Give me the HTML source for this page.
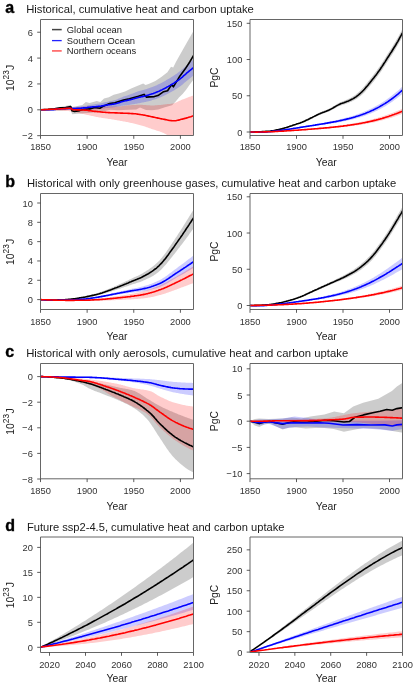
<!DOCTYPE html>
<html><head><meta charset="utf-8"><style>
html,body{margin:0;padding:0;background:#fff;}
body{width:413px;height:685px;overflow:hidden;font-family:"Liberation Sans",sans-serif;}
svg{display:block;will-change:transform;}
</style></head><body>
<svg width="413" height="685" viewBox="0 0 413 685">
<rect width="413" height="685" fill="#fff"/>
<text x="5.3" y="13.0" font-family="'Liberation Sans', sans-serif" font-weight="bold" font-size="16" fill="#000" stroke="#000" stroke-width="0.35">a</text>
<text x="26.2" y="12.9" font-family="'Liberation Sans', sans-serif" font-size="10.8" fill="#1a1a1a" textLength="227.6" lengthAdjust="spacingAndGlyphs">Historical, cumulative heat and carbon uptake</text>
<clipPath id="cpaL"><rect x="40.5" y="19.5" width="153.0" height="116.0"/></clipPath>
<g clip-path="url(#cpaL)">
<path d="M40.5,109.5 L49.8,108.8 L60.1,107.0 L70.3,104.9 L72.2,107.0 L82.3,105.1 L85.9,102.0 L89.5,102.9 L93.2,102.0 L96.8,100.9 L100.4,102.0 L104.0,98.6 L108.9,97.3 L113.7,94.8 L118.6,93.6 L125.0,91.4 L131.1,88.6 L137.1,86.1 L143.2,83.6 L145.6,85.0 L149.2,83.7 L155.3,81.1 L161.3,77.1 L167.4,72.2 L171.0,66.7 L173.2,67.5 L175.9,62.0 L183.2,49.0 L192.6,32.6 L194.0,30.3 L194.0,78.8 L192.1,81.4 L189.6,84.8 L186.1,89.8 L182.6,94.0 L179.0,97.5 L175.5,101.7 L172.0,105.3 L165.0,107.3 L158.2,109.4 L152.1,110.3 L146.0,110.1 L140.0,107.6 L136.2,109.5 L129.1,109.8 L117.9,110.2 L110.5,109.8 L100.2,112.1 L84.3,113.2 L72.2,114.3 L70.3,109.8 L60.1,110.7 L49.8,110.4 L40.5,110.1 Z" fill="#000000" fill-opacity="0.2"/>
<path d="M40.5,109.5 L41.4,109.5 L42.4,109.5 L43.3,109.5 L44.2,109.5 L45.2,109.4 L46.1,109.4 L47.0,109.3 L48.0,109.3 L48.9,109.2 L49.8,109.2 L50.8,109.1 L51.7,109.0 L52.6,108.9 L53.6,108.8 L54.5,108.7 L55.4,108.5 L56.4,108.4 L57.3,108.3 L58.2,108.1 L59.2,108.0 L60.1,107.9 L61.0,107.8 L62.0,107.7 L62.9,107.6 L63.8,107.6 L64.8,107.5 L65.7,107.4 L66.6,107.3 L67.5,107.3 L68.5,107.2 L69.4,107.2 L70.3,107.1 L71.3,107.1 L72.2,107.1 L73.1,107.0 L74.1,107.0 L75.0,106.9 L75.9,106.9 L76.9,106.8 L77.8,106.7 L78.7,106.6 L79.7,106.5 L80.6,106.4 L81.5,106.3 L82.5,106.2 L83.4,106.1 L84.3,105.9 L85.3,105.8 L86.2,105.7 L87.1,105.5 L88.1,105.3 L89.0,105.1 L89.9,105.0 L90.9,104.8 L91.8,104.7 L92.7,104.5 L93.7,104.4 L94.6,104.3 L95.5,104.1 L96.5,104.0 L97.4,103.8 L98.3,103.7 L99.3,103.5 L100.2,103.4 L101.1,103.2 L102.1,103.0 L103.0,102.8 L103.9,102.6 L104.9,102.3 L105.8,102.1 L106.7,101.9 L107.7,101.7 L108.6,101.5 L109.5,101.3 L110.5,101.1 L111.4,100.9 L112.3,100.7 L113.3,100.5 L114.2,100.3 L115.1,100.1 L116.0,99.8 L117.0,99.4 L117.9,99.0 L118.8,98.6 L119.8,98.2 L120.7,97.8 L121.6,97.4 L122.6,97.0 L123.5,96.6 L124.4,96.3 L125.4,96.0 L126.3,95.7 L127.2,95.4 L128.2,95.1 L129.1,94.8 L130.0,94.5 L131.0,94.1 L131.9,93.8 L132.8,93.4 L133.8,93.0 L134.7,92.7 L135.6,92.3 L136.6,92.0 L137.5,91.6 L138.4,91.3 L139.4,91.0 L140.3,90.7 L141.2,90.5 L142.2,90.2 L143.1,90.0 L144.0,89.7 L145.0,89.5 L145.9,89.2 L146.8,88.9 L147.8,88.6 L148.7,88.3 L149.6,87.9 L150.6,87.6 L151.5,87.3 L152.4,86.9 L153.4,86.5 L154.3,86.2 L155.2,85.8 L156.2,85.4 L157.1,85.0 L158.0,84.6 L159.0,84.1 L159.9,83.7 L160.8,83.2 L161.8,82.7 L162.7,82.2 L163.6,81.7 L164.5,81.2 L165.5,80.7 L166.4,80.1 L167.3,79.6 L168.3,79.0 L169.2,78.5 L170.1,77.9 L171.1,77.3 L172.0,76.7 L172.9,76.2 L173.9,75.6 L174.8,74.9 L175.7,74.3 L176.7,73.7 L177.6,73.0 L178.5,72.3 L179.5,71.6 L180.4,70.9 L181.3,70.1 L182.3,69.3 L183.2,68.5 L184.1,67.6 L185.1,66.8 L186.0,65.9 L186.9,65.1 L187.9,64.3 L188.8,63.5 L189.7,62.7 L190.7,61.9 L191.6,61.1 L192.5,60.3 L193.5,59.5 L193.9,59.1 L193.9,75.1 L193.5,75.5 L192.5,76.2 L191.6,77.0 L190.7,77.7 L189.7,78.5 L188.8,79.2 L187.9,80.0 L186.9,80.7 L186.0,81.5 L185.1,82.3 L184.1,83.1 L183.2,83.9 L182.3,84.7 L181.3,85.4 L180.4,86.2 L179.5,86.8 L178.5,87.5 L177.6,88.1 L176.7,88.7 L175.7,89.3 L174.8,89.9 L173.9,90.4 L172.9,91.0 L172.0,91.5 L171.1,92.1 L170.1,92.6 L169.2,93.1 L168.3,93.6 L167.3,94.0 L166.4,94.5 L165.5,95.0 L164.5,95.4 L163.6,95.9 L162.7,96.3 L161.8,96.8 L160.8,97.2 L159.9,97.5 L159.0,97.9 L158.0,98.3 L157.1,98.6 L156.2,98.9 L155.2,99.2 L154.3,99.5 L153.4,99.8 L152.4,100.1 L151.5,100.4 L150.6,100.7 L149.6,100.9 L148.7,101.2 L147.8,101.4 L146.8,101.6 L145.9,101.9 L145.0,102.1 L144.0,102.3 L143.1,102.5 L142.2,102.6 L141.2,102.8 L140.3,103.0 L139.4,103.2 L138.4,103.3 L137.5,103.5 L136.6,103.7 L135.6,103.8 L134.7,104.0 L133.8,104.2 L132.8,104.3 L131.9,104.5 L131.0,104.6 L130.0,104.7 L129.1,104.9 L128.2,105.0 L127.2,105.1 L126.3,105.2 L125.4,105.3 L124.4,105.4 L123.5,105.5 L122.6,105.7 L121.6,105.8 L120.7,106.0 L119.8,106.2 L118.8,106.4 L117.9,106.6 L117.0,106.8 L116.0,107.0 L115.1,107.1 L114.2,107.3 L113.3,107.3 L112.3,107.4 L111.4,107.5 L110.5,107.6 L109.5,107.7 L108.6,107.8 L107.7,107.9 L106.7,108.0 L105.8,108.1 L104.9,108.3 L103.9,108.4 L103.0,108.5 L102.1,108.6 L101.1,108.7 L100.2,108.8 L99.3,108.9 L98.3,108.9 L97.4,109.0 L96.5,109.0 L95.5,109.1 L94.6,109.1 L93.7,109.2 L92.7,109.2 L91.8,109.3 L90.9,109.3 L89.9,109.4 L89.0,109.4 L88.1,109.5 L87.1,109.6 L86.2,109.7 L85.3,109.7 L84.3,109.8 L83.4,109.8 L82.5,109.8 L81.5,109.9 L80.6,109.9 L79.7,109.9 L78.7,110.0 L77.8,110.0 L76.9,110.0 L75.9,110.0 L75.0,110.0 L74.1,110.0 L73.1,110.0 L72.2,110.0 L71.3,109.9 L70.3,109.9 L69.4,109.8 L68.5,109.8 L67.5,109.8 L66.6,109.8 L65.7,109.8 L64.8,109.8 L63.8,109.8 L62.9,109.8 L62.0,109.9 L61.0,109.9 L60.1,109.9 L59.2,109.9 L58.2,109.9 L57.3,110.0 L56.4,110.1 L55.4,110.1 L54.5,110.2 L53.6,110.3 L52.6,110.3 L51.7,110.4 L50.8,110.4 L49.8,110.4 L48.9,110.4 L48.0,110.4 L47.0,110.4 L46.1,110.4 L45.2,110.3 L44.2,110.3 L43.3,110.2 L42.4,110.2 L41.4,110.1 L40.5,110.1 Z" fill="#0000ff" fill-opacity="0.2"/>
<path d="M40.5,109.5 L41.4,109.5 L42.4,109.4 L43.3,109.4 L44.2,109.3 L45.2,109.3 L46.1,109.2 L47.0,109.2 L48.0,109.1 L48.9,109.1 L49.8,109.0 L50.8,109.0 L51.7,108.9 L52.6,108.9 L53.6,108.8 L54.5,108.8 L55.4,108.7 L56.4,108.6 L57.3,108.6 L58.2,108.5 L59.2,108.5 L60.1,108.4 L61.0,108.3 L62.0,108.3 L62.9,108.2 L63.8,108.2 L64.8,108.1 L65.7,108.0 L66.6,108.0 L67.5,107.9 L68.5,107.9 L69.4,107.8 L70.3,107.7 L71.3,107.6 L72.2,107.6 L73.1,107.5 L74.1,107.4 L75.0,107.3 L75.9,107.2 L76.9,107.2 L77.8,107.1 L78.7,107.0 L79.7,106.9 L80.6,106.9 L81.5,106.8 L82.5,106.8 L83.4,106.7 L84.3,106.7 L85.3,106.7 L86.2,106.6 L87.1,106.6 L88.1,106.6 L89.0,106.6 L89.9,106.6 L90.9,106.5 L91.8,106.5 L92.7,106.5 L93.7,106.5 L94.6,106.5 L95.5,106.5 L96.5,106.5 L97.4,106.4 L98.3,106.4 L99.3,106.4 L100.2,106.4 L101.1,106.4 L102.1,106.4 L103.0,106.4 L103.9,106.4 L104.9,106.4 L105.8,106.4 L106.7,106.4 L107.7,106.4 L108.6,106.4 L109.5,106.4 L110.5,106.4 L111.4,106.4 L112.3,106.4 L113.3,106.4 L114.2,106.4 L115.1,106.4 L116.0,106.4 L117.0,106.4 L117.9,106.4 L118.8,106.4 L119.8,106.4 L120.7,106.3 L121.6,106.2 L122.6,106.1 L123.5,105.9 L124.4,105.8 L125.4,105.7 L126.3,105.6 L127.2,105.4 L128.2,105.3 L129.1,105.3 L130.0,105.2 L131.0,105.2 L131.9,105.1 L132.8,105.0 L133.8,105.0 L134.7,104.9 L135.6,104.9 L136.6,104.8 L137.5,104.8 L138.4,104.8 L139.4,104.8 L140.3,104.8 L141.2,104.8 L142.2,104.8 L143.1,104.9 L144.0,105.0 L145.0,105.1 L145.9,105.1 L146.8,105.2 L147.8,105.2 L148.7,105.3 L149.6,105.3 L150.6,105.4 L151.5,105.4 L152.4,105.4 L153.4,105.4 L154.3,105.4 L155.2,105.3 L156.2,105.3 L157.1,105.2 L158.0,105.1 L159.0,105.1 L159.9,105.0 L160.8,104.9 L161.8,104.8 L162.7,104.7 L163.6,104.5 L164.5,104.4 L165.5,104.3 L166.4,104.2 L167.3,104.1 L168.3,104.0 L169.2,104.0 L170.1,103.9 L171.1,103.7 L172.0,103.6 L172.9,103.4 L173.9,103.2 L174.8,102.9 L175.7,102.6 L176.7,102.2 L177.6,101.7 L178.5,101.2 L179.5,100.8 L180.4,100.4 L181.3,100.0 L182.3,99.6 L183.2,99.3 L184.1,98.9 L185.1,98.5 L186.0,98.2 L186.9,97.8 L187.9,97.5 L188.8,97.1 L189.7,96.8 L190.7,96.5 L191.6,96.1 L192.5,95.8 L193.5,95.5 L194.0,95.3 L193.9,148.6 L193.5,148.4 L192.5,148.0 L191.6,147.6 L190.7,147.1 L189.7,146.7 L188.8,146.3 L187.9,145.9 L186.9,145.4 L186.0,145.0 L185.1,144.5 L184.1,144.1 L183.2,143.6 L182.3,143.1 L181.3,142.7 L180.4,142.2 L179.5,141.7 L178.5,141.3 L177.6,140.8 L176.7,140.3 L175.7,139.8 L174.8,139.3 L173.9,138.8 L172.9,138.3 L172.0,137.8 L171.1,137.3 L170.1,136.8 L169.2,136.3 L168.3,135.8 L167.3,135.2 L166.4,134.6 L165.5,134.1 L164.5,133.5 L163.6,133.1 L162.7,132.7 L161.8,132.3 L160.8,131.9 L159.9,131.6 L159.0,131.3 L158.0,131.0 L157.1,130.7 L156.2,130.4 L155.2,130.1 L154.3,129.8 L153.4,129.5 L152.4,129.2 L151.5,128.9 L150.6,128.6 L149.6,128.2 L148.7,127.9 L147.8,127.6 L146.8,127.3 L145.9,127.0 L145.0,126.6 L144.0,126.3 L143.1,126.0 L142.2,125.7 L141.2,125.4 L140.3,125.2 L139.4,124.9 L138.4,124.7 L137.5,124.4 L136.6,124.2 L135.6,124.0 L134.7,123.8 L133.8,123.5 L132.8,123.3 L131.9,123.1 L131.0,122.9 L130.0,122.7 L129.1,122.5 L128.2,122.3 L127.2,122.1 L126.3,122.0 L125.4,121.8 L124.4,121.6 L123.5,121.4 L122.6,121.2 L121.6,121.1 L120.7,120.9 L119.8,120.7 L118.8,120.5 L117.9,120.4 L117.0,120.2 L116.0,120.0 L115.1,119.9 L114.2,119.7 L113.3,119.6 L112.3,119.4 L111.4,119.3 L110.5,119.1 L109.5,119.0 L108.6,118.9 L107.7,118.7 L106.7,118.6 L105.8,118.5 L104.9,118.3 L103.9,118.2 L103.0,118.0 L102.1,117.9 L101.1,117.7 L100.2,117.6 L99.3,117.4 L98.3,117.2 L97.4,117.0 L96.5,116.9 L95.5,116.7 L94.6,116.5 L93.7,116.3 L92.7,116.1 L91.8,115.9 L90.9,115.7 L89.9,115.5 L89.0,115.3 L88.1,115.1 L87.1,114.9 L86.2,114.7 L85.3,114.5 L84.3,114.3 L83.4,114.1 L82.5,113.9 L81.5,113.7 L80.6,113.5 L79.7,113.2 L78.7,113.0 L77.8,112.8 L76.9,112.5 L75.9,112.3 L75.0,112.1 L74.1,111.9 L73.1,111.7 L72.2,111.6 L71.3,111.4 L70.3,111.3 L69.4,111.2 L68.5,111.1 L67.5,111.0 L66.6,111.0 L65.7,110.9 L64.8,110.9 L63.8,110.8 L62.9,110.7 L62.0,110.7 L61.0,110.6 L60.1,110.6 L59.2,110.5 L58.2,110.5 L57.3,110.5 L56.4,110.4 L55.4,110.4 L54.5,110.3 L53.6,110.3 L52.6,110.3 L51.7,110.2 L50.8,110.2 L49.8,110.2 L48.9,110.2 L48.0,110.1 L47.0,110.1 L46.1,110.1 L45.2,110.1 L44.2,110.1 L43.3,110.1 L42.4,110.1 L41.4,110.1 L40.5,110.1 Z" fill="#ff0000" fill-opacity="0.2"/>
<path d="M40.5,109.8 L48.0,109.4 L54.5,108.8 L60.1,107.9 L65.7,107.5 L70.8,106.6 L72.0,110.7 L74.5,111.4 L79.7,110.6 L84.3,109.2 L89.9,108.9 L94.6,107.5 L99.9,108.2 L103.9,105.9 L109.5,103.6 L114.8,102.7 L123.5,100.1 L129.4,98.8 L138.4,96.2 L144.0,94.4 L146.5,97.1 L149.6,96.9 L154.3,96.6 L158.0,95.6 L163.6,91.7 L167.6,90.7 L171.5,84.8 L173.4,86.8 L179.8,76.2 L185.1,69.1 L189.7,62.0 L193.9,54.8" fill="none" stroke="#000000" stroke-width="1.6" stroke-linejoin="round"/>
<path d="M40.5,109.8 L41.4,109.8 L42.4,109.8 L43.3,109.8 L44.2,109.8 L45.2,109.8 L46.1,109.8 L47.0,109.8 L48.0,109.8 L48.9,109.8 L49.8,109.8 L50.8,109.8 L51.7,109.7 L52.6,109.7 L53.6,109.6 L54.5,109.5 L55.4,109.4 L56.4,109.3 L57.3,109.1 L58.2,109.0 L59.2,109.0 L60.1,108.9 L61.0,108.8 L62.0,108.8 L62.9,108.7 L63.8,108.7 L64.8,108.6 L65.7,108.6 L66.6,108.5 L67.5,108.5 L68.5,108.5 L69.4,108.5 L70.3,108.5 L71.3,108.5 L72.2,108.5 L73.1,108.5 L74.1,108.5 L75.0,108.5 L75.9,108.5 L76.9,108.4 L77.8,108.4 L78.7,108.3 L79.7,108.3 L80.6,108.2 L81.5,108.1 L82.5,108.0 L83.4,107.9 L84.3,107.9 L85.3,107.8 L86.2,107.7 L87.1,107.6 L88.1,107.4 L89.0,107.3 L89.9,107.2 L90.9,107.1 L91.8,107.0 L92.7,106.9 L93.7,106.8 L94.6,106.8 L95.5,106.7 L96.5,106.6 L97.4,106.5 L98.3,106.4 L99.3,106.3 L100.2,106.2 L101.1,106.1 L102.1,105.9 L103.0,105.8 L103.9,105.6 L104.9,105.4 L105.8,105.3 L106.7,105.1 L107.7,104.9 L108.6,104.8 L109.5,104.6 L110.5,104.5 L111.4,104.4 L112.3,104.2 L113.3,104.1 L114.2,104.0 L115.1,103.8 L116.0,103.6 L117.0,103.3 L117.9,103.0 L118.8,102.7 L119.8,102.4 L120.7,102.1 L121.6,101.8 L122.6,101.5 L123.5,101.3 L124.4,101.0 L125.4,100.8 L126.3,100.6 L127.2,100.4 L128.2,100.3 L129.1,100.0 L130.0,99.8 L131.0,99.6 L131.9,99.3 L132.8,99.1 L133.8,98.8 L134.7,98.5 L135.6,98.3 L136.6,98.0 L137.5,97.8 L138.4,97.5 L139.4,97.3 L140.3,97.1 L141.2,96.8 L142.2,96.6 L143.1,96.4 L144.0,96.2 L145.0,96.0 L145.9,95.7 L146.8,95.4 L147.8,95.2 L148.7,94.9 L149.6,94.6 L150.6,94.3 L151.5,94.0 L152.4,93.7 L153.4,93.4 L154.3,93.0 L155.2,92.7 L156.2,92.3 L157.1,91.9 L158.0,91.6 L159.0,91.2 L159.9,90.8 L160.8,90.3 L161.8,89.9 L162.7,89.4 L163.6,88.9 L164.5,88.5 L165.5,88.0 L166.4,87.5 L167.3,86.9 L168.3,86.4 L169.2,85.9 L170.1,85.4 L171.1,84.8 L172.0,84.2 L172.9,83.7 L173.9,83.1 L174.8,82.5 L175.7,81.9 L176.7,81.3 L177.6,80.6 L178.5,80.0 L179.5,79.3 L180.4,78.6 L181.3,77.9 L182.3,77.1 L183.2,76.2 L184.1,75.4 L185.1,74.6 L186.0,73.8 L186.9,72.9 L187.9,72.2 L188.8,71.4 L189.7,70.6 L190.7,69.8 L191.6,69.1 L192.5,68.3 L193.5,67.5 L193.9,67.1" fill="none" stroke="#0000ff" stroke-width="1.6" stroke-linejoin="round"/>
<path d="M40.5,109.8 L41.4,109.8 L42.4,109.7 L43.3,109.7 L44.2,109.6 L45.2,109.6 L46.1,109.5 L47.0,109.5 L48.0,109.5 L48.9,109.4 L49.8,109.4 L50.8,109.3 L51.7,109.3 L52.6,109.2 L53.6,109.2 L54.5,109.2 L55.4,109.1 L56.4,109.1 L57.3,109.0 L58.2,109.0 L59.2,108.9 L60.1,108.9 L61.0,108.8 L62.0,108.8 L62.9,108.7 L63.8,108.6 L64.8,108.6 L65.7,108.5 L66.6,108.4 L67.5,108.4 L68.5,108.3 L69.4,108.3 L70.3,108.3 L71.3,108.5 L72.2,109.4 L73.1,109.6 L74.1,109.7 L75.0,109.8 L75.9,109.8 L76.9,109.9 L77.8,109.9 L78.7,109.9 L79.7,109.9 L80.6,110.0 L81.5,110.0 L82.5,110.0 L83.4,110.0 L84.3,110.1 L85.3,110.1 L86.2,110.2 L87.1,110.3 L88.1,110.4 L89.0,110.6 L89.9,110.7 L90.9,110.8 L91.8,111.0 L92.7,111.1 L93.7,111.2 L94.6,111.4 L95.5,111.4 L96.5,111.5 L97.4,111.6 L98.3,111.7 L99.3,111.8 L100.2,111.9 L101.1,112.0 L102.1,112.1 L103.0,112.2 L103.9,112.3 L104.9,112.3 L105.8,112.4 L106.7,112.5 L107.7,112.5 L108.6,112.6 L109.5,112.6 L110.5,112.7 L111.4,112.7 L112.3,112.8 L113.3,112.8 L114.2,112.8 L115.1,112.9 L116.0,112.9 L117.0,112.9 L117.9,113.0 L118.8,113.0 L119.8,113.0 L120.7,113.1 L121.6,113.1 L122.6,113.1 L123.5,113.2 L124.4,113.2 L125.4,113.2 L126.3,113.3 L127.2,113.3 L128.2,113.4 L129.1,113.4 L130.0,113.5 L131.0,113.5 L131.9,113.6 L132.8,113.6 L133.8,113.7 L134.7,113.8 L135.6,113.8 L136.6,114.0 L137.5,114.1 L138.4,114.2 L139.4,114.4 L140.3,114.5 L141.2,114.7 L142.2,114.8 L143.1,115.0 L144.0,115.1 L145.0,115.3 L145.9,115.5 L146.8,115.7 L147.8,115.9 L148.7,116.1 L149.6,116.3 L150.6,116.5 L151.5,116.7 L152.4,116.9 L153.4,117.1 L154.3,117.3 L155.2,117.5 L156.2,117.7 L157.1,117.9 L158.0,118.1 L159.0,118.3 L159.9,118.5 L160.8,118.7 L161.8,118.9 L162.7,119.0 L163.6,119.2 L164.5,119.4 L165.5,119.6 L166.4,119.8 L167.3,120.0 L168.3,120.2 L169.2,120.4 L170.1,120.5 L171.1,120.6 L172.0,120.7 L172.9,120.8 L173.9,120.8 L174.8,120.8 L175.7,120.7 L176.7,120.5 L177.6,120.3 L178.5,120.1 L179.5,119.9 L180.4,119.6 L181.3,119.3 L182.3,119.1 L183.2,118.9 L184.1,118.6 L185.1,118.4 L186.0,118.1 L186.9,117.9 L187.9,117.6 L188.8,117.3 L189.7,117.0 L190.7,116.7 L191.6,116.4 L192.5,116.1 L193.5,115.8 L193.9,115.6" fill="none" stroke="#ff0000" stroke-width="1.6" stroke-linejoin="round"/>
</g>
<path d="M40.5,19.5 H193.5 V135.5 H40.5 Z" fill="none" stroke="#666" stroke-width="1"/>
<line x1="37.2" y1="135.66" x2="40.5" y2="135.66" stroke="#333" stroke-width="0.8"/>
<text x="32.9" y="139.16" font-family="'Liberation Sans', sans-serif" font-size="9.9" fill="#333" text-anchor="end" textLength="10.61" lengthAdjust="spacingAndGlyphs">−2</text>
<line x1="37.2" y1="109.80" x2="40.5" y2="109.80" stroke="#333" stroke-width="0.8"/>
<text x="32.9" y="113.30" font-family="'Liberation Sans', sans-serif" font-size="9.9" fill="#333" text-anchor="end" textLength="5.18" lengthAdjust="spacingAndGlyphs">0</text>
<line x1="37.2" y1="83.94" x2="40.5" y2="83.94" stroke="#333" stroke-width="0.8"/>
<text x="32.9" y="87.44" font-family="'Liberation Sans', sans-serif" font-size="9.9" fill="#333" text-anchor="end" textLength="5.18" lengthAdjust="spacingAndGlyphs">2</text>
<line x1="37.2" y1="58.08" x2="40.5" y2="58.08" stroke="#333" stroke-width="0.8"/>
<text x="32.9" y="61.58" font-family="'Liberation Sans', sans-serif" font-size="9.9" fill="#333" text-anchor="end" textLength="5.18" lengthAdjust="spacingAndGlyphs">4</text>
<line x1="37.2" y1="32.22" x2="40.5" y2="32.22" stroke="#333" stroke-width="0.8"/>
<text x="32.9" y="35.72" font-family="'Liberation Sans', sans-serif" font-size="9.9" fill="#333" text-anchor="end" textLength="5.18" lengthAdjust="spacingAndGlyphs">6</text>
<line x1="40.50" y1="135.5" x2="40.50" y2="138.8" stroke="#333" stroke-width="0.8"/>
<text x="40.50" y="150.3" font-family="'Liberation Sans', sans-serif" font-size="9.9" fill="#333" text-anchor="middle" textLength="20.70" lengthAdjust="spacingAndGlyphs">1850</text>
<line x1="87.13" y1="135.5" x2="87.13" y2="138.8" stroke="#333" stroke-width="0.8"/>
<text x="87.13" y="150.3" font-family="'Liberation Sans', sans-serif" font-size="9.9" fill="#333" text-anchor="middle" textLength="20.70" lengthAdjust="spacingAndGlyphs">1900</text>
<line x1="133.77" y1="135.5" x2="133.77" y2="138.8" stroke="#333" stroke-width="0.8"/>
<text x="133.77" y="150.3" font-family="'Liberation Sans', sans-serif" font-size="9.9" fill="#333" text-anchor="middle" textLength="20.70" lengthAdjust="spacingAndGlyphs">1950</text>
<line x1="180.41" y1="135.5" x2="180.41" y2="138.8" stroke="#333" stroke-width="0.8"/>
<text x="180.41" y="150.3" font-family="'Liberation Sans', sans-serif" font-size="9.9" fill="#333" text-anchor="middle" textLength="20.70" lengthAdjust="spacingAndGlyphs">2000</text>
<text x="117.0" y="165.9" font-family="'Liberation Sans', sans-serif" font-size="10.4" fill="#222" text-anchor="middle">Year</text>
<text transform="translate(13.8,77.9) rotate(-90)" font-family="'Liberation Sans', sans-serif" font-size="10.4" fill="#222" text-anchor="middle">10<tspan font-size="8.3" dy="-4.9">23</tspan><tspan dy="4.9" dx="0.3">J</tspan></text>
<clipPath id="cpaR"><rect x="250.0" y="19.5" width="152.5" height="116.0"/></clipPath>
<g clip-path="url(#cpaR)">
<path d="M250.0,131.9 L250.9,131.9 L251.9,131.8 L252.8,131.8 L253.7,131.8 L254.7,131.8 L255.6,131.7 L256.5,131.7 L257.4,131.7 L258.4,131.6 L259.3,131.6 L260.2,131.5 L261.2,131.4 L262.1,131.4 L263.0,131.3 L263.9,131.2 L264.9,131.2 L265.8,131.1 L266.7,131.0 L267.7,130.9 L268.6,130.8 L269.5,130.8 L270.5,130.7 L271.4,130.5 L272.3,130.4 L273.2,130.2 L274.2,130.0 L275.1,129.9 L276.0,129.7 L277.0,129.4 L277.9,129.2 L278.8,129.0 L279.8,128.8 L280.7,128.6 L281.6,128.3 L282.6,128.1 L283.5,127.8 L284.4,127.5 L285.3,127.3 L286.3,127.0 L287.2,126.6 L288.1,126.3 L289.1,126.0 L290.0,125.7 L290.9,125.3 L291.9,125.0 L292.8,124.7 L293.7,124.3 L294.6,124.0 L295.6,123.7 L296.5,123.4 L297.4,123.1 L298.4,122.7 L299.3,122.4 L300.2,122.1 L301.1,121.7 L302.1,121.3 L303.0,121.0 L303.9,120.5 L304.9,120.1 L305.8,119.6 L306.7,119.2 L307.7,118.7 L308.6,118.2 L309.5,117.8 L310.4,117.3 L311.4,116.8 L312.3,116.3 L313.2,115.9 L314.2,115.4 L315.1,114.9 L316.0,114.4 L317.0,113.9 L317.9,113.4 L318.8,113.0 L319.8,112.5 L320.7,112.1 L321.6,111.7 L322.5,111.4 L323.5,111.0 L324.4,110.6 L325.3,110.3 L326.3,109.9 L327.2,109.5 L328.1,109.1 L329.1,108.7 L330.0,108.2 L330.9,107.7 L331.8,107.2 L332.8,106.6 L333.7,106.0 L334.6,105.5 L335.6,104.9 L336.5,104.3 L337.4,103.8 L338.4,103.3 L339.3,102.8 L340.2,102.3 L341.1,101.9 L342.1,101.5 L343.0,101.2 L343.9,100.8 L344.9,100.5 L345.8,100.1 L346.7,99.7 L347.6,99.3 L348.6,98.8 L349.5,98.4 L350.4,97.9 L351.4,97.4 L352.3,96.8 L353.2,96.3 L354.2,95.7 L355.1,95.1 L356.0,94.4 L356.9,93.6 L357.9,92.8 L358.8,92.0 L359.7,91.1 L360.7,90.2 L361.6,89.3 L362.5,88.3 L363.5,87.3 L364.4,86.2 L365.3,85.1 L366.2,83.9 L367.2,82.8 L368.1,81.6 L369.0,80.4 L370.0,79.2 L370.9,78.1 L371.8,76.9 L372.8,75.7 L373.7,74.5 L374.6,73.3 L375.6,72.1 L376.5,70.9 L377.4,69.6 L378.3,68.3 L379.3,67.0 L380.2,65.7 L381.1,64.3 L382.1,62.8 L383.0,61.4 L383.9,59.9 L384.9,58.5 L385.8,57.0 L386.7,55.5 L387.6,54.0 L388.6,52.6 L389.5,51.1 L390.4,49.7 L391.4,48.2 L392.3,46.7 L393.2,45.2 L394.1,43.7 L395.1,42.2 L396.0,40.6 L396.9,39.0 L397.9,37.4 L398.8,35.7 L399.7,34.0 L400.7,32.3 L401.6,30.6 L402.5,28.9 L403.5,27.3 L403.5,35.3 L402.5,36.9 L401.6,38.5 L400.7,40.1 L399.7,41.8 L398.8,43.5 L397.9,45.1 L396.9,46.8 L396.0,48.3 L395.1,49.9 L394.1,51.4 L393.2,52.8 L392.3,54.3 L391.4,55.7 L390.4,57.1 L389.5,58.6 L388.6,60.0 L387.6,61.4 L386.7,62.8 L385.8,64.3 L384.9,65.7 L383.9,67.1 L383.0,68.6 L382.1,70.0 L381.1,71.4 L380.2,72.7 L379.3,74.1 L378.3,75.3 L377.4,76.6 L376.5,77.8 L375.6,79.0 L374.6,80.2 L373.7,81.4 L372.8,82.6 L371.8,83.7 L370.9,84.8 L370.0,85.9 L369.0,87.0 L368.1,88.1 L367.2,89.2 L366.2,90.3 L365.3,91.4 L364.4,92.4 L363.5,93.3 L362.5,94.2 L361.6,95.1 L360.7,95.9 L359.7,96.6 L358.8,97.3 L357.9,98.0 L356.9,98.7 L356.0,99.3 L355.1,99.8 L354.2,100.3 L353.2,100.8 L352.3,101.3 L351.4,101.7 L350.4,102.1 L349.5,102.5 L348.6,102.9 L347.6,103.3 L346.7,103.6 L345.8,103.9 L344.9,104.2 L343.9,104.5 L343.0,104.8 L342.1,105.1 L341.1,105.4 L340.2,105.7 L339.3,106.1 L338.4,106.5 L337.4,107.0 L336.5,107.5 L335.6,108.0 L334.6,108.5 L333.7,109.0 L332.8,109.5 L331.8,110.0 L330.9,110.5 L330.0,110.9 L329.1,111.4 L328.1,111.8 L327.2,112.1 L326.3,112.5 L325.3,112.8 L324.4,113.2 L323.5,113.5 L322.5,113.8 L321.6,114.2 L320.7,114.5 L319.8,114.9 L318.8,115.3 L317.9,115.7 L317.0,116.1 L316.0,116.6 L315.1,117.0 L314.2,117.5 L313.2,118.0 L312.3,118.4 L311.4,118.9 L310.4,119.3 L309.5,119.7 L308.6,120.2 L307.7,120.6 L306.7,121.0 L305.8,121.5 L304.9,121.9 L303.9,122.3 L303.0,122.7 L302.1,123.0 L301.1,123.4 L300.2,123.7 L299.3,124.0 L298.4,124.3 L297.4,124.6 L296.5,124.8 L295.6,125.1 L294.6,125.4 L293.7,125.7 L292.8,126.0 L291.9,126.3 L290.9,126.6 L290.0,126.9 L289.1,127.2 L288.1,127.5 L287.2,127.9 L286.3,128.1 L285.3,128.4 L284.4,128.7 L283.5,128.9 L282.6,129.2 L281.6,129.4 L280.7,129.6 L279.8,129.8 L278.8,130.0 L277.9,130.2 L277.0,130.4 L276.0,130.6 L275.1,130.8 L274.2,131.0 L273.2,131.1 L272.3,131.2 L271.4,131.4 L270.5,131.5 L269.5,131.5 L268.6,131.6 L267.7,131.6 L266.7,131.7 L265.8,131.7 L264.9,131.8 L263.9,131.8 L263.0,131.9 L262.1,131.9 L261.2,131.9 L260.2,132.0 L259.3,132.0 L258.4,132.0 L257.4,132.0 L256.5,132.1 L255.6,132.1 L254.7,132.1 L253.7,132.1 L252.8,132.1 L251.9,132.1 L250.9,132.1 L250.0,132.1 Z" fill="#000000" fill-opacity="0.2"/>
<path d="M250.0,131.7 L250.9,131.8 L251.9,131.9 L252.8,131.9 L253.7,132.0 L254.7,132.0 L255.6,132.1 L256.5,132.1 L257.4,132.1 L258.4,132.1 L259.3,132.1 L260.2,132.1 L261.2,132.0 L262.1,132.0 L263.0,132.0 L263.9,131.9 L264.9,131.8 L265.8,131.8 L266.7,131.7 L267.7,131.6 L268.6,131.5 L269.5,131.4 L270.5,131.4 L271.4,131.3 L272.3,131.1 L273.2,131.0 L274.2,130.9 L275.1,130.8 L276.0,130.7 L277.0,130.6 L277.9,130.4 L278.8,130.3 L279.8,130.2 L280.7,130.0 L281.6,129.9 L282.6,129.8 L283.5,129.6 L284.4,129.5 L285.3,129.3 L286.3,129.2 L287.2,129.0 L288.1,128.9 L289.1,128.7 L290.0,128.6 L290.9,128.4 L291.9,128.3 L292.8,128.1 L293.7,127.9 L294.6,127.8 L295.6,127.6 L296.5,127.5 L297.4,127.3 L298.4,127.2 L299.3,127.0 L300.2,126.8 L301.1,126.7 L302.1,126.5 L303.0,126.4 L303.9,126.2 L304.9,126.0 L305.8,125.9 L306.7,125.7 L307.7,125.6 L308.6,125.4 L309.5,125.2 L310.4,125.1 L311.4,124.9 L312.3,124.7 L313.2,124.6 L314.2,124.4 L315.1,124.2 L316.0,124.1 L317.0,123.9 L317.9,123.7 L318.8,123.6 L319.8,123.4 L320.7,123.2 L321.6,123.1 L322.5,122.9 L323.5,122.7 L324.4,122.5 L325.3,122.4 L326.3,122.2 L327.2,122.0 L328.1,121.8 L329.1,121.6 L330.0,121.5 L330.9,121.3 L331.8,121.1 L332.8,120.9 L333.7,120.7 L334.6,120.5 L335.6,120.3 L336.5,120.1 L337.4,119.9 L338.4,119.7 L339.3,119.4 L340.2,119.2 L341.1,119.0 L342.1,118.8 L343.0,118.5 L343.9,118.3 L344.9,118.1 L345.8,117.8 L346.7,117.6 L347.6,117.3 L348.6,117.0 L349.5,116.8 L350.4,116.5 L351.4,116.2 L352.3,115.9 L353.2,115.7 L354.2,115.4 L355.1,115.1 L356.0,114.7 L356.9,114.4 L357.9,114.1 L358.8,113.8 L359.7,113.4 L360.7,113.1 L361.6,112.7 L362.5,112.4 L363.5,112.0 L364.4,111.6 L365.3,111.2 L366.2,110.8 L367.2,110.4 L368.1,110.0 L369.0,109.6 L370.0,109.1 L370.9,108.7 L371.8,108.2 L372.8,107.8 L373.7,107.3 L374.6,106.8 L375.6,106.3 L376.5,105.8 L377.4,105.3 L378.3,104.8 L379.3,104.2 L380.2,103.7 L381.1,103.1 L382.1,102.5 L383.0,101.9 L383.9,101.3 L384.9,100.7 L385.8,100.1 L386.7,99.4 L387.6,98.8 L388.6,98.1 L389.5,97.4 L390.4,96.7 L391.4,96.0 L392.3,95.3 L393.2,94.6 L394.1,93.8 L395.1,93.1 L396.0,92.3 L396.9,91.5 L397.9,90.7 L398.8,89.9 L399.7,89.1 L400.7,88.2 L401.6,87.3 L402.5,86.5 L403.5,85.6 L403.5,92.9 L402.5,93.7 L401.6,94.5 L400.7,95.2 L399.7,96.0 L398.8,96.8 L397.9,97.5 L396.9,98.2 L396.0,98.9 L395.1,99.6 L394.1,100.3 L393.2,101.0 L392.3,101.7 L391.4,102.3 L390.4,102.9 L389.5,103.5 L388.6,104.1 L387.6,104.7 L386.7,105.3 L385.8,105.9 L384.9,106.4 L383.9,107.0 L383.0,107.5 L382.1,108.0 L381.1,108.5 L380.2,109.0 L379.3,109.5 L378.3,110.0 L377.4,110.4 L376.5,110.9 L375.6,111.3 L374.6,111.8 L373.7,112.2 L372.8,112.6 L371.8,113.0 L370.9,113.4 L370.0,113.8 L369.0,114.1 L368.1,114.5 L367.2,114.8 L366.2,115.2 L365.3,115.5 L364.4,115.9 L363.5,116.2 L362.5,116.5 L361.6,116.8 L360.7,117.1 L359.7,117.4 L358.8,117.6 L357.9,117.9 L356.9,118.2 L356.0,118.4 L355.1,118.7 L354.2,118.9 L353.2,119.2 L352.3,119.4 L351.4,119.7 L350.4,119.9 L349.5,120.1 L348.6,120.3 L347.6,120.5 L346.7,120.7 L345.8,120.9 L344.9,121.1 L343.9,121.3 L343.0,121.5 L342.1,121.7 L341.1,121.9 L340.2,122.0 L339.3,122.2 L338.4,122.4 L337.4,122.5 L336.5,122.7 L335.6,122.9 L334.6,123.0 L333.7,123.2 L332.8,123.3 L331.8,123.5 L330.9,123.6 L330.0,123.8 L329.1,123.9 L328.1,124.0 L327.2,124.2 L326.3,124.3 L325.3,124.5 L324.4,124.6 L323.5,124.7 L322.5,124.9 L321.6,125.0 L320.7,125.1 L319.8,125.3 L318.8,125.4 L317.9,125.5 L317.0,125.7 L316.0,125.8 L315.1,125.9 L314.2,126.0 L313.2,126.2 L312.3,126.3 L311.4,126.4 L310.4,126.6 L309.5,126.7 L308.6,126.8 L307.7,127.0 L306.7,127.1 L305.8,127.2 L304.9,127.3 L303.9,127.5 L303.0,127.6 L302.1,127.7 L301.1,127.9 L300.2,128.0 L299.3,128.1 L298.4,128.3 L297.4,128.4 L296.5,128.5 L295.6,128.7 L294.6,128.8 L293.7,128.9 L292.8,129.1 L291.9,129.2 L290.9,129.3 L290.0,129.5 L289.1,129.6 L288.1,129.7 L287.2,129.9 L286.3,130.0 L285.3,130.1 L284.4,130.2 L283.5,130.4 L282.6,130.5 L281.6,130.6 L280.7,130.7 L279.8,130.9 L278.8,131.0 L277.9,131.1 L277.0,131.2 L276.0,131.3 L275.1,131.4 L274.2,131.5 L273.2,131.6 L272.3,131.7 L271.4,131.8 L270.5,131.9 L269.5,132.0 L268.6,132.1 L267.7,132.1 L266.7,132.2 L265.8,132.3 L264.9,132.3 L263.9,132.4 L263.0,132.4 L262.1,132.5 L261.2,132.5 L260.2,132.5 L259.3,132.5 L258.4,132.5 L257.4,132.5 L256.5,132.5 L255.6,132.5 L254.7,132.5 L253.7,132.4 L252.8,132.4 L251.9,132.3 L250.9,132.2 L250.0,132.1 Z" fill="#0000ff" fill-opacity="0.2"/>
<path d="M250.0,131.8 L250.9,131.8 L251.9,131.8 L252.8,131.8 L253.7,131.8 L254.7,131.8 L255.6,131.8 L256.5,131.8 L257.4,131.8 L258.4,131.8 L259.3,131.8 L260.2,131.8 L261.2,131.8 L262.1,131.8 L263.0,131.7 L263.9,131.7 L264.9,131.7 L265.8,131.7 L266.7,131.6 L267.7,131.6 L268.6,131.6 L269.5,131.5 L270.5,131.5 L271.4,131.4 L272.3,131.4 L273.2,131.3 L274.2,131.3 L275.1,131.2 L276.0,131.2 L277.0,131.1 L277.9,131.1 L278.8,131.0 L279.8,131.0 L280.7,130.9 L281.6,130.9 L282.6,130.8 L283.5,130.7 L284.4,130.7 L285.3,130.6 L286.3,130.5 L287.2,130.5 L288.1,130.4 L289.1,130.4 L290.0,130.3 L290.9,130.2 L291.9,130.1 L292.8,130.1 L293.7,130.0 L294.6,129.9 L295.6,129.9 L296.5,129.8 L297.4,129.7 L298.4,129.6 L299.3,129.6 L300.2,129.5 L301.1,129.4 L302.1,129.3 L303.0,129.3 L303.9,129.2 L304.9,129.1 L305.8,129.0 L306.7,128.9 L307.7,128.9 L308.6,128.8 L309.5,128.7 L310.4,128.6 L311.4,128.5 L312.3,128.4 L313.2,128.4 L314.2,128.3 L315.1,128.2 L316.0,128.1 L317.0,128.0 L317.9,127.9 L318.8,127.8 L319.8,127.7 L320.7,127.6 L321.6,127.6 L322.5,127.5 L323.5,127.4 L324.4,127.3 L325.3,127.2 L326.3,127.1 L327.2,127.0 L328.1,126.9 L329.1,126.8 L330.0,126.6 L330.9,126.5 L331.8,126.4 L332.8,126.3 L333.7,126.2 L334.6,126.1 L335.6,126.0 L336.5,125.9 L337.4,125.7 L338.4,125.6 L339.3,125.5 L340.2,125.4 L341.1,125.2 L342.1,125.1 L343.0,125.0 L343.9,124.8 L344.9,124.7 L345.8,124.6 L346.7,124.4 L347.6,124.3 L348.6,124.1 L349.5,124.0 L350.4,123.8 L351.4,123.7 L352.3,123.5 L353.2,123.4 L354.2,123.2 L355.1,123.0 L356.0,122.8 L356.9,122.7 L357.9,122.5 L358.8,122.3 L359.7,122.1 L360.7,121.9 L361.6,121.8 L362.5,121.6 L363.5,121.4 L364.4,121.2 L365.3,120.9 L366.2,120.7 L367.2,120.5 L368.1,120.3 L369.0,120.1 L370.0,119.9 L370.9,119.6 L371.8,119.4 L372.8,119.1 L373.7,118.9 L374.6,118.6 L375.6,118.4 L376.5,118.1 L377.4,117.9 L378.3,117.6 L379.3,117.3 L380.2,117.0 L381.1,116.8 L382.1,116.5 L383.0,116.2 L383.9,115.9 L384.9,115.6 L385.8,115.3 L386.7,114.9 L387.6,114.6 L388.6,114.3 L389.5,114.0 L390.4,113.6 L391.4,113.3 L392.3,112.9 L393.2,112.6 L394.1,112.2 L395.1,111.8 L396.0,111.5 L396.9,111.1 L397.9,110.7 L398.8,110.3 L399.7,109.9 L400.7,109.5 L401.6,109.1 L402.5,108.6 L403.5,108.2 L403.5,113.3 L402.5,113.7 L401.6,114.1 L400.7,114.4 L399.7,114.8 L398.8,115.1 L397.9,115.5 L396.9,115.8 L396.0,116.1 L395.1,116.4 L394.1,116.8 L393.2,117.1 L392.3,117.4 L391.4,117.7 L390.4,118.0 L389.5,118.2 L388.6,118.5 L387.6,118.8 L386.7,119.1 L385.8,119.3 L384.9,119.6 L383.9,119.9 L383.0,120.1 L382.1,120.4 L381.1,120.6 L380.2,120.8 L379.3,121.1 L378.3,121.3 L377.4,121.5 L376.5,121.7 L375.6,121.9 L374.6,122.2 L373.7,122.4 L372.8,122.6 L371.8,122.8 L370.9,122.9 L370.0,123.1 L369.0,123.3 L368.1,123.5 L367.2,123.7 L366.2,123.8 L365.3,124.0 L364.4,124.2 L363.5,124.3 L362.5,124.5 L361.6,124.7 L360.7,124.8 L359.7,125.0 L358.8,125.1 L357.9,125.2 L356.9,125.4 L356.0,125.5 L355.1,125.6 L354.2,125.8 L353.2,125.9 L352.3,126.0 L351.4,126.1 L350.4,126.3 L349.5,126.4 L348.6,126.5 L347.6,126.6 L346.7,126.7 L345.8,126.8 L344.9,126.9 L343.9,127.0 L343.0,127.1 L342.1,127.2 L341.1,127.3 L340.2,127.4 L339.3,127.5 L338.4,127.6 L337.4,127.7 L336.5,127.8 L335.6,127.9 L334.6,127.9 L333.7,128.0 L332.8,128.1 L331.8,128.2 L330.9,128.3 L330.0,128.4 L329.1,128.4 L328.1,128.5 L327.2,128.6 L326.3,128.6 L325.3,128.7 L324.4,128.8 L323.5,128.9 L322.5,128.9 L321.6,129.0 L320.7,129.1 L319.8,129.1 L318.8,129.2 L317.9,129.3 L317.0,129.3 L316.0,129.4 L315.1,129.5 L314.2,129.5 L313.2,129.6 L312.3,129.7 L311.4,129.7 L310.4,129.8 L309.5,129.8 L308.6,129.9 L307.7,130.0 L306.7,130.0 L305.8,130.1 L304.9,130.1 L303.9,130.2 L303.0,130.3 L302.1,130.3 L301.1,130.4 L300.2,130.4 L299.3,130.5 L298.4,130.5 L297.4,130.6 L296.5,130.7 L295.6,130.7 L294.6,130.8 L293.7,130.8 L292.8,130.9 L291.9,130.9 L290.9,131.0 L290.0,131.0 L289.1,131.1 L288.1,131.1 L287.2,131.2 L286.3,131.2 L285.3,131.3 L284.4,131.3 L283.5,131.4 L282.6,131.4 L281.6,131.5 L280.7,131.5 L279.8,131.6 L278.8,131.6 L277.9,131.7 L277.0,131.7 L276.0,131.8 L275.1,131.8 L274.2,131.8 L273.2,131.9 L272.3,131.9 L271.4,132.0 L270.5,132.0 L269.5,132.0 L268.6,132.1 L267.7,132.1 L266.7,132.1 L265.8,132.1 L264.9,132.2 L263.9,132.2 L263.0,132.2 L262.1,132.2 L261.2,132.2 L260.2,132.3 L259.3,132.3 L258.4,132.3 L257.4,132.3 L256.5,132.3 L255.6,132.3 L254.7,132.3 L253.7,132.3 L252.8,132.2 L251.9,132.2 L250.9,132.2 L250.0,132.2 Z" fill="#ff0000" fill-opacity="0.2"/>
<path d="M250.0,132.0 L250.9,132.0 L251.9,132.0 L252.8,132.0 L253.7,132.0 L254.7,131.9 L255.6,131.9 L256.5,131.9 L257.4,131.9 L258.4,131.8 L259.3,131.8 L260.2,131.7 L261.2,131.7 L262.1,131.6 L263.0,131.6 L263.9,131.5 L264.9,131.5 L265.8,131.4 L266.7,131.4 L267.7,131.3 L268.6,131.2 L269.5,131.2 L270.5,131.1 L271.4,130.9 L272.3,130.8 L273.2,130.7 L274.2,130.5 L275.1,130.3 L276.0,130.1 L277.0,129.9 L277.9,129.7 L278.8,129.5 L279.8,129.3 L280.7,129.1 L281.6,128.9 L282.6,128.6 L283.5,128.4 L284.4,128.1 L285.3,127.8 L286.3,127.5 L287.2,127.2 L288.1,126.9 L289.1,126.6 L290.0,126.3 L290.9,126.0 L291.9,125.7 L292.8,125.3 L293.7,125.0 L294.6,124.7 L295.6,124.4 L296.5,124.1 L297.4,123.8 L298.4,123.5 L299.3,123.2 L300.2,122.9 L301.1,122.5 L302.1,122.2 L303.0,121.8 L303.9,121.4 L304.9,121.0 L305.8,120.5 L306.7,120.1 L307.7,119.7 L308.6,119.2 L309.5,118.8 L310.4,118.3 L311.4,117.8 L312.3,117.4 L313.2,116.9 L314.2,116.4 L315.1,115.9 L316.0,115.5 L317.0,115.0 L317.9,114.6 L318.8,114.1 L319.8,113.7 L320.7,113.3 L321.6,113.0 L322.5,112.6 L323.5,112.2 L324.4,111.9 L325.3,111.5 L326.3,111.2 L327.2,110.8 L328.1,110.4 L329.1,110.0 L330.0,109.6 L330.9,109.1 L331.8,108.6 L332.8,108.1 L333.7,107.5 L334.6,107.0 L335.6,106.4 L336.5,105.9 L337.4,105.4 L338.4,104.9 L339.3,104.4 L340.2,104.0 L341.1,103.6 L342.1,103.3 L343.0,103.0 L343.9,102.7 L344.9,102.3 L345.8,102.0 L346.7,101.6 L347.6,101.3 L348.6,100.9 L349.5,100.4 L350.4,100.0 L351.4,99.5 L352.3,99.1 L353.2,98.6 L354.2,98.0 L355.1,97.4 L356.0,96.8 L356.9,96.1 L357.9,95.4 L358.8,94.7 L359.7,93.9 L360.7,93.0 L361.6,92.2 L362.5,91.3 L363.5,90.3 L364.4,89.3 L365.3,88.2 L366.2,87.1 L367.2,86.0 L368.1,84.9 L369.0,83.7 L370.0,82.6 L370.9,81.4 L371.8,80.3 L372.8,79.1 L373.7,78.0 L374.6,76.8 L375.6,75.6 L376.5,74.4 L377.4,73.1 L378.3,71.8 L379.3,70.5 L380.2,69.2 L381.1,67.8 L382.1,66.4 L383.0,65.0 L383.9,63.5 L384.9,62.1 L385.8,60.6 L386.7,59.2 L387.6,57.7 L388.6,56.3 L389.5,54.8 L390.4,53.4 L391.4,52.0 L392.3,50.5 L393.2,49.0 L394.1,47.5 L395.1,46.0 L396.0,44.5 L396.9,42.9 L397.9,41.3 L398.8,39.6 L399.7,37.9 L400.7,36.2 L401.6,34.5 L402.5,32.9 L403.5,31.3" fill="none" stroke="#000000" stroke-width="1.6" stroke-linejoin="round"/>
<path d="M250.0,131.9 L250.9,132.0 L251.9,132.1 L252.8,132.2 L253.7,132.2 L254.7,132.3 L255.6,132.3 L256.5,132.3 L257.4,132.3 L258.4,132.3 L259.3,132.3 L260.2,132.3 L261.2,132.3 L262.1,132.2 L263.0,132.2 L263.9,132.1 L264.9,132.1 L265.8,132.0 L266.7,132.0 L267.7,131.9 L268.6,131.8 L269.5,131.7 L270.5,131.6 L271.4,131.5 L272.3,131.4 L273.2,131.3 L274.2,131.2 L275.1,131.1 L276.0,131.0 L277.0,130.9 L277.9,130.8 L278.8,130.6 L279.8,130.5 L280.7,130.4 L281.6,130.3 L282.6,130.1 L283.5,130.0 L284.4,129.9 L285.3,129.7 L286.3,129.6 L287.2,129.4 L288.1,129.3 L289.1,129.2 L290.0,129.0 L290.9,128.9 L291.9,128.7 L292.8,128.6 L293.7,128.4 L294.6,128.3 L295.6,128.2 L296.5,128.0 L297.4,127.9 L298.4,127.7 L299.3,127.6 L300.2,127.4 L301.1,127.3 L302.1,127.1 L303.0,127.0 L303.9,126.8 L304.9,126.7 L305.8,126.5 L306.7,126.4 L307.7,126.3 L308.6,126.1 L309.5,126.0 L310.4,125.8 L311.4,125.7 L312.3,125.5 L313.2,125.4 L314.2,125.2 L315.1,125.1 L316.0,124.9 L317.0,124.8 L317.9,124.6 L318.8,124.5 L319.8,124.3 L320.7,124.2 L321.6,124.0 L322.5,123.9 L323.5,123.7 L324.4,123.6 L325.3,123.4 L326.3,123.3 L327.2,123.1 L328.1,122.9 L329.1,122.8 L330.0,122.6 L330.9,122.4 L331.8,122.3 L332.8,122.1 L333.7,121.9 L334.6,121.7 L335.6,121.6 L336.5,121.4 L337.4,121.2 L338.4,121.0 L339.3,120.8 L340.2,120.6 L341.1,120.4 L342.1,120.2 L343.0,120.0 L343.9,119.8 L344.9,119.6 L345.8,119.4 L346.7,119.1 L347.6,118.9 L348.6,118.7 L349.5,118.4 L350.4,118.2 L351.4,117.9 L352.3,117.7 L353.2,117.4 L354.2,117.2 L355.1,116.9 L356.0,116.6 L356.9,116.3 L357.9,116.0 L358.8,115.7 L359.7,115.4 L360.7,115.1 L361.6,114.8 L362.5,114.4 L363.5,114.1 L364.4,113.7 L365.3,113.4 L366.2,113.0 L367.2,112.6 L368.1,112.2 L369.0,111.9 L370.0,111.4 L370.9,111.0 L371.8,110.6 L372.8,110.2 L373.7,109.7 L374.6,109.3 L375.6,108.8 L376.5,108.3 L377.4,107.9 L378.3,107.4 L379.3,106.9 L380.2,106.3 L381.1,105.8 L382.1,105.3 L383.0,104.7 L383.9,104.1 L384.9,103.6 L385.8,103.0 L386.7,102.4 L387.6,101.8 L388.6,101.1 L389.5,100.5 L390.4,99.8 L391.4,99.2 L392.3,98.5 L393.2,97.8 L394.1,97.1 L395.1,96.4 L396.0,95.6 L396.9,94.9 L397.9,94.1 L398.8,93.3 L399.7,92.5 L400.7,91.7 L401.6,90.9 L402.5,90.1 L403.5,89.2" fill="none" stroke="#0000ff" stroke-width="1.6" stroke-linejoin="round"/>
<path d="M250.0,132.0 L250.9,132.0 L251.9,132.0 L252.8,132.0 L253.7,132.0 L254.7,132.0 L255.6,132.1 L256.5,132.1 L257.4,132.1 L258.4,132.0 L259.3,132.0 L260.2,132.0 L261.2,132.0 L262.1,132.0 L263.0,132.0 L263.9,131.9 L264.9,131.9 L265.8,131.9 L266.7,131.9 L267.7,131.8 L268.6,131.8 L269.5,131.8 L270.5,131.7 L271.4,131.7 L272.3,131.7 L273.2,131.6 L274.2,131.6 L275.1,131.5 L276.0,131.5 L277.0,131.4 L277.9,131.4 L278.8,131.3 L279.8,131.3 L280.7,131.2 L281.6,131.2 L282.6,131.1 L283.5,131.1 L284.4,131.0 L285.3,131.0 L286.3,130.9 L287.2,130.8 L288.1,130.8 L289.1,130.7 L290.0,130.7 L290.9,130.6 L291.9,130.5 L292.8,130.5 L293.7,130.4 L294.6,130.3 L295.6,130.3 L296.5,130.2 L297.4,130.2 L298.4,130.1 L299.3,130.0 L300.2,130.0 L301.1,129.9 L302.1,129.8 L303.0,129.8 L303.9,129.7 L304.9,129.6 L305.8,129.6 L306.7,129.5 L307.7,129.4 L308.6,129.3 L309.5,129.3 L310.4,129.2 L311.4,129.1 L312.3,129.0 L313.2,129.0 L314.2,128.9 L315.1,128.8 L316.0,128.7 L317.0,128.7 L317.9,128.6 L318.8,128.5 L319.8,128.4 L320.7,128.4 L321.6,128.3 L322.5,128.2 L323.5,128.1 L324.4,128.0 L325.3,127.9 L326.3,127.9 L327.2,127.8 L328.1,127.7 L329.1,127.6 L330.0,127.5 L330.9,127.4 L331.8,127.3 L332.8,127.2 L333.7,127.1 L334.6,127.0 L335.6,126.9 L336.5,126.8 L337.4,126.7 L338.4,126.6 L339.3,126.5 L340.2,126.4 L341.1,126.3 L342.1,126.2 L343.0,126.1 L343.9,125.9 L344.9,125.8 L345.8,125.7 L346.7,125.6 L347.6,125.4 L348.6,125.3 L349.5,125.2 L350.4,125.0 L351.4,124.9 L352.3,124.8 L353.2,124.6 L354.2,124.5 L355.1,124.3 L356.0,124.2 L356.9,124.0 L357.9,123.9 L358.8,123.7 L359.7,123.5 L360.7,123.4 L361.6,123.2 L362.5,123.0 L363.5,122.8 L364.4,122.7 L365.3,122.5 L366.2,122.3 L367.2,122.1 L368.1,121.9 L369.0,121.7 L370.0,121.5 L370.9,121.3 L371.8,121.1 L372.8,120.9 L373.7,120.6 L374.6,120.4 L375.6,120.2 L376.5,119.9 L377.4,119.7 L378.3,119.4 L379.3,119.2 L380.2,118.9 L381.1,118.7 L382.1,118.4 L383.0,118.1 L383.9,117.9 L384.9,117.6 L385.8,117.3 L386.7,117.0 L387.6,116.7 L388.6,116.4 L389.5,116.1 L390.4,115.8 L391.4,115.5 L392.3,115.1 L393.2,114.8 L394.1,114.5 L395.1,114.1 L396.0,113.8 L396.9,113.4 L397.9,113.1 L398.8,112.7 L399.7,112.3 L400.7,111.9 L401.6,111.6 L402.5,111.2 L403.5,110.8" fill="none" stroke="#ff0000" stroke-width="1.6" stroke-linejoin="round"/>
</g>
<path d="M250.0,19.5 H402.5 V135.5 H250.0 Z" fill="none" stroke="#666" stroke-width="1"/>
<line x1="246.7" y1="132.00" x2="250.0" y2="132.00" stroke="#333" stroke-width="0.8"/>
<text x="242.4" y="135.50" font-family="'Liberation Sans', sans-serif" font-size="9.9" fill="#333" text-anchor="end" textLength="5.18" lengthAdjust="spacingAndGlyphs">0</text>
<line x1="246.7" y1="95.77" x2="250.0" y2="95.77" stroke="#333" stroke-width="0.8"/>
<text x="242.4" y="99.27" font-family="'Liberation Sans', sans-serif" font-size="9.9" fill="#333" text-anchor="end" textLength="10.35" lengthAdjust="spacingAndGlyphs">50</text>
<line x1="246.7" y1="59.53" x2="250.0" y2="59.53" stroke="#333" stroke-width="0.8"/>
<text x="242.4" y="63.03" font-family="'Liberation Sans', sans-serif" font-size="9.9" fill="#333" text-anchor="end" textLength="15.53" lengthAdjust="spacingAndGlyphs">100</text>
<line x1="246.7" y1="23.30" x2="250.0" y2="23.30" stroke="#333" stroke-width="0.8"/>
<text x="242.4" y="26.80" font-family="'Liberation Sans', sans-serif" font-size="9.9" fill="#333" text-anchor="end" textLength="15.53" lengthAdjust="spacingAndGlyphs">150</text>
<line x1="250.00" y1="135.5" x2="250.00" y2="138.8" stroke="#333" stroke-width="0.8"/>
<text x="250.00" y="150.3" font-family="'Liberation Sans', sans-serif" font-size="9.9" fill="#333" text-anchor="middle" textLength="20.70" lengthAdjust="spacingAndGlyphs">1850</text>
<line x1="296.50" y1="135.5" x2="296.50" y2="138.8" stroke="#333" stroke-width="0.8"/>
<text x="296.50" y="150.3" font-family="'Liberation Sans', sans-serif" font-size="9.9" fill="#333" text-anchor="middle" textLength="20.70" lengthAdjust="spacingAndGlyphs">1900</text>
<line x1="343.00" y1="135.5" x2="343.00" y2="138.8" stroke="#333" stroke-width="0.8"/>
<text x="343.00" y="150.3" font-family="'Liberation Sans', sans-serif" font-size="9.9" fill="#333" text-anchor="middle" textLength="20.70" lengthAdjust="spacingAndGlyphs">1950</text>
<line x1="389.50" y1="135.5" x2="389.50" y2="138.8" stroke="#333" stroke-width="0.8"/>
<text x="389.50" y="150.3" font-family="'Liberation Sans', sans-serif" font-size="9.9" fill="#333" text-anchor="middle" textLength="20.70" lengthAdjust="spacingAndGlyphs">2000</text>
<text x="326.25" y="165.9" font-family="'Liberation Sans', sans-serif" font-size="10.4" fill="#222" text-anchor="middle">Year</text>
<text transform="translate(217.8,77.5) rotate(-90)" font-family="'Liberation Sans', sans-serif" font-size="10.4" fill="#222" text-anchor="middle">PgC</text>
<text x="5.3" y="186.7" font-family="'Liberation Sans', sans-serif" font-weight="bold" font-size="16" fill="#000" stroke="#000" stroke-width="0.35">b</text>
<text x="26.9" y="186.6" font-family="'Liberation Sans', sans-serif" font-size="10.8" fill="#1a1a1a" textLength="369.3" lengthAdjust="spacingAndGlyphs">Historical with only greenhouse gases, cumulative heat and carbon uptake</text>
<clipPath id="cpbL"><rect x="40.5" y="193.5" width="153.0" height="116.0"/></clipPath>
<g clip-path="url(#cpbL)">
<path d="M40.5,299.3 L41.4,299.4 L42.4,299.4 L43.3,299.5 L44.2,299.5 L45.2,299.5 L46.1,299.6 L47.0,299.6 L48.0,299.6 L48.9,299.6 L49.8,299.6 L50.8,299.6 L51.7,299.6 L52.6,299.7 L53.6,299.7 L54.5,299.7 L55.4,299.6 L56.4,299.6 L57.3,299.6 L58.2,299.6 L59.2,299.5 L60.1,299.5 L61.0,299.5 L62.0,299.4 L62.9,299.4 L63.8,299.3 L64.8,299.2 L65.7,299.2 L66.6,299.1 L67.5,299.0 L68.5,298.9 L69.4,298.8 L70.3,298.7 L71.3,298.6 L72.2,298.5 L73.1,298.4 L74.1,298.2 L75.0,298.1 L75.9,297.9 L76.9,297.7 L77.8,297.6 L78.7,297.4 L79.7,297.2 L80.6,297.1 L81.5,296.9 L82.5,296.7 L83.4,296.5 L84.3,296.4 L85.3,296.2 L86.2,296.0 L87.1,295.7 L88.1,295.5 L89.0,295.3 L89.9,295.1 L90.9,294.8 L91.8,294.6 L92.7,294.3 L93.7,294.1 L94.6,293.8 L95.5,293.6 L96.5,293.3 L97.4,293.0 L98.3,292.7 L99.3,292.4 L100.2,292.1 L101.1,291.8 L102.1,291.5 L103.0,291.1 L103.9,290.8 L104.9,290.4 L105.8,290.1 L106.7,289.7 L107.7,289.3 L108.6,288.9 L109.5,288.5 L110.5,288.2 L111.4,287.8 L112.3,287.4 L113.3,287.0 L114.2,286.6 L115.1,286.2 L116.0,285.8 L117.0,285.4 L117.9,285.0 L118.8,284.5 L119.8,284.1 L120.7,283.7 L121.6,283.3 L122.6,282.8 L123.5,282.4 L124.4,282.0 L125.4,281.5 L126.3,281.1 L127.2,280.7 L128.2,280.2 L129.1,279.8 L130.0,279.3 L131.0,278.9 L131.9,278.4 L132.8,278.0 L133.8,277.5 L134.7,277.1 L135.6,276.7 L136.6,276.3 L137.5,275.9 L138.4,275.4 L139.4,275.0 L140.3,274.5 L141.2,274.0 L142.2,273.4 L143.1,272.9 L144.0,272.3 L145.0,271.8 L145.9,271.2 L146.8,270.6 L147.8,270.0 L148.7,269.4 L149.6,268.8 L150.6,268.1 L151.5,267.5 L152.4,266.8 L153.4,266.0 L154.3,265.3 L155.2,264.4 L156.2,263.6 L157.1,262.7 L158.0,261.8 L159.0,260.9 L159.9,259.9 L160.8,258.8 L161.8,257.7 L162.7,256.6 L163.6,255.5 L164.5,254.3 L165.5,253.0 L166.4,251.7 L167.3,250.3 L168.3,249.0 L169.2,247.6 L170.1,246.2 L171.1,244.8 L172.0,243.5 L172.9,242.1 L173.9,240.7 L174.8,239.2 L175.7,237.8 L176.7,236.4 L177.6,235.0 L178.5,233.5 L179.5,232.1 L180.4,230.7 L181.3,229.2 L182.3,227.7 L183.2,226.3 L184.1,224.8 L185.1,223.3 L186.0,221.8 L186.9,220.3 L187.9,218.8 L188.8,217.3 L189.7,215.7 L190.7,214.2 L191.6,212.7 L192.5,211.2 L193.5,209.7 L194.4,208.3 L194.4,227.4 L193.5,228.6 L192.5,229.8 L191.6,231.1 L190.7,232.3 L189.7,233.6 L188.8,234.9 L187.9,236.2 L186.9,237.4 L186.0,238.7 L185.1,240.0 L184.1,241.2 L183.2,242.5 L182.3,243.7 L181.3,244.9 L180.4,246.1 L179.5,247.4 L178.5,248.6 L177.6,249.8 L176.7,251.0 L175.7,252.2 L174.8,253.4 L173.9,254.6 L172.9,255.8 L172.0,257.0 L171.1,258.1 L170.1,259.3 L169.2,260.5 L168.3,261.6 L167.3,262.8 L166.4,264.0 L165.5,265.1 L164.5,266.1 L163.6,267.1 L162.7,268.1 L161.8,269.0 L160.8,269.9 L159.9,270.8 L159.0,271.6 L158.0,272.4 L157.1,273.1 L156.2,273.8 L155.2,274.5 L154.3,275.1 L153.4,275.7 L152.4,276.2 L151.5,276.8 L150.6,277.3 L149.6,277.8 L148.7,278.2 L147.8,278.6 L146.8,279.1 L145.9,279.5 L145.0,279.9 L144.0,280.3 L143.1,280.8 L142.2,281.2 L141.2,281.5 L140.3,281.9 L139.4,282.2 L138.4,282.6 L137.5,282.8 L136.6,283.1 L135.6,283.4 L134.7,283.7 L133.8,284.0 L132.8,284.3 L131.9,284.6 L131.0,284.9 L130.0,285.2 L129.1,285.6 L128.2,285.9 L127.2,286.2 L126.3,286.5 L125.4,286.8 L124.4,287.1 L123.5,287.5 L122.6,287.8 L121.6,288.1 L120.7,288.4 L119.8,288.7 L118.8,289.0 L117.9,289.3 L117.0,289.6 L116.0,289.9 L115.1,290.2 L114.2,290.5 L113.3,290.8 L112.3,291.1 L111.4,291.4 L110.5,291.7 L109.5,292.0 L108.6,292.3 L107.7,292.6 L106.7,292.9 L105.8,293.2 L104.9,293.5 L103.9,293.8 L103.0,294.0 L102.1,294.3 L101.1,294.6 L100.2,294.8 L99.3,295.0 L98.3,295.2 L97.4,295.5 L96.5,295.7 L95.5,295.9 L94.6,296.1 L93.7,296.3 L92.7,296.5 L91.8,296.6 L90.9,296.8 L89.9,297.0 L89.0,297.2 L88.1,297.3 L87.1,297.5 L86.2,297.7 L85.3,297.8 L84.3,298.0 L83.4,298.1 L82.5,298.2 L81.5,298.4 L80.6,298.5 L79.7,298.6 L78.7,298.7 L77.8,298.9 L76.9,299.0 L75.9,299.1 L75.0,299.2 L74.1,299.4 L73.1,299.5 L72.2,299.6 L71.3,299.7 L70.3,299.7 L69.4,299.8 L68.5,299.9 L67.5,300.0 L66.6,300.0 L65.7,300.0 L64.8,300.1 L63.8,300.1 L62.9,300.1 L62.0,300.2 L61.0,300.2 L60.1,300.2 L59.2,300.3 L58.2,300.3 L57.3,300.3 L56.4,300.3 L55.4,300.3 L54.5,300.3 L53.6,300.3 L52.6,300.3 L51.7,300.3 L50.8,300.3 L49.8,300.3 L48.9,300.2 L48.0,300.2 L47.0,300.2 L46.1,300.2 L45.2,300.1 L44.2,300.1 L43.3,300.0 L42.4,300.0 L41.4,299.9 L40.5,299.9 Z" fill="#000000" fill-opacity="0.2"/>
<path d="M40.5,299.3 L41.4,299.4 L42.4,299.4 L43.3,299.5 L44.2,299.6 L45.2,299.6 L46.1,299.7 L47.0,299.7 L48.0,299.8 L48.9,299.8 L49.8,299.8 L50.8,299.8 L51.7,299.9 L52.6,299.9 L53.6,299.9 L54.5,299.9 L55.4,299.9 L56.4,299.9 L57.3,299.9 L58.2,299.8 L59.2,299.8 L60.1,299.8 L61.0,299.8 L62.0,299.8 L62.9,299.8 L63.8,299.7 L64.8,299.7 L65.7,299.7 L66.6,299.7 L67.5,299.6 L68.5,299.6 L69.4,299.6 L70.3,299.5 L71.3,299.5 L72.2,299.5 L73.1,299.4 L74.1,299.4 L75.0,299.3 L75.9,299.2 L76.9,299.2 L77.8,299.1 L78.7,299.0 L79.7,298.9 L80.6,298.9 L81.5,298.8 L82.5,298.7 L83.4,298.6 L84.3,298.5 L85.3,298.4 L86.2,298.3 L87.1,298.1 L88.1,298.0 L89.0,297.9 L89.9,297.7 L90.9,297.6 L91.8,297.4 L92.7,297.3 L93.7,297.1 L94.6,296.9 L95.5,296.8 L96.5,296.6 L97.4,296.4 L98.3,296.3 L99.3,296.1 L100.2,295.9 L101.1,295.7 L102.1,295.5 L103.0,295.4 L103.9,295.2 L104.9,294.9 L105.8,294.7 L106.7,294.5 L107.7,294.3 L108.6,294.1 L109.5,293.9 L110.5,293.7 L111.4,293.4 L112.3,293.2 L113.3,293.0 L114.2,292.8 L115.1,292.6 L116.0,292.4 L117.0,292.2 L117.9,292.0 L118.8,291.8 L119.8,291.5 L120.7,291.3 L121.6,291.1 L122.6,290.9 L123.5,290.7 L124.4,290.5 L125.4,290.3 L126.3,290.1 L127.2,289.9 L128.2,289.7 L129.1,289.5 L130.0,289.3 L131.0,289.0 L131.9,288.8 L132.8,288.6 L133.8,288.4 L134.7,288.2 L135.6,288.1 L136.6,287.9 L137.5,287.7 L138.4,287.5 L139.4,287.3 L140.3,287.0 L141.2,286.8 L142.2,286.6 L143.1,286.4 L144.0,286.1 L145.0,285.8 L145.9,285.6 L146.8,285.3 L147.8,285.0 L148.7,284.7 L149.6,284.3 L150.6,284.0 L151.5,283.7 L152.4,283.3 L153.4,282.9 L154.3,282.5 L155.2,282.1 L156.2,281.7 L157.1,281.3 L158.0,280.8 L159.0,280.4 L159.9,279.9 L160.8,279.4 L161.8,278.9 L162.7,278.3 L163.6,277.8 L164.5,277.2 L165.5,276.5 L166.4,275.9 L167.3,275.2 L168.3,274.5 L169.2,273.8 L170.1,273.1 L171.1,272.4 L172.0,271.7 L172.9,271.0 L173.9,270.3 L174.8,269.6 L175.7,268.9 L176.7,268.2 L177.6,267.5 L178.5,266.8 L179.5,266.1 L180.4,265.4 L181.3,264.7 L182.3,264.1 L183.2,263.4 L184.1,262.7 L185.1,262.0 L186.0,261.2 L186.9,260.5 L187.9,259.8 L188.8,259.1 L189.7,258.4 L190.7,257.7 L191.6,257.0 L192.5,256.3 L193.5,255.6 L194.4,254.8 L194.4,267.5 L193.5,268.0 L192.5,268.6 L191.6,269.1 L190.7,269.6 L189.7,270.2 L188.8,270.7 L187.9,271.3 L186.9,271.8 L186.0,272.3 L185.1,272.9 L184.1,273.4 L183.2,273.9 L182.3,274.5 L181.3,275.0 L180.4,275.5 L179.5,276.1 L178.5,276.6 L177.6,277.1 L176.7,277.6 L175.7,278.2 L174.8,278.7 L173.9,279.3 L172.9,279.8 L172.0,280.4 L171.1,281.0 L170.1,281.6 L169.2,282.1 L168.3,282.7 L167.3,283.2 L166.4,283.8 L165.5,284.3 L164.5,284.8 L163.6,285.3 L162.7,285.7 L161.8,286.1 L160.8,286.5 L159.9,286.9 L159.0,287.2 L158.0,287.5 L157.1,287.9 L156.2,288.2 L155.2,288.5 L154.3,288.8 L153.4,289.0 L152.4,289.3 L151.5,289.6 L150.6,289.8 L149.6,290.0 L148.7,290.3 L147.8,290.5 L146.8,290.7 L145.9,290.8 L145.0,291.0 L144.0,291.2 L143.1,291.3 L142.2,291.4 L141.2,291.6 L140.3,291.7 L139.4,291.8 L138.4,291.9 L137.5,292.0 L136.6,292.2 L135.6,292.3 L134.7,292.4 L133.8,292.5 L132.8,292.6 L131.9,292.7 L131.0,292.8 L130.0,292.9 L129.1,293.1 L128.2,293.2 L127.2,293.3 L126.3,293.5 L125.4,293.6 L124.4,293.7 L123.5,293.9 L122.6,294.0 L121.6,294.1 L120.7,294.3 L119.8,294.4 L118.8,294.6 L117.9,294.7 L117.0,294.8 L116.0,295.0 L115.1,295.1 L114.2,295.3 L113.3,295.4 L112.3,295.6 L111.4,295.8 L110.5,295.9 L109.5,296.1 L108.6,296.2 L107.7,296.4 L106.7,296.6 L105.8,296.7 L104.9,296.9 L103.9,297.0 L103.0,297.2 L102.1,297.3 L101.1,297.5 L100.2,297.6 L99.3,297.8 L98.3,297.9 L97.4,298.0 L96.5,298.2 L95.5,298.3 L94.6,298.4 L93.7,298.5 L92.7,298.7 L91.8,298.8 L90.9,298.9 L89.9,299.0 L89.0,299.1 L88.1,299.2 L87.1,299.3 L86.2,299.4 L85.3,299.5 L84.3,299.6 L83.4,299.7 L82.5,299.7 L81.5,299.8 L80.6,299.9 L79.7,299.9 L78.7,300.0 L77.8,300.0 L76.9,300.1 L75.9,300.1 L75.0,300.2 L74.1,300.2 L73.1,300.2 L72.2,300.3 L71.3,300.3 L70.3,300.3 L69.4,300.3 L68.5,300.4 L67.5,300.4 L66.6,300.4 L65.7,300.4 L64.8,300.4 L63.8,300.4 L62.9,300.4 L62.0,300.4 L61.0,300.4 L60.1,300.5 L59.2,300.5 L58.2,300.5 L57.3,300.5 L56.4,300.5 L55.4,300.5 L54.5,300.5 L53.6,300.5 L52.6,300.5 L51.7,300.5 L50.8,300.4 L49.8,300.4 L48.9,300.4 L48.0,300.3 L47.0,300.3 L46.1,300.3 L45.2,300.2 L44.2,300.1 L43.3,300.1 L42.4,300.0 L41.4,300.0 L40.5,299.9 Z" fill="#0000ff" fill-opacity="0.2"/>
<path d="M40.5,299.3 L41.4,299.3 L42.4,299.4 L43.3,299.4 L44.2,299.5 L45.2,299.5 L46.1,299.5 L47.0,299.6 L48.0,299.6 L48.9,299.6 L49.8,299.7 L50.8,299.7 L51.7,299.7 L52.6,299.7 L53.6,299.7 L54.5,299.8 L55.4,299.8 L56.4,299.8 L57.3,299.8 L58.2,299.8 L59.2,299.8 L60.1,299.9 L61.0,299.9 L62.0,299.9 L62.9,299.9 L63.8,299.9 L64.8,299.9 L65.7,299.9 L66.6,299.9 L67.5,299.9 L68.5,299.9 L69.4,299.9 L70.3,299.9 L71.3,299.9 L72.2,299.9 L73.1,299.9 L74.1,299.9 L75.0,299.8 L75.9,299.8 L76.9,299.8 L77.8,299.8 L78.7,299.7 L79.7,299.7 L80.6,299.7 L81.5,299.6 L82.5,299.6 L83.4,299.6 L84.3,299.5 L85.3,299.5 L86.2,299.4 L87.1,299.4 L88.1,299.3 L89.0,299.3 L89.9,299.2 L90.9,299.2 L91.8,299.1 L92.7,299.0 L93.7,298.9 L94.6,298.9 L95.5,298.8 L96.5,298.7 L97.4,298.6 L98.3,298.6 L99.3,298.5 L100.2,298.4 L101.1,298.3 L102.1,298.2 L103.0,298.1 L103.9,298.0 L104.9,297.9 L105.8,297.8 L106.7,297.6 L107.7,297.5 L108.6,297.4 L109.5,297.3 L110.5,297.1 L111.4,297.0 L112.3,296.9 L113.3,296.7 L114.2,296.6 L115.1,296.5 L116.0,296.3 L117.0,296.2 L117.9,296.1 L118.8,295.9 L119.8,295.8 L120.7,295.7 L121.6,295.5 L122.6,295.4 L123.5,295.2 L124.4,295.1 L125.4,294.9 L126.3,294.8 L127.2,294.6 L128.2,294.4 L129.1,294.3 L130.0,294.1 L131.0,293.9 L131.9,293.8 L132.8,293.6 L133.8,293.4 L134.7,293.2 L135.6,293.0 L136.6,292.8 L137.5,292.6 L138.4,292.4 L139.4,292.2 L140.3,292.0 L141.2,291.8 L142.2,291.6 L143.1,291.3 L144.0,291.1 L145.0,290.8 L145.9,290.6 L146.8,290.3 L147.8,290.0 L148.7,289.7 L149.6,289.4 L150.6,289.1 L151.5,288.8 L152.4,288.4 L153.4,288.1 L154.3,287.7 L155.2,287.3 L156.2,286.9 L157.1,286.6 L158.0,286.2 L159.0,285.8 L159.9,285.4 L160.8,284.9 L161.8,284.5 L162.7,284.1 L163.6,283.6 L164.5,283.1 L165.5,282.7 L166.4,282.2 L167.3,281.7 L168.3,281.1 L169.2,280.6 L170.1,280.1 L171.1,279.6 L172.0,279.0 L172.9,278.5 L173.9,278.0 L174.8,277.4 L175.7,276.9 L176.7,276.4 L177.6,275.8 L178.5,275.3 L179.5,274.8 L180.4,274.2 L181.3,273.7 L182.3,273.1 L183.2,272.5 L184.1,272.0 L185.1,271.4 L186.0,270.8 L186.9,270.3 L187.9,269.7 L188.8,269.1 L189.7,268.5 L190.7,268.0 L191.6,267.4 L192.5,266.8 L193.5,266.2 L194.4,265.6 L194.4,282.7 L193.5,283.0 L192.5,283.4 L191.6,283.7 L190.7,284.1 L189.7,284.5 L188.8,284.8 L187.9,285.2 L186.9,285.5 L186.0,285.9 L185.1,286.2 L184.1,286.6 L183.2,286.9 L182.3,287.3 L181.3,287.6 L180.4,288.0 L179.5,288.3 L178.5,288.7 L177.6,289.0 L176.7,289.4 L175.7,289.7 L174.8,290.0 L173.9,290.4 L172.9,290.7 L172.0,291.1 L171.1,291.4 L170.1,291.8 L169.2,292.1 L168.3,292.5 L167.3,292.8 L166.4,293.1 L165.5,293.4 L164.5,293.7 L163.6,294.0 L162.7,294.3 L161.8,294.6 L160.8,294.9 L159.9,295.1 L159.0,295.3 L158.0,295.6 L157.1,295.8 L156.2,296.0 L155.2,296.3 L154.3,296.5 L153.4,296.7 L152.4,296.9 L151.5,297.1 L150.6,297.3 L149.6,297.5 L148.7,297.6 L147.8,297.8 L146.8,297.9 L145.9,298.1 L145.0,298.2 L144.0,298.3 L143.1,298.4 L142.2,298.5 L141.2,298.6 L140.3,298.7 L139.4,298.7 L138.4,298.8 L137.5,298.9 L136.6,299.0 L135.6,299.0 L134.7,299.1 L133.8,299.2 L132.8,299.2 L131.9,299.3 L131.0,299.4 L130.0,299.4 L129.1,299.5 L128.2,299.5 L127.2,299.6 L126.3,299.6 L125.4,299.7 L124.4,299.7 L123.5,299.8 L122.6,299.8 L121.6,299.9 L120.7,299.9 L119.8,299.9 L118.8,300.0 L117.9,300.0 L117.0,300.1 L116.0,300.1 L115.1,300.2 L114.2,300.2 L113.3,300.3 L112.3,300.3 L111.4,300.3 L110.5,300.4 L109.5,300.4 L108.6,300.5 L107.7,300.5 L106.7,300.6 L105.8,300.6 L104.9,300.7 L103.9,300.7 L103.0,300.7 L102.1,300.8 L101.1,300.8 L100.2,300.8 L99.3,300.8 L98.3,300.9 L97.4,300.9 L96.5,300.9 L95.5,300.9 L94.6,300.9 L93.7,300.9 L92.7,300.9 L91.8,301.0 L90.9,301.0 L89.9,301.0 L89.0,301.0 L88.1,301.0 L87.1,301.0 L86.2,301.0 L85.3,301.0 L84.3,301.0 L83.4,301.0 L82.5,301.0 L81.5,301.0 L80.6,301.0 L79.7,301.0 L78.7,301.0 L77.8,301.0 L76.9,301.0 L75.9,301.0 L75.0,301.0 L74.1,300.9 L73.1,300.9 L72.2,300.9 L71.3,300.9 L70.3,300.9 L69.4,300.9 L68.5,300.8 L67.5,300.8 L66.6,300.8 L65.7,300.8 L64.8,300.8 L63.8,300.7 L62.9,300.7 L62.0,300.7 L61.0,300.6 L60.1,300.6 L59.2,300.6 L58.2,300.5 L57.3,300.5 L56.4,300.5 L55.4,300.4 L54.5,300.4 L53.6,300.4 L52.6,300.3 L51.7,300.3 L50.8,300.3 L49.8,300.2 L48.9,300.2 L48.0,300.2 L47.0,300.1 L46.1,300.1 L45.2,300.1 L44.2,300.0 L43.3,300.0 L42.4,300.0 L41.4,299.9 L40.5,299.9 Z" fill="#ff0000" fill-opacity="0.2"/>
<path d="M40.5,299.6 L41.4,299.7 L42.4,299.7 L43.3,299.7 L44.2,299.8 L45.2,299.8 L46.1,299.9 L47.0,299.9 L48.0,299.9 L48.9,299.9 L49.8,299.9 L50.8,300.0 L51.7,300.0 L52.6,300.0 L53.6,300.0 L54.5,300.0 L55.4,300.0 L56.4,300.0 L57.3,300.0 L58.2,299.9 L59.2,299.9 L60.1,299.9 L61.0,299.8 L62.0,299.8 L62.9,299.8 L63.8,299.7 L64.8,299.7 L65.7,299.6 L66.6,299.6 L67.5,299.5 L68.5,299.4 L69.4,299.3 L70.3,299.2 L71.3,299.1 L72.2,299.0 L73.1,298.9 L74.1,298.8 L75.0,298.7 L75.9,298.5 L76.9,298.4 L77.8,298.2 L78.7,298.1 L79.7,297.9 L80.6,297.8 L81.5,297.6 L82.5,297.5 L83.4,297.3 L84.3,297.2 L85.3,297.0 L86.2,296.8 L87.1,296.6 L88.1,296.4 L89.0,296.2 L89.9,296.0 L90.9,295.8 L91.8,295.6 L92.7,295.4 L93.7,295.2 L94.6,294.9 L95.5,294.7 L96.5,294.5 L97.4,294.2 L98.3,294.0 L99.3,293.7 L100.2,293.4 L101.1,293.2 L102.1,292.9 L103.0,292.6 L103.9,292.3 L104.9,291.9 L105.8,291.6 L106.7,291.3 L107.7,290.9 L108.6,290.6 L109.5,290.2 L110.5,289.9 L111.4,289.5 L112.3,289.2 L113.3,288.8 L114.2,288.5 L115.1,288.1 L116.0,287.8 L117.0,287.4 L117.9,287.0 L118.8,286.7 L119.8,286.3 L120.7,285.9 L121.6,285.6 L122.6,285.2 L123.5,284.8 L124.4,284.4 L125.4,284.0 L126.3,283.7 L127.2,283.3 L128.2,282.9 L129.1,282.5 L130.0,282.1 L131.0,281.7 L131.9,281.3 L132.8,280.9 L133.8,280.5 L134.7,280.2 L135.6,279.8 L136.6,279.5 L137.5,279.1 L138.4,278.7 L139.4,278.3 L140.3,277.9 L141.2,277.5 L142.2,277.0 L143.1,276.5 L144.0,276.0 L145.0,275.5 L145.9,275.0 L146.8,274.5 L147.8,274.0 L148.7,273.5 L149.6,272.9 L150.6,272.3 L151.5,271.7 L152.4,271.1 L153.4,270.4 L154.3,269.7 L155.2,269.0 L156.2,268.3 L157.1,267.5 L158.0,266.6 L159.0,265.8 L159.9,264.8 L160.8,263.9 L161.8,262.9 L162.7,261.8 L163.6,260.8 L164.5,259.6 L165.5,258.5 L166.4,257.2 L167.3,256.0 L168.3,254.7 L169.2,253.4 L170.1,252.1 L171.1,250.8 L172.0,249.5 L172.9,248.2 L173.9,246.9 L174.8,245.6 L175.7,244.3 L176.7,242.9 L177.6,241.6 L178.5,240.3 L179.5,238.9 L180.4,237.6 L181.3,236.2 L182.3,234.9 L183.2,233.5 L184.1,232.1 L185.1,230.7 L186.0,229.3 L186.9,227.9 L187.9,226.5 L188.8,225.1 L189.7,223.6 L190.7,222.2 L191.6,220.8 L192.5,219.4 L193.5,218.1 L194.4,216.7" fill="none" stroke="#000000" stroke-width="1.6" stroke-linejoin="round"/>
<path d="M40.5,299.6 L41.4,299.7 L42.4,299.7 L43.3,299.8 L44.2,299.9 L45.2,299.9 L46.1,300.0 L47.0,300.0 L48.0,300.0 L48.9,300.1 L49.8,300.1 L50.8,300.1 L51.7,300.2 L52.6,300.2 L53.6,300.2 L54.5,300.2 L55.4,300.2 L56.4,300.2 L57.3,300.2 L58.2,300.2 L59.2,300.1 L60.1,300.1 L61.0,300.1 L62.0,300.1 L62.9,300.1 L63.8,300.1 L64.8,300.1 L65.7,300.0 L66.6,300.0 L67.5,300.0 L68.5,300.0 L69.4,300.0 L70.3,299.9 L71.3,299.9 L72.2,299.9 L73.1,299.8 L74.1,299.8 L75.0,299.7 L75.9,299.7 L76.9,299.6 L77.8,299.6 L78.7,299.5 L79.7,299.4 L80.6,299.4 L81.5,299.3 L82.5,299.2 L83.4,299.1 L84.3,299.1 L85.3,299.0 L86.2,298.9 L87.1,298.7 L88.1,298.6 L89.0,298.5 L89.9,298.4 L90.9,298.2 L91.8,298.1 L92.7,298.0 L93.7,297.8 L94.6,297.7 L95.5,297.5 L96.5,297.4 L97.4,297.2 L98.3,297.1 L99.3,296.9 L100.2,296.8 L101.1,296.6 L102.1,296.4 L103.0,296.3 L103.9,296.1 L104.9,295.9 L105.8,295.7 L106.7,295.5 L107.7,295.4 L108.6,295.2 L109.5,295.0 L110.5,294.8 L111.4,294.6 L112.3,294.4 L113.3,294.2 L114.2,294.0 L115.1,293.9 L116.0,293.7 L117.0,293.5 L117.9,293.3 L118.8,293.2 L119.8,293.0 L120.7,292.8 L121.6,292.6 L122.6,292.5 L123.5,292.3 L124.4,292.1 L125.4,292.0 L126.3,291.8 L127.2,291.6 L128.2,291.4 L129.1,291.3 L130.0,291.1 L131.0,290.9 L131.9,290.8 L132.8,290.6 L133.8,290.5 L134.7,290.3 L135.6,290.2 L136.6,290.0 L137.5,289.9 L138.4,289.7 L139.4,289.5 L140.3,289.4 L141.2,289.2 L142.2,289.0 L143.1,288.8 L144.0,288.6 L145.0,288.4 L145.9,288.2 L146.8,288.0 L147.8,287.7 L148.7,287.5 L149.6,287.2 L150.6,286.9 L151.5,286.6 L152.4,286.3 L153.4,286.0 L154.3,285.6 L155.2,285.3 L156.2,284.9 L157.1,284.6 L158.0,284.2 L159.0,283.8 L159.9,283.4 L160.8,283.0 L161.8,282.5 L162.7,282.0 L163.6,281.5 L164.5,281.0 L165.5,280.4 L166.4,279.8 L167.3,279.2 L168.3,278.6 L169.2,278.0 L170.1,277.3 L171.1,276.7 L172.0,276.1 L172.9,275.4 L173.9,274.8 L174.8,274.1 L175.7,273.5 L176.7,272.9 L177.6,272.3 L178.5,271.7 L179.5,271.1 L180.4,270.5 L181.3,269.9 L182.3,269.3 L183.2,268.6 L184.1,268.0 L185.1,267.4 L186.0,266.8 L186.9,266.2 L187.9,265.5 L188.8,264.9 L189.7,264.3 L190.7,263.7 L191.6,263.0 L192.5,262.4 L193.5,261.8 L194.4,261.2" fill="none" stroke="#0000ff" stroke-width="1.6" stroke-linejoin="round"/>
<path d="M40.5,299.6 L41.4,299.6 L42.4,299.7 L43.3,299.7 L44.2,299.7 L45.2,299.8 L46.1,299.8 L47.0,299.9 L48.0,299.9 L48.9,299.9 L49.8,299.9 L50.8,300.0 L51.7,300.0 L52.6,300.0 L53.6,300.1 L54.5,300.1 L55.4,300.1 L56.4,300.1 L57.3,300.2 L58.2,300.2 L59.2,300.2 L60.1,300.2 L61.0,300.3 L62.0,300.3 L62.9,300.3 L63.8,300.3 L64.8,300.3 L65.7,300.4 L66.6,300.4 L67.5,300.4 L68.5,300.4 L69.4,300.4 L70.3,300.4 L71.3,300.4 L72.2,300.4 L73.1,300.4 L74.1,300.4 L75.0,300.3 L75.9,300.3 L76.9,300.3 L77.8,300.3 L78.7,300.3 L79.7,300.3 L80.6,300.3 L81.5,300.3 L82.5,300.3 L83.4,300.3 L84.3,300.2 L85.3,300.2 L86.2,300.2 L87.1,300.2 L88.1,300.1 L89.0,300.1 L89.9,300.1 L90.9,300.0 L91.8,300.0 L92.7,299.9 L93.7,299.9 L94.6,299.8 L95.5,299.8 L96.5,299.7 L97.4,299.7 L98.3,299.6 L99.3,299.6 L100.2,299.5 L101.1,299.5 L102.1,299.4 L103.0,299.3 L103.9,299.2 L104.9,299.2 L105.8,299.1 L106.7,299.0 L107.7,298.9 L108.6,298.8 L109.5,298.7 L110.5,298.6 L111.4,298.6 L112.3,298.5 L113.3,298.4 L114.2,298.3 L115.1,298.2 L116.0,298.1 L117.0,298.0 L117.9,297.9 L118.8,297.8 L119.8,297.7 L120.7,297.6 L121.6,297.5 L122.6,297.4 L123.5,297.3 L124.4,297.2 L125.4,297.1 L126.3,297.0 L127.2,296.9 L128.2,296.8 L129.1,296.7 L130.0,296.6 L131.0,296.4 L131.9,296.3 L132.8,296.2 L133.8,296.1 L134.7,295.9 L135.6,295.8 L136.6,295.7 L137.5,295.5 L138.4,295.4 L139.4,295.2 L140.3,295.1 L141.2,294.9 L142.2,294.8 L143.1,294.6 L144.0,294.4 L145.0,294.2 L145.9,294.0 L146.8,293.8 L147.8,293.6 L148.7,293.3 L149.6,293.1 L150.6,292.8 L151.5,292.6 L152.4,292.3 L153.4,292.0 L154.3,291.7 L155.2,291.4 L156.2,291.1 L157.1,290.8 L158.0,290.5 L159.0,290.1 L159.9,289.8 L160.8,289.5 L161.8,289.1 L162.7,288.8 L163.6,288.4 L164.5,288.0 L165.5,287.6 L166.4,287.2 L167.3,286.8 L168.3,286.3 L169.2,285.9 L170.1,285.4 L171.1,285.0 L172.0,284.6 L172.9,284.1 L173.9,283.7 L174.8,283.2 L175.7,282.8 L176.7,282.3 L177.6,281.9 L178.5,281.4 L179.5,281.0 L180.4,280.5 L181.3,280.1 L182.3,279.6 L183.2,279.1 L184.1,278.7 L185.1,278.2 L186.0,277.7 L186.9,277.2 L187.9,276.8 L188.8,276.3 L189.7,275.8 L190.7,275.3 L191.6,274.9 L192.5,274.4 L193.5,273.9 L194.4,273.4" fill="none" stroke="#ff0000" stroke-width="1.6" stroke-linejoin="round"/>
</g>
<path d="M40.5,193.5 H193.5 V309.5 H40.5 Z" fill="none" stroke="#666" stroke-width="1"/>
<line x1="37.2" y1="299.60" x2="40.5" y2="299.60" stroke="#333" stroke-width="0.8"/>
<text x="32.9" y="303.10" font-family="'Liberation Sans', sans-serif" font-size="9.9" fill="#333" text-anchor="end" textLength="5.18" lengthAdjust="spacingAndGlyphs">0</text>
<line x1="37.2" y1="280.28" x2="40.5" y2="280.28" stroke="#333" stroke-width="0.8"/>
<text x="32.9" y="283.78" font-family="'Liberation Sans', sans-serif" font-size="9.9" fill="#333" text-anchor="end" textLength="5.18" lengthAdjust="spacingAndGlyphs">2</text>
<line x1="37.2" y1="260.96" x2="40.5" y2="260.96" stroke="#333" stroke-width="0.8"/>
<text x="32.9" y="264.46" font-family="'Liberation Sans', sans-serif" font-size="9.9" fill="#333" text-anchor="end" textLength="5.18" lengthAdjust="spacingAndGlyphs">4</text>
<line x1="37.2" y1="241.64" x2="40.5" y2="241.64" stroke="#333" stroke-width="0.8"/>
<text x="32.9" y="245.14" font-family="'Liberation Sans', sans-serif" font-size="9.9" fill="#333" text-anchor="end" textLength="5.18" lengthAdjust="spacingAndGlyphs">6</text>
<line x1="37.2" y1="222.32" x2="40.5" y2="222.32" stroke="#333" stroke-width="0.8"/>
<text x="32.9" y="225.82" font-family="'Liberation Sans', sans-serif" font-size="9.9" fill="#333" text-anchor="end" textLength="5.18" lengthAdjust="spacingAndGlyphs">8</text>
<line x1="37.2" y1="203.00" x2="40.5" y2="203.00" stroke="#333" stroke-width="0.8"/>
<text x="32.9" y="206.50" font-family="'Liberation Sans', sans-serif" font-size="9.9" fill="#333" text-anchor="end" textLength="10.35" lengthAdjust="spacingAndGlyphs">10</text>
<line x1="40.50" y1="309.5" x2="40.50" y2="312.8" stroke="#333" stroke-width="0.8"/>
<text x="40.50" y="325.0" font-family="'Liberation Sans', sans-serif" font-size="9.9" fill="#333" text-anchor="middle" textLength="20.70" lengthAdjust="spacingAndGlyphs">1850</text>
<line x1="87.13" y1="309.5" x2="87.13" y2="312.8" stroke="#333" stroke-width="0.8"/>
<text x="87.13" y="325.0" font-family="'Liberation Sans', sans-serif" font-size="9.9" fill="#333" text-anchor="middle" textLength="20.70" lengthAdjust="spacingAndGlyphs">1900</text>
<line x1="133.77" y1="309.5" x2="133.77" y2="312.8" stroke="#333" stroke-width="0.8"/>
<text x="133.77" y="325.0" font-family="'Liberation Sans', sans-serif" font-size="9.9" fill="#333" text-anchor="middle" textLength="20.70" lengthAdjust="spacingAndGlyphs">1950</text>
<line x1="180.41" y1="309.5" x2="180.41" y2="312.8" stroke="#333" stroke-width="0.8"/>
<text x="180.41" y="325.0" font-family="'Liberation Sans', sans-serif" font-size="9.9" fill="#333" text-anchor="middle" textLength="20.70" lengthAdjust="spacingAndGlyphs">2000</text>
<text x="117.0" y="340.4" font-family="'Liberation Sans', sans-serif" font-size="10.4" fill="#222" text-anchor="middle">Year</text>
<text transform="translate(13.8,251.9) rotate(-90)" font-family="'Liberation Sans', sans-serif" font-size="10.4" fill="#222" text-anchor="middle">10<tspan font-size="8.3" dy="-4.9">23</tspan><tspan dy="4.9" dx="0.3">J</tspan></text>
<clipPath id="cpbR"><rect x="250.0" y="193.5" width="152.5" height="116.0"/></clipPath>
<g clip-path="url(#cpbR)">
<path d="M250.0,305.4 L250.9,305.4 L251.9,305.3 L252.8,305.3 L253.7,305.3 L254.7,305.3 L255.6,305.2 L256.5,305.2 L257.4,305.1 L258.4,305.1 L259.3,305.0 L260.2,305.0 L261.2,304.9 L262.1,304.9 L263.0,304.8 L263.9,304.7 L264.9,304.6 L265.8,304.6 L266.7,304.5 L267.7,304.4 L268.6,304.3 L269.5,304.2 L270.5,304.1 L271.4,304.0 L272.3,303.8 L273.2,303.7 L274.2,303.5 L275.1,303.3 L276.0,303.2 L277.0,303.0 L277.9,302.8 L278.8,302.6 L279.8,302.4 L280.7,302.2 L281.6,301.9 L282.6,301.7 L283.5,301.5 L284.4,301.2 L285.3,301.0 L286.3,300.7 L287.2,300.4 L288.1,300.2 L289.1,299.9 L290.0,299.6 L290.9,299.3 L291.9,299.1 L292.8,298.8 L293.7,298.5 L294.6,298.2 L295.6,297.9 L296.5,297.5 L297.4,297.2 L298.4,296.9 L299.3,296.5 L300.2,296.2 L301.1,295.8 L302.1,295.4 L303.0,295.0 L303.9,294.5 L304.9,294.1 L305.8,293.6 L306.7,293.1 L307.7,292.7 L308.6,292.2 L309.5,291.8 L310.4,291.3 L311.4,290.9 L312.3,290.4 L313.2,290.0 L314.2,289.5 L315.1,289.1 L316.0,288.7 L317.0,288.2 L317.9,287.8 L318.8,287.3 L319.8,286.9 L320.7,286.5 L321.6,286.0 L322.5,285.6 L323.5,285.2 L324.4,284.7 L325.3,284.3 L326.3,283.9 L327.2,283.5 L328.1,283.0 L329.1,282.6 L330.0,282.2 L330.9,281.7 L331.8,281.3 L332.8,280.8 L333.7,280.4 L334.6,279.9 L335.6,279.5 L336.5,279.0 L337.4,278.6 L338.4,278.1 L339.3,277.7 L340.2,277.2 L341.1,276.7 L342.1,276.3 L343.0,275.8 L343.9,275.3 L344.9,274.8 L345.8,274.3 L346.7,273.7 L347.6,273.2 L348.6,272.7 L349.5,272.1 L350.4,271.6 L351.4,271.0 L352.3,270.5 L353.2,269.9 L354.2,269.3 L355.1,268.6 L356.0,268.0 L356.9,267.3 L357.9,266.6 L358.8,265.9 L359.7,265.2 L360.7,264.4 L361.6,263.6 L362.5,262.8 L363.5,262.0 L364.4,261.2 L365.3,260.3 L366.2,259.5 L367.2,258.6 L368.1,257.6 L369.0,256.7 L370.0,255.7 L370.9,254.7 L371.8,253.6 L372.8,252.5 L373.7,251.4 L374.6,250.2 L375.6,249.0 L376.5,247.8 L377.4,246.6 L378.3,245.3 L379.3,244.0 L380.2,242.7 L381.1,241.4 L382.1,240.1 L383.0,238.7 L383.9,237.4 L384.9,236.0 L385.8,234.6 L386.7,233.2 L387.6,231.8 L388.6,230.3 L389.5,228.8 L390.4,227.3 L391.4,225.8 L392.3,224.2 L393.2,222.6 L394.1,221.1 L395.1,219.5 L396.0,217.9 L396.9,216.2 L397.9,214.6 L398.8,213.0 L399.7,211.4 L400.7,209.8 L401.6,208.3 L402.5,206.7 L403.5,205.1 L403.5,213.8 L402.5,215.3 L401.6,216.8 L400.7,218.3 L399.7,219.9 L398.8,221.4 L397.9,222.9 L396.9,224.5 L396.0,226.0 L395.1,227.5 L394.1,229.1 L393.2,230.6 L392.3,232.1 L391.4,233.6 L390.4,235.1 L389.5,236.5 L388.6,238.0 L387.6,239.4 L386.7,240.7 L385.8,242.0 L384.9,243.4 L383.9,244.7 L383.0,246.0 L382.1,247.3 L381.1,248.6 L380.2,249.9 L379.3,251.1 L378.3,252.4 L377.4,253.6 L376.5,254.7 L375.6,255.9 L374.6,257.0 L373.7,258.1 L372.8,259.2 L371.8,260.2 L370.9,261.2 L370.0,262.1 L369.0,263.0 L368.1,263.9 L367.2,264.7 L366.2,265.5 L365.3,266.3 L364.4,267.1 L363.5,267.8 L362.5,268.5 L361.6,269.2 L360.7,269.9 L359.7,270.6 L358.8,271.2 L357.9,271.8 L356.9,272.4 L356.0,273.0 L355.1,273.6 L354.2,274.1 L353.2,274.6 L352.3,275.1 L351.4,275.6 L350.4,276.1 L349.5,276.5 L348.6,277.0 L347.6,277.4 L346.7,277.9 L345.8,278.3 L344.9,278.7 L343.9,279.1 L343.0,279.5 L342.1,279.9 L341.1,280.3 L340.2,280.7 L339.3,281.1 L338.4,281.5 L337.4,281.8 L336.5,282.2 L335.6,282.6 L334.6,282.9 L333.7,283.3 L332.8,283.7 L331.8,284.1 L330.9,284.5 L330.0,284.9 L329.1,285.3 L328.1,285.7 L327.2,286.1 L326.3,286.5 L325.3,286.9 L324.4,287.3 L323.5,287.7 L322.5,288.1 L321.6,288.5 L320.7,288.9 L319.8,289.3 L318.8,289.7 L317.9,290.1 L317.0,290.5 L316.0,290.9 L315.1,291.3 L314.2,291.7 L313.2,292.1 L312.3,292.5 L311.4,292.9 L310.4,293.3 L309.5,293.7 L308.6,294.1 L307.7,294.6 L306.7,295.0 L305.8,295.4 L304.9,295.8 L303.9,296.2 L303.0,296.6 L302.1,297.0 L301.1,297.4 L300.2,297.7 L299.3,298.1 L298.4,298.4 L297.4,298.7 L296.5,299.0 L295.6,299.3 L294.6,299.6 L293.7,299.9 L292.8,300.1 L291.9,300.4 L290.9,300.7 L290.0,300.9 L289.1,301.2 L288.1,301.4 L287.2,301.7 L286.3,301.9 L285.3,302.1 L284.4,302.4 L283.5,302.6 L282.6,302.8 L281.6,303.0 L280.7,303.2 L279.8,303.4 L278.8,303.6 L277.9,303.8 L277.0,303.9 L276.0,304.1 L275.1,304.3 L274.2,304.4 L273.2,304.6 L272.3,304.7 L271.4,304.8 L270.5,304.9 L269.5,305.0 L268.6,305.1 L267.7,305.1 L266.7,305.2 L265.8,305.2 L264.9,305.3 L263.9,305.3 L263.0,305.3 L262.1,305.4 L261.2,305.4 L260.2,305.5 L259.3,305.5 L258.4,305.5 L257.4,305.5 L256.5,305.6 L255.6,305.6 L254.7,305.6 L253.7,305.6 L252.8,305.6 L251.9,305.6 L250.9,305.6 L250.0,305.6 Z" fill="#000000" fill-opacity="0.2"/>
<path d="M250.0,305.2 L250.9,305.3 L251.9,305.4 L252.8,305.4 L253.7,305.5 L254.7,305.5 L255.6,305.5 L256.5,305.5 L257.4,305.5 L258.4,305.5 L259.3,305.5 L260.2,305.5 L261.2,305.5 L262.1,305.4 L263.0,305.4 L263.9,305.3 L264.9,305.3 L265.8,305.2 L266.7,305.1 L267.7,305.1 L268.6,305.0 L269.5,304.9 L270.5,304.8 L271.4,304.7 L272.3,304.6 L273.2,304.5 L274.2,304.4 L275.1,304.3 L276.0,304.2 L277.0,304.1 L277.9,304.0 L278.8,303.9 L279.8,303.8 L280.7,303.6 L281.6,303.5 L282.6,303.4 L283.5,303.3 L284.4,303.1 L285.3,303.0 L286.3,302.9 L287.2,302.7 L288.1,302.6 L289.1,302.5 L290.0,302.3 L290.9,302.2 L291.9,302.1 L292.8,301.9 L293.7,301.8 L294.6,301.6 L295.6,301.5 L296.5,301.3 L297.4,301.2 L298.4,301.0 L299.3,300.9 L300.2,300.8 L301.1,300.6 L302.1,300.4 L303.0,300.3 L303.9,300.1 L304.9,300.0 L305.8,299.8 L306.7,299.7 L307.7,299.5 L308.6,299.3 L309.5,299.2 L310.4,299.0 L311.4,298.8 L312.3,298.7 L313.2,298.5 L314.2,298.3 L315.1,298.2 L316.0,298.0 L317.0,297.8 L317.9,297.6 L318.8,297.4 L319.8,297.2 L320.7,297.0 L321.6,296.8 L322.5,296.7 L323.5,296.4 L324.4,296.2 L325.3,296.0 L326.3,295.8 L327.2,295.6 L328.1,295.4 L329.1,295.2 L330.0,294.9 L330.9,294.7 L331.8,294.5 L332.8,294.2 L333.7,294.0 L334.6,293.7 L335.6,293.5 L336.5,293.2 L337.4,292.9 L338.4,292.7 L339.3,292.4 L340.2,292.1 L341.1,291.8 L342.1,291.5 L343.0,291.2 L343.9,290.9 L344.9,290.6 L345.8,290.3 L346.7,289.9 L347.6,289.6 L348.6,289.3 L349.5,288.9 L350.4,288.6 L351.4,288.2 L352.3,287.9 L353.2,287.5 L354.2,287.1 L355.1,286.7 L356.0,286.3 L356.9,285.9 L357.9,285.5 L358.8,285.1 L359.7,284.7 L360.7,284.2 L361.6,283.8 L362.5,283.3 L363.5,282.9 L364.4,282.4 L365.3,281.9 L366.2,281.5 L367.2,281.0 L368.1,280.5 L369.0,280.0 L370.0,279.5 L370.9,279.0 L371.8,278.4 L372.8,277.9 L373.7,277.4 L374.6,276.8 L375.6,276.3 L376.5,275.7 L377.4,275.1 L378.3,274.6 L379.3,274.0 L380.2,273.4 L381.1,272.8 L382.1,272.2 L383.0,271.6 L383.9,271.0 L384.9,270.3 L385.8,269.7 L386.7,269.1 L387.6,268.4 L388.6,267.8 L389.5,267.1 L390.4,266.5 L391.4,265.8 L392.3,265.1 L393.2,264.5 L394.1,263.8 L395.1,263.1 L396.0,262.4 L396.9,261.8 L397.9,261.1 L398.8,260.4 L399.7,259.7 L400.7,259.0 L401.6,258.3 L402.5,257.6 L403.5,256.9 L403.5,268.6 L402.5,269.1 L401.6,269.7 L400.7,270.2 L399.7,270.7 L398.8,271.2 L397.9,271.8 L396.9,272.3 L396.0,272.8 L395.1,273.3 L394.1,273.9 L393.2,274.4 L392.3,274.9 L391.4,275.4 L390.4,275.9 L389.5,276.4 L388.6,276.9 L387.6,277.4 L386.7,277.9 L385.8,278.4 L384.9,278.9 L383.9,279.4 L383.0,279.9 L382.1,280.3 L381.1,280.8 L380.2,281.3 L379.3,281.7 L378.3,282.2 L377.4,282.6 L376.5,283.1 L375.6,283.5 L374.6,283.9 L373.7,284.4 L372.8,284.8 L371.8,285.2 L370.9,285.6 L370.0,286.0 L369.0,286.4 L368.1,286.8 L367.2,287.1 L366.2,287.5 L365.3,287.9 L364.4,288.2 L363.5,288.6 L362.5,288.9 L361.6,289.3 L360.7,289.6 L359.7,290.0 L358.8,290.3 L357.9,290.6 L356.9,290.9 L356.0,291.2 L355.1,291.5 L354.2,291.8 L353.2,292.1 L352.3,292.4 L351.4,292.6 L350.4,292.9 L349.5,293.2 L348.6,293.4 L347.6,293.7 L346.7,293.9 L345.8,294.2 L344.9,294.4 L343.9,294.6 L343.0,294.9 L342.1,295.1 L341.1,295.3 L340.2,295.5 L339.3,295.7 L338.4,295.9 L337.4,296.1 L336.5,296.3 L335.6,296.5 L334.6,296.7 L333.7,296.9 L332.8,297.1 L331.8,297.2 L330.9,297.4 L330.0,297.6 L329.1,297.7 L328.1,297.9 L327.2,298.1 L326.3,298.2 L325.3,298.4 L324.4,298.5 L323.5,298.7 L322.5,298.8 L321.6,299.0 L320.7,299.1 L319.8,299.2 L318.8,299.4 L317.9,299.5 L317.0,299.6 L316.0,299.8 L315.1,299.9 L314.2,300.0 L313.2,300.2 L312.3,300.3 L311.4,300.4 L310.4,300.5 L309.5,300.7 L308.6,300.8 L307.7,300.9 L306.7,301.0 L305.8,301.2 L304.9,301.3 L303.9,301.4 L303.0,301.5 L302.1,301.6 L301.1,301.8 L300.2,301.9 L299.3,302.0 L298.4,302.1 L297.4,302.2 L296.5,302.3 L295.6,302.5 L294.6,302.6 L293.7,302.7 L292.8,302.8 L291.9,302.9 L290.9,303.0 L290.0,303.2 L289.1,303.3 L288.1,303.4 L287.2,303.5 L286.3,303.6 L285.3,303.7 L284.4,303.8 L283.5,303.9 L282.6,304.1 L281.6,304.2 L280.7,304.3 L279.8,304.4 L278.8,304.5 L277.9,304.6 L277.0,304.7 L276.0,304.8 L275.1,304.9 L274.2,305.0 L273.2,305.1 L272.3,305.2 L271.4,305.2 L270.5,305.3 L269.5,305.4 L268.6,305.5 L267.7,305.6 L266.7,305.6 L265.8,305.7 L264.9,305.7 L263.9,305.8 L263.0,305.8 L262.1,305.9 L261.2,305.9 L260.2,305.9 L259.3,306.0 L258.4,306.0 L257.4,306.0 L256.5,306.0 L255.6,306.0 L254.7,305.9 L253.7,305.9 L252.8,305.9 L251.9,305.8 L250.9,305.8 L250.0,305.7 Z" fill="#0000ff" fill-opacity="0.2"/>
<path d="M250.0,305.3 L250.9,305.3 L251.9,305.3 L252.8,305.3 L253.7,305.2 L254.7,305.2 L255.6,305.2 L256.5,305.2 L257.4,305.2 L258.4,305.2 L259.3,305.1 L260.2,305.1 L261.2,305.1 L262.1,305.1 L263.0,305.1 L263.9,305.0 L264.9,305.0 L265.8,305.0 L266.7,305.0 L267.7,304.9 L268.6,304.9 L269.5,304.9 L270.5,304.9 L271.4,304.8 L272.3,304.8 L273.2,304.8 L274.2,304.7 L275.1,304.7 L276.0,304.7 L277.0,304.6 L277.9,304.6 L278.8,304.5 L279.8,304.5 L280.7,304.5 L281.6,304.4 L282.6,304.4 L283.5,304.3 L284.4,304.3 L285.3,304.2 L286.3,304.2 L287.2,304.1 L288.1,304.1 L289.1,304.0 L290.0,304.0 L290.9,303.9 L291.9,303.9 L292.8,303.8 L293.7,303.7 L294.6,303.7 L295.6,303.6 L296.5,303.5 L297.4,303.5 L298.4,303.4 L299.3,303.3 L300.2,303.3 L301.1,303.2 L302.1,303.1 L303.0,303.1 L303.9,303.0 L304.9,302.9 L305.8,302.8 L306.7,302.8 L307.7,302.7 L308.6,302.6 L309.5,302.5 L310.4,302.4 L311.4,302.3 L312.3,302.3 L313.2,302.2 L314.2,302.1 L315.1,302.0 L316.0,301.9 L317.0,301.8 L317.9,301.7 L318.8,301.6 L319.8,301.5 L320.7,301.4 L321.6,301.3 L322.5,301.2 L323.5,301.1 L324.4,301.0 L325.3,300.9 L326.3,300.8 L327.2,300.7 L328.1,300.6 L329.1,300.5 L330.0,300.3 L330.9,300.2 L331.8,300.1 L332.8,300.0 L333.7,299.9 L334.6,299.8 L335.6,299.6 L336.5,299.5 L337.4,299.4 L338.4,299.3 L339.3,299.1 L340.2,299.0 L341.1,298.9 L342.1,298.7 L343.0,298.6 L343.9,298.5 L344.9,298.3 L345.8,298.2 L346.7,298.1 L347.6,297.9 L348.6,297.8 L349.5,297.6 L350.4,297.5 L351.4,297.3 L352.3,297.2 L353.2,297.0 L354.2,296.9 L355.1,296.7 L356.0,296.6 L356.9,296.4 L357.9,296.2 L358.8,296.1 L359.7,295.9 L360.7,295.7 L361.6,295.6 L362.5,295.4 L363.5,295.2 L364.4,295.1 L365.3,294.9 L366.2,294.7 L367.2,294.5 L368.1,294.3 L369.0,294.2 L370.0,294.0 L370.9,293.8 L371.8,293.6 L372.8,293.4 L373.7,293.2 L374.6,293.0 L375.6,292.8 L376.5,292.6 L377.4,292.4 L378.3,292.2 L379.3,291.9 L380.2,291.7 L381.1,291.5 L382.1,291.3 L383.0,291.1 L383.9,290.8 L384.9,290.6 L385.8,290.4 L386.7,290.1 L387.6,289.9 L388.6,289.6 L389.5,289.4 L390.4,289.1 L391.4,288.9 L392.3,288.6 L393.2,288.4 L394.1,288.1 L395.1,287.8 L396.0,287.5 L396.9,287.3 L397.9,287.0 L398.8,286.7 L399.7,286.4 L400.7,286.1 L401.6,285.8 L402.5,285.5 L403.5,285.2 L403.5,289.6 L402.5,289.8 L401.6,290.1 L400.7,290.3 L399.7,290.5 L398.8,290.8 L397.9,291.0 L396.9,291.2 L396.0,291.5 L395.1,291.7 L394.1,291.9 L393.2,292.1 L392.3,292.3 L391.4,292.5 L390.4,292.7 L389.5,292.9 L388.6,293.1 L387.6,293.3 L386.7,293.5 L385.8,293.7 L384.9,293.9 L383.9,294.1 L383.0,294.3 L382.1,294.4 L381.1,294.6 L380.2,294.8 L379.3,294.9 L378.3,295.1 L377.4,295.3 L376.5,295.4 L375.6,295.6 L374.6,295.8 L373.7,295.9 L372.8,296.1 L371.8,296.2 L370.9,296.4 L370.0,296.5 L369.0,296.7 L368.1,296.8 L367.2,297.0 L366.2,297.1 L365.3,297.2 L364.4,297.4 L363.5,297.5 L362.5,297.7 L361.6,297.8 L360.7,297.9 L359.7,298.1 L358.8,298.2 L357.9,298.3 L356.9,298.4 L356.0,298.6 L355.1,298.7 L354.2,298.8 L353.2,298.9 L352.3,299.0 L351.4,299.2 L350.4,299.3 L349.5,299.4 L348.6,299.5 L347.6,299.6 L346.7,299.7 L345.8,299.8 L344.9,300.0 L343.9,300.1 L343.0,300.2 L342.1,300.3 L341.1,300.4 L340.2,300.5 L339.3,300.6 L338.4,300.7 L337.4,300.8 L336.5,300.9 L335.6,301.0 L334.6,301.1 L333.7,301.2 L332.8,301.3 L331.8,301.4 L330.9,301.5 L330.0,301.6 L329.1,301.6 L328.1,301.7 L327.2,301.8 L326.3,301.9 L325.3,302.0 L324.4,302.1 L323.5,302.2 L322.5,302.3 L321.6,302.3 L320.7,302.4 L319.8,302.5 L318.8,302.6 L317.9,302.7 L317.0,302.7 L316.0,302.8 L315.1,302.9 L314.2,303.0 L313.2,303.0 L312.3,303.1 L311.4,303.2 L310.4,303.2 L309.5,303.3 L308.6,303.4 L307.7,303.5 L306.7,303.5 L305.8,303.6 L304.9,303.6 L303.9,303.7 L303.0,303.8 L302.1,303.8 L301.1,303.9 L300.2,304.0 L299.3,304.0 L298.4,304.1 L297.4,304.1 L296.5,304.2 L295.6,304.2 L294.6,304.3 L293.7,304.3 L292.8,304.4 L291.9,304.4 L290.9,304.5 L290.0,304.5 L289.1,304.6 L288.1,304.6 L287.2,304.7 L286.3,304.7 L285.3,304.8 L284.4,304.8 L283.5,304.8 L282.6,304.9 L281.6,304.9 L280.7,305.0 L279.8,305.0 L278.8,305.0 L277.9,305.1 L277.0,305.1 L276.0,305.1 L275.1,305.2 L274.2,305.2 L273.2,305.2 L272.3,305.3 L271.4,305.3 L270.5,305.3 L269.5,305.3 L268.6,305.4 L267.7,305.4 L266.7,305.4 L265.8,305.4 L264.9,305.5 L263.9,305.5 L263.0,305.5 L262.1,305.5 L261.2,305.5 L260.2,305.6 L259.3,305.6 L258.4,305.6 L257.4,305.6 L256.5,305.6 L255.6,305.6 L254.7,305.7 L253.7,305.7 L252.8,305.7 L251.9,305.7 L250.9,305.7 L250.0,305.7 Z" fill="#ff0000" fill-opacity="0.2"/>
<path d="M250.0,305.5 L250.9,305.5 L251.9,305.5 L252.8,305.5 L253.7,305.5 L254.7,305.4 L255.6,305.4 L256.5,305.4 L257.4,305.3 L258.4,305.3 L259.3,305.3 L260.2,305.2 L261.2,305.2 L262.1,305.1 L263.0,305.1 L263.9,305.0 L264.9,305.0 L265.8,304.9 L266.7,304.8 L267.7,304.8 L268.6,304.7 L269.5,304.6 L270.5,304.5 L271.4,304.4 L272.3,304.3 L273.2,304.1 L274.2,304.0 L275.1,303.8 L276.0,303.6 L277.0,303.4 L277.9,303.3 L278.8,303.1 L279.8,302.9 L280.7,302.7 L281.6,302.5 L282.6,302.3 L283.5,302.0 L284.4,301.8 L285.3,301.5 L286.3,301.3 L287.2,301.0 L288.1,300.8 L289.1,300.5 L290.0,300.3 L290.9,300.0 L291.9,299.7 L292.8,299.5 L293.7,299.2 L294.6,298.9 L295.6,298.6 L296.5,298.3 L297.4,298.0 L298.4,297.6 L299.3,297.3 L300.2,297.0 L301.1,296.6 L302.1,296.2 L303.0,295.8 L303.9,295.4 L304.9,294.9 L305.8,294.5 L306.7,294.1 L307.7,293.6 L308.6,293.2 L309.5,292.7 L310.4,292.3 L311.4,291.9 L312.3,291.5 L313.2,291.0 L314.2,290.6 L315.1,290.2 L316.0,289.8 L317.0,289.4 L317.9,288.9 L318.8,288.5 L319.8,288.1 L320.7,287.7 L321.6,287.2 L322.5,286.8 L323.5,286.4 L324.4,286.0 L325.3,285.6 L326.3,285.2 L327.2,284.8 L328.1,284.3 L329.1,283.9 L330.0,283.5 L330.9,283.1 L331.8,282.7 L332.8,282.3 L333.7,281.9 L334.6,281.4 L335.6,281.0 L336.5,280.6 L337.4,280.2 L338.4,279.8 L339.3,279.4 L340.2,279.0 L341.1,278.5 L342.1,278.1 L343.0,277.7 L343.9,277.2 L344.9,276.7 L345.8,276.3 L346.7,275.8 L347.6,275.3 L348.6,274.8 L349.5,274.3 L350.4,273.8 L351.4,273.3 L352.3,272.8 L353.2,272.2 L354.2,271.7 L355.1,271.1 L356.0,270.5 L356.9,269.9 L357.9,269.2 L358.8,268.6 L359.7,267.9 L360.7,267.2 L361.6,266.4 L362.5,265.7 L363.5,264.9 L364.4,264.1 L365.3,263.3 L366.2,262.5 L367.2,261.6 L368.1,260.8 L369.0,259.8 L370.0,258.9 L370.9,257.9 L371.8,256.9 L372.8,255.8 L373.7,254.7 L374.6,253.6 L375.6,252.5 L376.5,251.3 L377.4,250.1 L378.3,248.8 L379.3,247.6 L380.2,246.3 L381.1,245.0 L382.1,243.7 L383.0,242.4 L383.9,241.0 L384.9,239.7 L385.8,238.3 L386.7,237.0 L387.6,235.6 L388.6,234.1 L389.5,232.7 L390.4,231.2 L391.4,229.7 L392.3,228.2 L393.2,226.6 L394.1,225.1 L395.1,223.5 L396.0,221.9 L396.9,220.4 L397.9,218.8 L398.8,217.2 L399.7,215.6 L400.7,214.1 L401.6,212.6 L402.5,211.0 L403.5,209.5" fill="none" stroke="#000000" stroke-width="1.6" stroke-linejoin="round"/>
<path d="M250.0,305.5 L250.9,305.5 L251.9,305.6 L252.8,305.7 L253.7,305.7 L254.7,305.7 L255.6,305.7 L256.5,305.8 L257.4,305.8 L258.4,305.7 L259.3,305.7 L260.2,305.7 L261.2,305.7 L262.1,305.7 L263.0,305.6 L263.9,305.6 L264.9,305.5 L265.8,305.4 L266.7,305.4 L267.7,305.3 L268.6,305.2 L269.5,305.2 L270.5,305.1 L271.4,305.0 L272.3,304.9 L273.2,304.8 L274.2,304.7 L275.1,304.6 L276.0,304.5 L277.0,304.4 L277.9,304.3 L278.8,304.2 L279.8,304.1 L280.7,304.0 L281.6,303.8 L282.6,303.7 L283.5,303.6 L284.4,303.5 L285.3,303.4 L286.3,303.2 L287.2,303.1 L288.1,303.0 L289.1,302.9 L290.0,302.7 L290.9,302.6 L291.9,302.5 L292.8,302.4 L293.7,302.2 L294.6,302.1 L295.6,302.0 L296.5,301.8 L297.4,301.7 L298.4,301.6 L299.3,301.4 L300.2,301.3 L301.1,301.2 L302.1,301.0 L303.0,300.9 L303.9,300.8 L304.9,300.6 L305.8,300.5 L306.7,300.4 L307.7,300.2 L308.6,300.1 L309.5,299.9 L310.4,299.8 L311.4,299.6 L312.3,299.5 L313.2,299.3 L314.2,299.2 L315.1,299.0 L316.0,298.9 L317.0,298.7 L317.9,298.6 L318.8,298.4 L319.8,298.2 L320.7,298.1 L321.6,297.9 L322.5,297.7 L323.5,297.6 L324.4,297.4 L325.3,297.2 L326.3,297.0 L327.2,296.8 L328.1,296.6 L329.1,296.4 L330.0,296.3 L330.9,296.1 L331.8,295.8 L332.8,295.6 L333.7,295.4 L334.6,295.2 L335.6,295.0 L336.5,294.8 L337.4,294.5 L338.4,294.3 L339.3,294.1 L340.2,293.8 L341.1,293.6 L342.1,293.3 L343.0,293.0 L343.9,292.8 L344.9,292.5 L345.8,292.2 L346.7,291.9 L347.6,291.6 L348.6,291.4 L349.5,291.1 L350.4,290.7 L351.4,290.4 L352.3,290.1 L353.2,289.8 L354.2,289.4 L355.1,289.1 L356.0,288.8 L356.9,288.4 L357.9,288.0 L358.8,287.7 L359.7,287.3 L360.7,286.9 L361.6,286.5 L362.5,286.1 L363.5,285.7 L364.4,285.3 L365.3,284.9 L366.2,284.5 L367.2,284.1 L368.1,283.6 L369.0,283.2 L370.0,282.7 L370.9,282.3 L371.8,281.8 L372.8,281.3 L373.7,280.9 L374.6,280.4 L375.6,279.9 L376.5,279.4 L377.4,278.9 L378.3,278.4 L379.3,277.8 L380.2,277.3 L381.1,276.8 L382.1,276.3 L383.0,275.7 L383.9,275.2 L384.9,274.6 L385.8,274.1 L386.7,273.5 L387.6,272.9 L388.6,272.4 L389.5,271.8 L390.4,271.2 L391.4,270.6 L392.3,270.0 L393.2,269.4 L394.1,268.8 L395.1,268.2 L396.0,267.6 L396.9,267.0 L397.9,266.4 L398.8,265.8 L399.7,265.2 L400.7,264.6 L401.6,264.0 L402.5,263.4 L403.5,262.8" fill="none" stroke="#0000ff" stroke-width="1.6" stroke-linejoin="round"/>
<path d="M250.0,305.5 L250.9,305.5 L251.9,305.5 L252.8,305.5 L253.7,305.5 L254.7,305.4 L255.6,305.4 L256.5,305.4 L257.4,305.4 L258.4,305.4 L259.3,305.4 L260.2,305.3 L261.2,305.3 L262.1,305.3 L263.0,305.3 L263.9,305.3 L264.9,305.2 L265.8,305.2 L266.7,305.2 L267.7,305.2 L268.6,305.1 L269.5,305.1 L270.5,305.1 L271.4,305.1 L272.3,305.0 L273.2,305.0 L274.2,305.0 L275.1,304.9 L276.0,304.9 L277.0,304.9 L277.9,304.8 L278.8,304.8 L279.8,304.7 L280.7,304.7 L281.6,304.7 L282.6,304.6 L283.5,304.6 L284.4,304.5 L285.3,304.5 L286.3,304.4 L287.2,304.4 L288.1,304.4 L289.1,304.3 L290.0,304.3 L290.9,304.2 L291.9,304.1 L292.8,304.1 L293.7,304.0 L294.6,304.0 L295.6,303.9 L296.5,303.9 L297.4,303.8 L298.4,303.7 L299.3,303.7 L300.2,303.6 L301.1,303.6 L302.1,303.5 L303.0,303.4 L303.9,303.4 L304.9,303.3 L305.8,303.2 L306.7,303.1 L307.7,303.1 L308.6,303.0 L309.5,302.9 L310.4,302.8 L311.4,302.8 L312.3,302.7 L313.2,302.6 L314.2,302.5 L315.1,302.4 L316.0,302.4 L317.0,302.3 L317.9,302.2 L318.8,302.1 L319.8,302.0 L320.7,301.9 L321.6,301.8 L322.5,301.7 L323.5,301.6 L324.4,301.5 L325.3,301.4 L326.3,301.3 L327.2,301.2 L328.1,301.1 L329.1,301.0 L330.0,300.9 L330.9,300.8 L331.8,300.7 L332.8,300.6 L333.7,300.5 L334.6,300.4 L335.6,300.3 L336.5,300.2 L337.4,300.1 L338.4,300.0 L339.3,299.9 L340.2,299.7 L341.1,299.6 L342.1,299.5 L343.0,299.4 L343.9,299.3 L344.9,299.1 L345.8,299.0 L346.7,298.9 L347.6,298.8 L348.6,298.6 L349.5,298.5 L350.4,298.4 L351.4,298.2 L352.3,298.1 L353.2,298.0 L354.2,297.8 L355.1,297.7 L356.0,297.6 L356.9,297.4 L357.9,297.3 L358.8,297.1 L359.7,297.0 L360.7,296.8 L361.6,296.7 L362.5,296.5 L363.5,296.4 L364.4,296.2 L365.3,296.1 L366.2,295.9 L367.2,295.7 L368.1,295.6 L369.0,295.4 L370.0,295.2 L370.9,295.1 L371.8,294.9 L372.8,294.7 L373.7,294.6 L374.6,294.4 L375.6,294.2 L376.5,294.0 L377.4,293.8 L378.3,293.6 L379.3,293.4 L380.2,293.3 L381.1,293.1 L382.1,292.9 L383.0,292.7 L383.9,292.5 L384.9,292.2 L385.8,292.0 L386.7,291.8 L387.6,291.6 L388.6,291.4 L389.5,291.2 L390.4,290.9 L391.4,290.7 L392.3,290.5 L393.2,290.2 L394.1,290.0 L395.1,289.7 L396.0,289.5 L396.9,289.2 L397.9,289.0 L398.8,288.7 L399.7,288.5 L400.7,288.2 L401.6,287.9 L402.5,287.6 L403.5,287.4" fill="none" stroke="#ff0000" stroke-width="1.6" stroke-linejoin="round"/>
</g>
<path d="M250.0,193.5 H402.5 V309.5 H250.0 Z" fill="none" stroke="#666" stroke-width="1"/>
<line x1="246.7" y1="305.50" x2="250.0" y2="305.50" stroke="#333" stroke-width="0.8"/>
<text x="242.4" y="309.00" font-family="'Liberation Sans', sans-serif" font-size="9.9" fill="#333" text-anchor="end" textLength="5.18" lengthAdjust="spacingAndGlyphs">0</text>
<line x1="246.7" y1="269.26" x2="250.0" y2="269.26" stroke="#333" stroke-width="0.8"/>
<text x="242.4" y="272.76" font-family="'Liberation Sans', sans-serif" font-size="9.9" fill="#333" text-anchor="end" textLength="10.35" lengthAdjust="spacingAndGlyphs">50</text>
<line x1="246.7" y1="233.03" x2="250.0" y2="233.03" stroke="#333" stroke-width="0.8"/>
<text x="242.4" y="236.53" font-family="'Liberation Sans', sans-serif" font-size="9.9" fill="#333" text-anchor="end" textLength="15.53" lengthAdjust="spacingAndGlyphs">100</text>
<line x1="246.7" y1="196.80" x2="250.0" y2="196.80" stroke="#333" stroke-width="0.8"/>
<text x="242.4" y="200.30" font-family="'Liberation Sans', sans-serif" font-size="9.9" fill="#333" text-anchor="end" textLength="15.53" lengthAdjust="spacingAndGlyphs">150</text>
<line x1="250.00" y1="309.5" x2="250.00" y2="312.8" stroke="#333" stroke-width="0.8"/>
<text x="250.00" y="325.0" font-family="'Liberation Sans', sans-serif" font-size="9.9" fill="#333" text-anchor="middle" textLength="20.70" lengthAdjust="spacingAndGlyphs">1850</text>
<line x1="296.50" y1="309.5" x2="296.50" y2="312.8" stroke="#333" stroke-width="0.8"/>
<text x="296.50" y="325.0" font-family="'Liberation Sans', sans-serif" font-size="9.9" fill="#333" text-anchor="middle" textLength="20.70" lengthAdjust="spacingAndGlyphs">1900</text>
<line x1="343.00" y1="309.5" x2="343.00" y2="312.8" stroke="#333" stroke-width="0.8"/>
<text x="343.00" y="325.0" font-family="'Liberation Sans', sans-serif" font-size="9.9" fill="#333" text-anchor="middle" textLength="20.70" lengthAdjust="spacingAndGlyphs">1950</text>
<line x1="389.50" y1="309.5" x2="389.50" y2="312.8" stroke="#333" stroke-width="0.8"/>
<text x="389.50" y="325.0" font-family="'Liberation Sans', sans-serif" font-size="9.9" fill="#333" text-anchor="middle" textLength="20.70" lengthAdjust="spacingAndGlyphs">2000</text>
<text x="326.25" y="340.4" font-family="'Liberation Sans', sans-serif" font-size="10.4" fill="#222" text-anchor="middle">Year</text>
<text transform="translate(217.8,251.5) rotate(-90)" font-family="'Liberation Sans', sans-serif" font-size="10.4" fill="#222" text-anchor="middle">PgC</text>
<text x="5.3" y="356.7" font-family="'Liberation Sans', sans-serif" font-weight="bold" font-size="16" fill="#000" stroke="#000" stroke-width="0.35">c</text>
<text x="26.2" y="356.6" font-family="'Liberation Sans', sans-serif" font-size="10.8" fill="#1a1a1a" textLength="322.0" lengthAdjust="spacingAndGlyphs">Historical with only aerosols, cumulative heat and carbon uptake</text>
<clipPath id="cpcL"><rect x="40.5" y="363.5" width="153.0" height="115.30000000000001"/></clipPath>
<g clip-path="url(#cpcL)">
<path d="M40.5,376.3 L41.4,376.4 L42.4,376.4 L43.3,376.4 L44.2,376.4 L45.2,376.5 L46.1,376.5 L47.0,376.5 L48.0,376.6 L48.9,376.6 L49.8,376.7 L50.8,376.7 L51.7,376.8 L52.6,376.8 L53.6,376.9 L54.5,377.0 L55.4,377.0 L56.4,377.1 L57.3,377.2 L58.2,377.3 L59.2,377.3 L60.1,377.4 L61.0,377.5 L62.0,377.6 L62.9,377.7 L63.8,377.8 L64.8,377.9 L65.7,378.0 L66.6,378.1 L67.5,378.2 L68.5,378.3 L69.4,378.4 L70.3,378.5 L71.3,378.6 L72.2,378.7 L73.1,378.8 L74.1,378.9 L75.0,379.0 L75.9,379.1 L76.9,379.2 L77.8,379.3 L78.7,379.5 L79.7,379.6 L80.6,379.7 L81.5,379.8 L82.5,379.9 L83.4,380.0 L84.3,380.2 L85.3,380.3 L86.2,380.5 L87.1,380.6 L88.1,380.8 L89.0,381.0 L89.9,381.2 L90.9,381.3 L91.8,381.5 L92.7,381.7 L93.7,381.9 L94.6,382.1 L95.5,382.3 L96.5,382.5 L97.4,382.7 L98.3,382.9 L99.3,383.1 L100.2,383.4 L101.1,383.6 L102.1,383.8 L103.0,384.0 L103.9,384.2 L104.9,384.4 L105.8,384.6 L106.7,384.8 L107.7,385.0 L108.6,385.2 L109.5,385.4 L110.5,385.6 L111.4,385.8 L112.3,386.0 L113.3,386.2 L114.2,386.4 L115.1,386.6 L116.0,386.9 L117.0,387.1 L117.9,387.3 L118.8,387.5 L119.8,387.7 L120.7,387.9 L121.6,388.0 L122.6,388.2 L123.5,388.4 L124.4,388.6 L125.4,388.7 L126.3,388.9 L127.2,389.1 L128.2,389.3 L129.1,389.5 L130.0,389.7 L131.0,389.9 L131.9,390.1 L132.8,390.4 L133.8,390.7 L134.7,391.0 L135.6,391.4 L136.6,391.9 L137.5,392.4 L138.4,392.9 L139.4,393.5 L140.3,394.1 L141.2,394.7 L142.2,395.3 L143.1,396.0 L144.0,396.6 L145.0,397.2 L145.9,397.8 L146.8,398.4 L147.8,398.9 L148.7,399.5 L149.6,400.0 L150.6,400.6 L151.5,401.2 L152.4,401.8 L153.4,402.3 L154.3,402.9 L155.2,403.4 L156.2,404.0 L157.1,404.5 L158.0,405.0 L159.0,405.6 L159.9,406.0 L160.8,406.5 L161.8,407.0 L162.7,407.4 L163.6,407.9 L164.5,408.3 L165.5,408.8 L166.4,409.2 L167.3,409.6 L168.3,410.0 L169.2,410.4 L170.1,410.9 L171.1,411.3 L172.0,411.6 L172.9,412.0 L173.9,412.4 L174.8,412.8 L175.7,413.2 L176.7,413.6 L177.6,414.0 L178.5,414.4 L179.5,414.7 L180.4,415.1 L181.3,415.5 L182.3,415.8 L183.2,416.2 L184.1,416.6 L185.1,416.9 L186.0,417.3 L186.9,417.6 L187.9,418.0 L188.8,418.3 L189.7,418.6 L190.7,419.0 L191.6,419.3 L192.5,419.6 L193.5,419.9 L194.0,420.1 L194.0,472.6 L193.5,472.4 L192.5,472.0 L191.6,471.6 L190.7,471.1 L189.7,470.6 L188.8,470.0 L187.9,469.4 L186.9,468.8 L186.0,468.2 L185.1,467.5 L184.1,466.8 L183.2,466.0 L182.3,465.3 L181.3,464.5 L180.4,463.7 L179.5,462.9 L178.5,462.0 L177.6,461.2 L176.7,460.3 L175.7,459.4 L174.8,458.5 L173.9,457.6 L172.9,456.6 L172.0,455.5 L171.1,454.3 L170.1,453.1 L169.2,451.9 L168.3,450.6 L167.3,449.2 L166.4,447.9 L165.5,446.5 L164.5,445.1 L163.6,443.7 L162.7,442.2 L161.8,440.8 L160.8,439.4 L159.9,438.0 L159.0,436.6 L158.0,435.2 L157.1,433.7 L156.2,432.2 L155.2,430.7 L154.3,429.2 L153.4,427.8 L152.4,426.4 L151.5,425.0 L150.6,423.7 L149.6,422.3 L148.7,421.1 L147.8,419.9 L146.8,418.8 L145.9,417.9 L145.0,416.9 L144.0,416.0 L143.1,415.1 L142.2,414.3 L141.2,413.5 L140.3,412.7 L139.4,411.9 L138.4,411.2 L137.5,410.5 L136.6,409.8 L135.6,409.2 L134.7,408.6 L133.8,408.0 L132.8,407.4 L131.9,406.8 L131.0,406.3 L130.0,405.8 L129.1,405.3 L128.2,404.8 L127.2,404.3 L126.3,403.8 L125.4,403.4 L124.4,402.9 L123.5,402.5 L122.6,402.1 L121.6,401.7 L120.7,401.2 L119.8,400.8 L118.8,400.4 L117.9,400.0 L117.0,399.6 L116.0,399.2 L115.1,398.8 L114.2,398.4 L113.3,398.1 L112.3,397.7 L111.4,397.3 L110.5,397.0 L109.5,396.6 L108.6,396.3 L107.7,395.9 L106.7,395.5 L105.8,395.2 L104.9,394.8 L103.9,394.4 L103.0,394.1 L102.1,393.7 L101.1,393.3 L100.2,393.0 L99.3,392.6 L98.3,392.3 L97.4,391.9 L96.5,391.6 L95.5,391.2 L94.6,390.9 L93.7,390.5 L92.7,390.1 L91.8,389.7 L90.9,389.3 L89.9,388.8 L89.0,388.4 L88.1,387.9 L87.1,387.3 L86.2,386.8 L85.3,386.2 L84.3,385.7 L83.4,385.1 L82.5,384.7 L81.5,384.3 L80.6,383.9 L79.7,383.6 L78.7,383.2 L77.8,382.9 L76.9,382.5 L75.9,382.2 L75.0,381.9 L74.1,381.6 L73.1,381.3 L72.2,381.0 L71.3,380.7 L70.3,380.5 L69.4,380.2 L68.5,380.0 L67.5,379.7 L66.6,379.5 L65.7,379.3 L64.8,379.1 L63.8,378.9 L62.9,378.8 L62.0,378.6 L61.0,378.5 L60.1,378.4 L59.2,378.3 L58.2,378.2 L57.3,378.1 L56.4,378.0 L55.4,377.8 L54.5,377.7 L53.6,377.6 L52.6,377.5 L51.7,377.5 L50.8,377.4 L49.8,377.3 L48.9,377.2 L48.0,377.1 L47.0,377.1 L46.1,377.0 L45.2,377.0 L44.2,376.9 L43.3,376.9 L42.4,376.9 L41.4,376.9 L40.5,376.9 Z" fill="#000000" fill-opacity="0.2"/>
<path d="M40.5,376.3 L41.4,376.3 L42.4,376.3 L43.3,376.3 L44.2,376.3 L45.2,376.3 L46.1,376.3 L47.0,376.3 L48.0,376.4 L48.9,376.4 L49.8,376.4 L50.8,376.4 L51.7,376.4 L52.6,376.4 L53.6,376.4 L54.5,376.4 L55.4,376.4 L56.4,376.4 L57.3,376.4 L58.2,376.4 L59.2,376.4 L60.1,376.4 L61.0,376.4 L62.0,376.4 L62.9,376.4 L63.8,376.4 L64.8,376.4 L65.7,376.4 L66.6,376.4 L67.5,376.4 L68.5,376.4 L69.4,376.4 L70.3,376.4 L71.3,376.4 L72.2,376.5 L73.1,376.5 L74.1,376.5 L75.0,376.5 L75.9,376.5 L76.9,376.5 L77.8,376.5 L78.7,376.5 L79.7,376.5 L80.6,376.5 L81.5,376.5 L82.5,376.5 L83.4,376.5 L84.3,376.5 L85.3,376.6 L86.2,376.6 L87.1,376.6 L88.1,376.6 L89.0,376.6 L89.9,376.6 L90.9,376.6 L91.8,376.6 L92.7,376.6 L93.7,376.7 L94.6,376.7 L95.5,376.7 L96.5,376.8 L97.4,376.8 L98.3,376.8 L99.3,376.9 L100.2,376.9 L101.1,377.0 L102.1,377.0 L103.0,377.1 L103.9,377.1 L104.9,377.2 L105.8,377.2 L106.7,377.3 L107.7,377.3 L108.6,377.4 L109.5,377.4 L110.5,377.5 L111.4,377.5 L112.3,377.6 L113.3,377.6 L114.2,377.7 L115.1,377.7 L116.0,377.8 L117.0,377.8 L117.9,377.8 L118.8,377.9 L119.8,377.9 L120.7,377.9 L121.6,378.0 L122.6,378.0 L123.5,378.0 L124.4,378.1 L125.4,378.1 L126.3,378.1 L127.2,378.2 L128.2,378.2 L129.1,378.2 L130.0,378.3 L131.0,378.3 L131.9,378.3 L132.8,378.4 L133.8,378.4 L134.7,378.4 L135.6,378.5 L136.6,378.5 L137.5,378.5 L138.4,378.6 L139.4,378.6 L140.3,378.7 L141.2,378.7 L142.2,378.7 L143.1,378.8 L144.0,378.8 L145.0,378.9 L145.9,378.9 L146.8,379.0 L147.8,379.0 L148.7,379.1 L149.6,379.1 L150.6,379.2 L151.5,379.3 L152.4,379.4 L153.4,379.5 L154.3,379.6 L155.2,379.7 L156.2,379.8 L157.1,379.9 L158.0,380.0 L159.0,380.1 L159.9,380.2 L160.8,380.3 L161.8,380.4 L162.7,380.5 L163.6,380.7 L164.5,380.8 L165.5,380.9 L166.4,381.0 L167.3,381.2 L168.3,381.3 L169.2,381.4 L170.1,381.5 L171.1,381.6 L172.0,381.7 L172.9,381.8 L173.9,381.9 L174.8,382.0 L175.7,382.0 L176.7,382.1 L177.6,382.2 L178.5,382.2 L179.5,382.3 L180.4,382.3 L181.3,382.4 L182.3,382.5 L183.2,382.5 L184.1,382.6 L185.1,382.6 L186.0,382.7 L186.9,382.7 L187.9,382.7 L188.8,382.8 L189.7,382.8 L190.7,382.8 L191.6,382.8 L192.5,382.9 L193.5,382.9 L194.0,382.9 L194.0,395.5 L193.5,395.5 L192.5,395.4 L191.6,395.3 L190.7,395.2 L189.7,395.1 L188.8,395.0 L187.9,394.8 L186.9,394.7 L186.0,394.6 L185.1,394.4 L184.1,394.3 L183.2,394.1 L182.3,394.0 L181.3,393.8 L180.4,393.7 L179.5,393.5 L178.5,393.3 L177.6,393.1 L176.7,393.0 L175.7,392.8 L174.8,392.6 L173.9,392.4 L172.9,392.2 L172.0,392.0 L171.1,391.8 L170.1,391.5 L169.2,391.3 L168.3,391.0 L167.3,390.8 L166.4,390.5 L165.5,390.2 L164.5,389.9 L163.6,389.7 L162.7,389.4 L161.8,389.1 L160.8,388.9 L159.9,388.6 L159.0,388.3 L158.0,388.0 L157.1,387.7 L156.2,387.4 L155.2,387.1 L154.3,386.8 L153.4,386.5 L152.4,386.2 L151.5,385.9 L150.6,385.7 L149.6,385.5 L148.7,385.2 L147.8,385.0 L146.8,384.8 L145.9,384.6 L145.0,384.4 L144.0,384.2 L143.1,384.0 L142.2,383.8 L141.2,383.7 L140.3,383.5 L139.4,383.3 L138.4,383.1 L137.5,383.0 L136.6,382.8 L135.6,382.7 L134.7,382.5 L133.8,382.4 L132.8,382.2 L131.9,382.1 L131.0,381.9 L130.0,381.8 L129.1,381.7 L128.2,381.5 L127.2,381.4 L126.3,381.3 L125.4,381.2 L124.4,381.1 L123.5,381.0 L122.6,380.8 L121.6,380.7 L120.7,380.6 L119.8,380.5 L118.8,380.4 L117.9,380.3 L117.0,380.3 L116.0,380.2 L115.1,380.1 L114.2,380.0 L113.3,379.9 L112.3,379.8 L111.4,379.7 L110.5,379.6 L109.5,379.5 L108.6,379.4 L107.7,379.4 L106.7,379.3 L105.8,379.2 L104.9,379.1 L103.9,379.0 L103.0,379.0 L102.1,378.9 L101.1,378.8 L100.2,378.7 L99.3,378.7 L98.3,378.6 L97.4,378.5 L96.5,378.5 L95.5,378.4 L94.6,378.4 L93.7,378.3 L92.7,378.3 L91.8,378.2 L90.9,378.2 L89.9,378.1 L89.0,378.1 L88.1,378.1 L87.1,378.0 L86.2,378.0 L85.3,377.9 L84.3,377.9 L83.4,377.9 L82.5,377.8 L81.5,377.8 L80.6,377.8 L79.7,377.7 L78.7,377.7 L77.8,377.7 L76.9,377.6 L75.9,377.6 L75.0,377.6 L74.1,377.5 L73.1,377.5 L72.2,377.5 L71.3,377.4 L70.3,377.4 L69.4,377.4 L68.5,377.3 L67.5,377.3 L66.6,377.3 L65.7,377.3 L64.8,377.2 L63.8,377.2 L62.9,377.2 L62.0,377.2 L61.0,377.1 L60.1,377.1 L59.2,377.1 L58.2,377.1 L57.3,377.0 L56.4,377.0 L55.4,377.0 L54.5,377.0 L53.6,377.0 L52.6,377.0 L51.7,376.9 L50.8,376.9 L49.8,376.9 L48.9,376.9 L48.0,376.9 L47.0,376.9 L46.1,376.9 L45.2,376.9 L44.2,376.9 L43.3,376.9 L42.4,376.9 L41.4,376.9 L40.5,376.9 Z" fill="#0000ff" fill-opacity="0.2"/>
<path d="M40.5,376.3 L41.4,376.4 L42.4,376.4 L43.3,376.4 L44.2,376.4 L45.2,376.4 L46.1,376.4 L47.0,376.5 L48.0,376.5 L48.9,376.5 L49.8,376.6 L50.8,376.6 L51.7,376.6 L52.6,376.7 L53.6,376.7 L54.5,376.7 L55.4,376.8 L56.4,376.8 L57.3,376.9 L58.2,376.9 L59.2,377.0 L60.1,377.0 L61.0,377.1 L62.0,377.1 L62.9,377.2 L63.8,377.3 L64.8,377.3 L65.7,377.4 L66.6,377.4 L67.5,377.5 L68.5,377.6 L69.4,377.6 L70.3,377.7 L71.3,377.8 L72.2,377.8 L73.1,377.9 L74.1,378.0 L75.0,378.0 L75.9,378.1 L76.9,378.2 L77.8,378.2 L78.7,378.3 L79.7,378.4 L80.6,378.4 L81.5,378.5 L82.5,378.6 L83.4,378.7 L84.3,378.8 L85.3,378.9 L86.2,379.0 L87.1,379.1 L88.1,379.2 L89.0,379.3 L89.9,379.4 L90.9,379.5 L91.8,379.7 L92.7,379.8 L93.7,379.9 L94.6,380.0 L95.5,380.2 L96.5,380.3 L97.4,380.4 L98.3,380.6 L99.3,380.7 L100.2,380.8 L101.1,381.0 L102.1,381.1 L103.0,381.3 L103.9,381.4 L104.9,381.6 L105.8,381.7 L106.7,381.9 L107.7,382.1 L108.6,382.2 L109.5,382.4 L110.5,382.6 L111.4,382.7 L112.3,382.9 L113.3,383.1 L114.2,383.3 L115.1,383.5 L116.0,383.6 L117.0,383.8 L117.9,384.0 L118.8,384.2 L119.8,384.4 L120.7,384.6 L121.6,384.9 L122.6,385.1 L123.5,385.4 L124.4,385.6 L125.4,385.9 L126.3,386.2 L127.2,386.4 L128.2,386.7 L129.1,387.0 L130.0,387.2 L131.0,387.5 L131.9,387.7 L132.8,388.0 L133.8,388.2 L134.7,388.3 L135.6,388.5 L136.6,388.7 L137.5,388.8 L138.4,389.0 L139.4,389.1 L140.3,389.2 L141.2,389.4 L142.2,389.5 L143.1,389.6 L144.0,389.8 L145.0,390.0 L145.9,390.1 L146.8,390.3 L147.8,390.5 L148.7,390.7 L149.6,391.0 L150.6,391.2 L151.5,391.6 L152.4,392.0 L153.4,392.6 L154.3,393.1 L155.2,393.7 L156.2,394.3 L157.1,394.9 L158.0,395.4 L159.0,396.0 L159.9,396.4 L160.8,396.9 L161.8,397.4 L162.7,397.8 L163.6,398.3 L164.5,398.7 L165.5,399.2 L166.4,399.6 L167.3,400.0 L168.3,400.5 L169.2,400.9 L170.1,401.2 L171.1,401.6 L172.0,402.0 L172.9,402.3 L173.9,402.6 L174.8,402.8 L175.7,403.1 L176.7,403.3 L177.6,403.6 L178.5,403.8 L179.5,404.1 L180.4,404.3 L181.3,404.5 L182.3,404.7 L183.2,404.9 L184.1,405.1 L185.1,405.3 L186.0,405.5 L186.9,405.7 L187.9,405.8 L188.8,406.0 L189.7,406.1 L190.7,406.2 L191.6,406.3 L192.5,406.4 L193.5,406.5 L194.0,406.6 L194.0,450.8 L193.5,450.6 L192.5,450.2 L191.6,449.8 L190.7,449.4 L189.7,449.0 L188.8,448.5 L187.9,448.0 L186.9,447.5 L186.0,447.0 L185.1,446.5 L184.1,446.0 L183.2,445.4 L182.3,444.9 L181.3,444.3 L180.4,443.7 L179.5,443.2 L178.5,442.6 L177.6,442.0 L176.7,441.3 L175.7,440.7 L174.8,440.1 L173.9,439.4 L172.9,438.8 L172.0,438.1 L171.1,437.3 L170.1,436.6 L169.2,435.8 L168.3,435.0 L167.3,434.2 L166.4,433.4 L165.5,432.6 L164.5,431.7 L163.6,430.9 L162.7,430.0 L161.8,429.2 L160.8,428.3 L159.9,427.4 L159.0,426.5 L158.0,425.5 L157.1,424.5 L156.2,423.4 L155.2,422.4 L154.3,421.3 L153.4,420.2 L152.4,419.1 L151.5,418.0 L150.6,417.0 L149.6,416.1 L148.7,415.2 L147.8,414.4 L146.8,413.7 L145.9,413.1 L145.0,412.5 L144.0,411.9 L143.1,411.4 L142.2,410.9 L141.2,410.4 L140.3,409.9 L139.4,409.5 L138.4,409.0 L137.5,408.6 L136.6,408.2 L135.6,407.8 L134.7,407.4 L133.8,407.0 L132.8,406.5 L131.9,406.1 L131.0,405.7 L130.0,405.2 L129.1,404.8 L128.2,404.3 L127.2,403.8 L126.3,403.3 L125.4,402.9 L124.4,402.4 L123.5,402.0 L122.6,401.5 L121.6,401.0 L120.7,400.6 L119.8,400.1 L118.8,399.6 L117.9,399.1 L117.0,398.7 L116.0,398.2 L115.1,397.7 L114.2,397.2 L113.3,396.7 L112.3,396.2 L111.4,395.7 L110.5,395.2 L109.5,394.6 L108.6,394.0 L107.7,393.4 L106.7,392.8 L105.8,392.2 L104.9,391.5 L103.9,391.0 L103.0,390.4 L102.1,389.9 L101.1,389.4 L100.2,389.0 L99.3,388.5 L98.3,388.1 L97.4,387.7 L96.5,387.3 L95.5,386.9 L94.6,386.5 L93.7,386.1 L92.7,385.8 L91.8,385.4 L90.9,385.1 L89.9,384.7 L89.0,384.4 L88.1,384.1 L87.1,383.8 L86.2,383.5 L85.3,383.3 L84.3,383.0 L83.4,382.8 L82.5,382.6 L81.5,382.4 L80.6,382.2 L79.7,382.0 L78.7,381.8 L77.8,381.6 L76.9,381.4 L75.9,381.2 L75.0,381.0 L74.1,380.8 L73.1,380.7 L72.2,380.5 L71.3,380.3 L70.3,380.1 L69.4,380.0 L68.5,379.8 L67.5,379.6 L66.6,379.5 L65.7,379.3 L64.8,379.1 L63.8,379.0 L62.9,378.8 L62.0,378.7 L61.0,378.5 L60.1,378.4 L59.2,378.3 L58.2,378.2 L57.3,378.0 L56.4,377.9 L55.4,377.8 L54.5,377.7 L53.6,377.6 L52.6,377.5 L51.7,377.4 L50.8,377.3 L49.8,377.2 L48.9,377.2 L48.0,377.1 L47.0,377.0 L46.1,377.0 L45.2,377.0 L44.2,376.9 L43.3,376.9 L42.4,376.9 L41.4,376.9 L40.5,376.9 Z" fill="#ff0000" fill-opacity="0.2"/>
<path d="M40.5,376.6 L41.4,376.6 L42.4,376.6 L43.3,376.7 L44.2,376.7 L45.2,376.7 L46.1,376.8 L47.0,376.8 L48.0,376.9 L48.9,377.0 L49.8,377.0 L50.8,377.1 L51.7,377.2 L52.6,377.2 L53.6,377.3 L54.5,377.4 L55.4,377.5 L56.4,377.6 L57.3,377.6 L58.2,377.7 L59.2,377.8 L60.1,377.9 L61.0,378.0 L62.0,378.1 L62.9,378.2 L63.8,378.3 L64.8,378.4 L65.7,378.6 L66.6,378.7 L67.5,378.9 L68.5,379.0 L69.4,379.2 L70.3,379.3 L71.3,379.5 L72.2,379.7 L73.1,379.9 L74.1,380.0 L75.0,380.2 L75.9,380.4 L76.9,380.6 L77.8,380.8 L78.7,381.0 L79.7,381.2 L80.6,381.4 L81.5,381.6 L82.5,381.8 L83.4,382.0 L84.3,382.2 L85.3,382.5 L86.2,382.7 L87.1,383.0 L88.1,383.2 L89.0,383.5 L89.9,383.7 L90.9,384.0 L91.8,384.3 L92.7,384.6 L93.7,384.9 L94.6,385.2 L95.5,385.6 L96.5,385.9 L97.4,386.2 L98.3,386.6 L99.3,386.9 L100.2,387.3 L101.1,387.6 L102.1,388.0 L103.0,388.3 L103.9,388.7 L104.9,389.0 L105.8,389.4 L106.7,389.7 L107.7,390.1 L108.6,390.4 L109.5,390.8 L110.5,391.2 L111.4,391.5 L112.3,391.9 L113.3,392.3 L114.2,392.6 L115.1,393.0 L116.0,393.4 L117.0,393.8 L117.9,394.1 L118.8,394.5 L119.8,394.9 L120.7,395.3 L121.6,395.7 L122.6,396.1 L123.5,396.5 L124.4,396.9 L125.4,397.3 L126.3,397.7 L127.2,398.1 L128.2,398.5 L129.1,398.9 L130.0,399.4 L131.0,399.8 L131.9,400.3 L132.8,400.8 L133.8,401.3 L134.7,401.8 L135.6,402.4 L136.6,402.9 L137.5,403.5 L138.4,404.1 L139.4,404.7 L140.3,405.3 L141.2,406.0 L142.2,406.7 L143.1,407.3 L144.0,408.0 L145.0,408.8 L145.9,409.5 L146.8,410.3 L147.8,411.0 L148.7,411.8 L149.6,412.6 L150.6,413.5 L151.5,414.4 L152.4,415.4 L153.4,416.4 L154.3,417.4 L155.2,418.5 L156.2,419.6 L157.1,420.7 L158.0,421.7 L159.0,422.8 L159.9,423.7 L160.8,424.6 L161.8,425.5 L162.7,426.4 L163.6,427.3 L164.5,428.2 L165.5,429.1 L166.4,429.9 L167.3,430.8 L168.3,431.6 L169.2,432.4 L170.1,433.2 L171.1,433.9 L172.0,434.7 L172.9,435.4 L173.9,436.1 L174.8,436.8 L175.7,437.4 L176.7,438.0 L177.6,438.6 L178.5,439.2 L179.5,439.8 L180.4,440.3 L181.3,440.9 L182.3,441.4 L183.2,441.9 L184.1,442.4 L185.1,442.9 L186.0,443.3 L186.9,443.8 L187.9,444.3 L188.8,444.7 L189.7,445.2 L190.7,445.6 L191.6,446.0 L192.5,446.4 L193.5,446.8 L194.0,447.0" fill="none" stroke="#000000" stroke-width="1.6" stroke-linejoin="round"/>
<path d="M40.5,376.6 L41.4,376.6 L42.4,376.6 L43.3,376.7 L44.2,376.7 L45.2,376.7 L46.1,376.7 L47.0,376.7 L48.0,376.8 L48.9,376.8 L49.8,376.8 L50.8,376.8 L51.7,376.8 L52.6,376.8 L53.6,376.9 L54.5,376.9 L55.4,376.9 L56.4,376.9 L57.3,376.9 L58.2,376.9 L59.2,377.0 L60.1,377.0 L61.0,377.0 L62.0,377.0 L62.9,377.0 L63.8,377.0 L64.8,377.0 L65.7,377.0 L66.6,377.1 L67.5,377.1 L68.5,377.1 L69.4,377.1 L70.3,377.1 L71.3,377.1 L72.2,377.1 L73.1,377.1 L74.1,377.1 L75.0,377.1 L75.9,377.2 L76.9,377.2 L77.8,377.2 L78.7,377.2 L79.7,377.2 L80.6,377.2 L81.5,377.2 L82.5,377.2 L83.4,377.2 L84.3,377.3 L85.3,377.3 L86.2,377.3 L87.1,377.3 L88.1,377.3 L89.0,377.3 L89.9,377.4 L90.9,377.4 L91.8,377.4 L92.7,377.5 L93.7,377.5 L94.6,377.5 L95.5,377.6 L96.5,377.6 L97.4,377.7 L98.3,377.7 L99.3,377.8 L100.2,377.8 L101.1,377.9 L102.1,378.0 L103.0,378.0 L103.9,378.1 L104.9,378.2 L105.8,378.3 L106.7,378.3 L107.7,378.4 L108.6,378.5 L109.5,378.6 L110.5,378.7 L111.4,378.7 L112.3,378.8 L113.3,378.9 L114.2,379.0 L115.1,379.1 L116.0,379.2 L117.0,379.2 L117.9,379.3 L118.8,379.4 L119.8,379.5 L120.7,379.5 L121.6,379.6 L122.6,379.7 L123.5,379.8 L124.4,379.9 L125.4,379.9 L126.3,380.0 L127.2,380.1 L128.2,380.2 L129.1,380.3 L130.0,380.3 L131.0,380.4 L131.9,380.5 L132.8,380.6 L133.8,380.7 L134.7,380.8 L135.6,380.9 L136.6,381.0 L137.5,381.1 L138.4,381.2 L139.4,381.3 L140.3,381.4 L141.2,381.5 L142.2,381.6 L143.1,381.7 L144.0,381.9 L145.0,382.0 L145.9,382.1 L146.8,382.3 L147.8,382.4 L148.7,382.5 L149.6,382.7 L150.6,382.8 L151.5,383.0 L152.4,383.3 L153.4,383.5 L154.3,383.8 L155.2,384.0 L156.2,384.3 L157.1,384.6 L158.0,384.8 L159.0,385.1 L159.9,385.3 L160.8,385.5 L161.8,385.7 L162.7,385.9 L163.6,386.1 L164.5,386.3 L165.5,386.5 L166.4,386.7 L167.3,386.9 L168.3,387.1 L169.2,387.3 L170.1,387.4 L171.1,387.6 L172.0,387.7 L172.9,387.9 L173.9,388.0 L174.8,388.1 L175.7,388.2 L176.7,388.3 L177.6,388.4 L178.5,388.5 L179.5,388.6 L180.4,388.7 L181.3,388.8 L182.3,388.8 L183.2,388.9 L184.1,388.9 L185.1,389.0 L186.0,389.0 L186.9,389.0 L187.9,389.0 L188.8,389.1 L189.7,389.1 L190.7,389.1 L191.6,389.1 L192.5,389.1 L193.5,389.1 L194.0,389.1" fill="none" stroke="#0000ff" stroke-width="1.6" stroke-linejoin="round"/>
<path d="M40.5,376.6 L41.4,376.6 L42.4,376.6 L43.3,376.6 L44.2,376.7 L45.2,376.7 L46.1,376.7 L47.0,376.8 L48.0,376.8 L48.9,376.8 L49.8,376.9 L50.8,376.9 L51.7,377.0 L52.6,377.0 L53.6,377.1 L54.5,377.2 L55.4,377.2 L56.4,377.3 L57.3,377.4 L58.2,377.4 L59.2,377.5 L60.1,377.6 L61.0,377.6 L62.0,377.7 L62.9,377.8 L63.8,377.9 L64.8,378.0 L65.7,378.1 L66.6,378.2 L67.5,378.3 L68.5,378.5 L69.4,378.6 L70.3,378.7 L71.3,378.9 L72.2,379.0 L73.1,379.2 L74.1,379.3 L75.0,379.5 L75.9,379.6 L76.9,379.7 L77.8,379.9 L78.7,380.0 L79.7,380.2 L80.6,380.3 L81.5,380.4 L82.5,380.6 L83.4,380.7 L84.3,380.8 L85.3,380.9 L86.2,381.0 L87.1,381.1 L88.1,381.3 L89.0,381.4 L89.9,381.6 L90.9,381.8 L91.8,382.0 L92.7,382.2 L93.7,382.4 L94.6,382.7 L95.5,383.0 L96.5,383.3 L97.4,383.6 L98.3,383.9 L99.3,384.2 L100.2,384.5 L101.1,384.8 L102.1,385.1 L103.0,385.5 L103.9,385.8 L104.9,386.1 L105.8,386.4 L106.7,386.7 L107.7,387.0 L108.6,387.3 L109.5,387.6 L110.5,387.9 L111.4,388.3 L112.3,388.6 L113.3,388.9 L114.2,389.2 L115.1,389.6 L116.0,389.9 L117.0,390.3 L117.9,390.6 L118.8,391.0 L119.8,391.3 L120.7,391.7 L121.6,392.0 L122.6,392.4 L123.5,392.8 L124.4,393.1 L125.4,393.5 L126.3,393.9 L127.2,394.3 L128.2,394.6 L129.1,395.0 L130.0,395.4 L131.0,395.8 L131.9,396.2 L132.8,396.6 L133.8,397.0 L134.7,397.4 L135.6,397.9 L136.6,398.3 L137.5,398.7 L138.4,399.1 L139.4,399.5 L140.3,399.9 L141.2,400.4 L142.2,400.8 L143.1,401.2 L144.0,401.7 L145.0,402.2 L145.9,402.6 L146.8,403.1 L147.8,403.6 L148.7,404.1 L149.6,404.7 L150.6,405.2 L151.5,405.8 L152.4,406.5 L153.4,407.1 L154.3,407.8 L155.2,408.6 L156.2,409.3 L157.1,410.0 L158.0,410.7 L159.0,411.4 L159.9,412.1 L160.8,412.7 L161.8,413.4 L162.7,414.0 L163.6,414.7 L164.5,415.4 L165.5,416.0 L166.4,416.7 L167.3,417.3 L168.3,418.0 L169.2,418.6 L170.1,419.2 L171.1,419.8 L172.0,420.4 L172.9,420.9 L173.9,421.4 L174.8,421.9 L175.7,422.4 L176.7,422.8 L177.6,423.3 L178.5,423.7 L179.5,424.2 L180.4,424.6 L181.3,425.0 L182.3,425.4 L183.2,425.8 L184.1,426.2 L185.1,426.6 L186.0,426.9 L186.9,427.3 L187.9,427.6 L188.8,427.9 L189.7,428.2 L190.7,428.5 L191.6,428.8 L192.5,429.1 L193.5,429.3 L194.0,429.5" fill="none" stroke="#ff0000" stroke-width="1.6" stroke-linejoin="round"/>
</g>
<path d="M40.5,363.5 H193.5 V478.8 H40.5 Z" fill="none" stroke="#666" stroke-width="1"/>
<line x1="37.2" y1="376.60" x2="40.5" y2="376.60" stroke="#333" stroke-width="0.8"/>
<text x="32.9" y="380.10" font-family="'Liberation Sans', sans-serif" font-size="9.9" fill="#333" text-anchor="end" textLength="5.18" lengthAdjust="spacingAndGlyphs">0</text>
<line x1="37.2" y1="402.20" x2="40.5" y2="402.20" stroke="#333" stroke-width="0.8"/>
<text x="32.9" y="405.70" font-family="'Liberation Sans', sans-serif" font-size="9.9" fill="#333" text-anchor="end" textLength="10.61" lengthAdjust="spacingAndGlyphs">−2</text>
<line x1="37.2" y1="427.80" x2="40.5" y2="427.80" stroke="#333" stroke-width="0.8"/>
<text x="32.9" y="431.30" font-family="'Liberation Sans', sans-serif" font-size="9.9" fill="#333" text-anchor="end" textLength="10.61" lengthAdjust="spacingAndGlyphs">−4</text>
<line x1="37.2" y1="453.40" x2="40.5" y2="453.40" stroke="#333" stroke-width="0.8"/>
<text x="32.9" y="456.90" font-family="'Liberation Sans', sans-serif" font-size="9.9" fill="#333" text-anchor="end" textLength="10.61" lengthAdjust="spacingAndGlyphs">−6</text>
<line x1="37.2" y1="479.00" x2="40.5" y2="479.00" stroke="#333" stroke-width="0.8"/>
<text x="32.9" y="482.50" font-family="'Liberation Sans', sans-serif" font-size="9.9" fill="#333" text-anchor="end" textLength="10.61" lengthAdjust="spacingAndGlyphs">−8</text>
<line x1="40.50" y1="478.8" x2="40.50" y2="482.1" stroke="#333" stroke-width="0.8"/>
<text x="40.50" y="493.8" font-family="'Liberation Sans', sans-serif" font-size="9.9" fill="#333" text-anchor="middle" textLength="20.70" lengthAdjust="spacingAndGlyphs">1850</text>
<line x1="87.13" y1="478.8" x2="87.13" y2="482.1" stroke="#333" stroke-width="0.8"/>
<text x="87.13" y="493.8" font-family="'Liberation Sans', sans-serif" font-size="9.9" fill="#333" text-anchor="middle" textLength="20.70" lengthAdjust="spacingAndGlyphs">1900</text>
<line x1="133.77" y1="478.8" x2="133.77" y2="482.1" stroke="#333" stroke-width="0.8"/>
<text x="133.77" y="493.8" font-family="'Liberation Sans', sans-serif" font-size="9.9" fill="#333" text-anchor="middle" textLength="20.70" lengthAdjust="spacingAndGlyphs">1950</text>
<line x1="180.41" y1="478.8" x2="180.41" y2="482.1" stroke="#333" stroke-width="0.8"/>
<text x="180.41" y="493.8" font-family="'Liberation Sans', sans-serif" font-size="9.9" fill="#333" text-anchor="middle" textLength="20.70" lengthAdjust="spacingAndGlyphs">2000</text>
<text x="117.0" y="509.9" font-family="'Liberation Sans', sans-serif" font-size="10.4" fill="#222" text-anchor="middle">Year</text>
<text transform="translate(13.8,421.54999999999995) rotate(-90)" font-family="'Liberation Sans', sans-serif" font-size="10.4" fill="#222" text-anchor="middle">10<tspan font-size="8.3" dy="-4.9">23</tspan><tspan dy="4.9" dx="0.3">J</tspan></text>
<clipPath id="cpcR"><rect x="250.0" y="363.5" width="152.5" height="115.30000000000001"/></clipPath>
<g clip-path="url(#cpcR)">
<path d="M250.0,420.9 L254.7,419.1 L259.3,418.4 L268.6,419.1 L282.6,418.4 L291.9,417.5 L301.1,418.6 L310.4,416.5 L324.4,414.4 L334.2,411.4 L343.9,413.3 L353.2,406.6 L363.1,402.7 L378.3,398.8 L391.9,391.0 L396.9,386.6 L403.0,382.4 L403.0,432.7 L380.2,429.1 L363.1,428.0 L343.9,431.7 L333.7,429.1 L324.4,428.0 L315.1,428.0 L305.8,428.5 L296.5,427.5 L289.1,427.5 L282.6,429.6 L270.5,423.8 L264.9,424.3 L259.3,427.1 L254.7,425.4 L250.0,421.5 Z" fill="#000000" fill-opacity="0.2"/>
<path d="M250.0,420.9 L259.3,419.4 L268.6,419.6 L282.6,418.4 L294.6,416.5 L307.7,418.1 L324.4,420.7 L352.3,420.7 L380.2,420.7 L403.0,420.2 L403.0,429.1 L392.3,430.8 L372.8,429.1 L347.6,428.3 L324.4,427.5 L307.7,426.4 L294.6,427.0 L282.6,429.1 L268.6,423.8 L259.3,425.2 L250.0,421.5 Z" fill="#0000ff" fill-opacity="0.2"/>
<path d="M250.0,420.9 L250.9,420.9 L251.9,420.9 L252.8,420.8 L253.7,420.8 L254.7,420.8 L255.6,420.8 L256.5,420.7 L257.4,420.7 L258.4,420.7 L259.3,420.6 L260.2,420.6 L261.2,420.6 L262.1,420.5 L263.0,420.5 L263.9,420.5 L264.9,420.5 L265.8,420.4 L266.7,420.4 L267.7,420.4 L268.6,420.3 L269.5,420.3 L270.5,420.3 L271.4,420.2 L272.3,420.2 L273.2,420.2 L274.2,420.1 L275.1,420.1 L276.0,420.1 L277.0,420.1 L277.9,420.0 L278.8,420.0 L279.8,420.0 L280.7,419.9 L281.6,419.9 L282.6,419.9 L283.5,419.8 L284.4,419.8 L285.3,419.8 L286.3,419.7 L287.2,419.7 L288.1,419.7 L289.1,419.6 L290.0,419.6 L290.9,419.6 L291.9,419.5 L292.8,419.5 L293.7,419.5 L294.6,419.4 L295.6,419.4 L296.5,419.4 L297.4,419.3 L298.4,419.3 L299.3,419.3 L300.2,419.2 L301.1,419.2 L302.1,419.2 L303.0,419.2 L303.9,419.1 L304.9,419.1 L305.8,419.1 L306.7,419.0 L307.7,419.0 L308.6,419.0 L309.5,419.0 L310.4,418.9 L311.4,418.9 L312.3,418.9 L313.2,418.8 L314.2,418.8 L315.1,418.8 L316.0,418.7 L317.0,418.7 L317.9,418.7 L318.8,418.6 L319.8,418.6 L320.7,418.5 L321.6,418.5 L322.5,418.4 L323.5,418.4 L324.4,418.3 L325.3,418.3 L326.3,418.2 L327.2,418.1 L328.1,418.0 L329.1,417.8 L330.0,417.7 L330.9,417.6 L331.8,417.4 L332.8,417.3 L333.7,417.1 L334.6,416.9 L335.6,416.7 L336.5,416.5 L337.4,416.3 L338.4,416.2 L339.3,416.0 L340.2,415.8 L341.1,415.6 L342.1,415.4 L343.0,415.2 L343.9,415.0 L344.9,414.8 L345.8,414.6 L346.7,414.4 L347.6,414.2 L348.6,414.1 L349.5,413.9 L350.4,413.7 L351.4,413.6 L352.3,413.5 L353.2,413.3 L354.2,413.2 L355.1,413.1 L356.0,413.0 L356.9,412.9 L357.9,412.8 L358.8,412.7 L359.7,412.6 L360.7,412.5 L361.6,412.4 L362.5,412.3 L363.5,412.3 L364.4,412.2 L365.3,412.1 L366.2,412.0 L367.2,411.9 L368.1,411.8 L369.0,411.7 L370.0,411.7 L370.9,411.6 L371.8,411.5 L372.8,411.4 L373.7,411.3 L374.6,411.2 L375.6,411.1 L376.5,411.0 L377.4,411.0 L378.3,410.9 L379.3,410.8 L380.2,410.7 L381.1,410.6 L382.1,410.5 L383.0,410.4 L383.9,410.3 L384.9,410.3 L385.8,410.2 L386.7,410.1 L387.6,410.0 L388.6,409.9 L389.5,409.8 L390.4,409.7 L391.4,409.7 L392.3,409.6 L393.2,409.5 L394.1,409.4 L395.1,409.3 L396.0,409.2 L396.9,409.2 L397.9,409.1 L398.8,409.0 L399.7,408.9 L400.7,408.8 L401.6,408.7 L402.5,408.7 L403.0,408.6 L403.0,427.0 L402.5,426.9 L401.6,426.8 L400.7,426.7 L399.7,426.6 L398.8,426.5 L397.9,426.4 L396.9,426.3 L396.0,426.2 L395.1,426.1 L394.1,426.1 L393.2,426.0 L392.3,425.9 L391.4,425.8 L390.4,425.7 L389.5,425.6 L388.6,425.5 L387.6,425.4 L386.7,425.3 L385.8,425.2 L384.9,425.1 L383.9,425.0 L383.0,424.9 L382.1,424.9 L381.1,424.8 L380.2,424.7 L379.3,424.6 L378.3,424.5 L377.4,424.4 L376.5,424.3 L375.6,424.2 L374.6,424.2 L373.7,424.1 L372.8,424.0 L371.8,423.9 L370.9,423.8 L370.0,423.7 L369.0,423.6 L368.1,423.5 L367.2,423.4 L366.2,423.3 L365.3,423.2 L364.4,423.1 L363.5,423.0 L362.5,422.9 L361.6,422.8 L360.7,422.7 L359.7,422.6 L358.8,422.5 L357.9,422.5 L356.9,422.4 L356.0,422.3 L355.1,422.3 L354.2,422.3 L353.2,422.2 L352.3,422.2 L351.4,422.2 L350.4,422.2 L349.5,422.2 L348.6,422.2 L347.6,422.2 L346.7,422.2 L345.8,422.1 L344.9,422.1 L343.9,422.1 L343.0,422.1 L342.1,422.1 L341.1,422.1 L340.2,422.1 L339.3,422.1 L338.4,422.1 L337.4,422.1 L336.5,422.1 L335.6,422.1 L334.6,422.1 L333.7,422.1 L332.8,422.0 L331.8,422.0 L330.9,422.0 L330.0,422.0 L329.1,422.0 L328.1,422.0 L327.2,422.0 L326.3,422.0 L325.3,422.0 L324.4,422.0 L323.5,422.0 L322.5,422.0 L321.6,422.0 L320.7,422.0 L319.8,421.9 L318.8,421.9 L317.9,421.9 L317.0,421.9 L316.0,421.9 L315.1,421.9 L314.2,421.9 L313.2,421.9 L312.3,421.9 L311.4,421.9 L310.4,421.8 L309.5,421.8 L308.6,421.8 L307.7,421.8 L306.7,421.8 L305.8,421.8 L304.9,421.8 L303.9,421.8 L303.0,421.8 L302.1,421.8 L301.1,421.8 L300.2,421.8 L299.3,421.7 L298.4,421.7 L297.4,421.7 L296.5,421.7 L295.6,421.7 L294.6,421.7 L293.7,421.7 L292.8,421.7 L291.9,421.7 L290.9,421.7 L290.0,421.7 L289.1,421.7 L288.1,421.7 L287.2,421.7 L286.3,421.7 L285.3,421.6 L284.4,421.6 L283.5,421.6 L282.6,421.6 L281.6,421.6 L280.7,421.6 L279.8,421.6 L278.8,421.6 L277.9,421.6 L277.0,421.6 L276.0,421.6 L275.1,421.6 L274.2,421.6 L273.2,421.6 L272.3,421.6 L271.4,421.6 L270.5,421.6 L269.5,421.5 L268.6,421.5 L267.7,421.5 L266.7,421.5 L265.8,421.5 L264.9,421.5 L263.9,421.5 L263.0,421.5 L262.1,421.5 L261.2,421.5 L260.2,421.5 L259.3,421.5 L258.4,421.5 L257.4,421.5 L256.5,421.5 L255.6,421.5 L254.7,421.5 L253.7,421.5 L252.8,421.5 L251.9,421.5 L250.9,421.5 L250.0,421.5 Z" fill="#ff0000" fill-opacity="0.2"/>
<path d="M250.0,421.2 L254.7,422.2 L259.3,423.6 L263.9,422.2 L269.5,421.2 L275.1,422.8 L282.6,424.2 L288.1,422.8 L293.7,421.7 L301.1,422.2 L307.7,422.0 L315.1,421.5 L324.4,420.2 L333.7,420.7 L343.9,422.0 L349.5,421.5 L355.1,417.2 L363.5,414.9 L372.8,412.8 L380.2,411.2 L386.7,409.5 L392.3,410.2 L396.9,408.6 L403.0,407.6" fill="none" stroke="#000000" stroke-width="1.6" stroke-linejoin="round"/>
<path d="M250.0,421.2 L259.3,422.8 L268.6,421.7 L282.6,423.6 L291.9,422.8 L307.7,423.0 L319.8,422.8 L329.1,423.3 L343.0,425.0 L356.9,424.6 L370.9,425.0 L384.9,424.9 L392.3,426.0 L396.9,424.9 L403.0,424.4" fill="none" stroke="#0000ff" stroke-width="1.6" stroke-linejoin="round"/>
<path d="M250.0,421.2 L250.9,421.2 L251.9,421.2 L252.8,421.2 L253.7,421.2 L254.7,421.2 L255.6,421.2 L256.5,421.2 L257.4,421.2 L258.4,421.2 L259.3,421.2 L260.2,421.2 L261.2,421.2 L262.1,421.2 L263.0,421.2 L263.9,421.1 L264.9,421.1 L265.8,421.1 L266.7,421.1 L267.7,421.1 L268.6,421.0 L269.5,421.0 L270.5,421.0 L271.4,421.0 L272.3,420.9 L273.2,420.9 L274.2,420.9 L275.1,420.8 L276.0,420.8 L277.0,420.8 L277.9,420.8 L278.8,420.8 L279.8,420.8 L280.7,420.8 L281.6,420.8 L282.6,420.8 L283.5,420.8 L284.4,420.8 L285.3,420.8 L286.3,420.8 L287.2,420.8 L288.1,420.8 L289.1,420.8 L290.0,420.8 L290.9,420.8 L291.9,420.8 L292.8,420.8 L293.7,420.8 L294.6,420.8 L295.6,420.8 L296.5,420.8 L297.4,420.8 L298.4,420.8 L299.3,420.8 L300.2,420.8 L301.1,420.8 L302.1,420.7 L303.0,420.7 L303.9,420.7 L304.9,420.7 L305.8,420.7 L306.7,420.7 L307.7,420.7 L308.6,420.7 L309.5,420.6 L310.4,420.6 L311.4,420.6 L312.3,420.6 L313.2,420.6 L314.2,420.5 L315.1,420.5 L316.0,420.5 L317.0,420.5 L317.9,420.4 L318.8,420.4 L319.8,420.4 L320.7,420.3 L321.6,420.3 L322.5,420.2 L323.5,420.2 L324.4,420.2 L325.3,420.1 L326.3,420.1 L327.2,420.0 L328.1,420.0 L329.1,419.9 L330.0,419.9 L330.9,419.9 L331.8,419.8 L332.8,419.8 L333.7,419.7 L334.6,419.7 L335.6,419.6 L336.5,419.6 L337.4,419.5 L338.4,419.5 L339.3,419.4 L340.2,419.3 L341.1,419.3 L342.1,419.2 L343.0,419.1 L343.9,419.0 L344.9,418.9 L345.8,418.7 L346.7,418.5 L347.6,418.4 L348.6,418.2 L349.5,418.0 L350.4,417.8 L351.4,417.6 L352.3,417.5 L353.2,417.4 L354.2,417.3 L355.1,417.2 L356.0,417.2 L356.9,417.2 L357.9,417.2 L358.8,417.1 L359.7,417.1 L360.7,417.1 L361.6,417.1 L362.5,417.1 L363.5,417.1 L364.4,417.0 L365.3,417.0 L366.2,417.0 L367.2,417.0 L368.1,417.0 L369.0,417.0 L370.0,417.0 L370.9,417.0 L371.8,417.0 L372.8,417.0 L373.7,417.0 L374.6,417.0 L375.6,417.1 L376.5,417.1 L377.4,417.1 L378.3,417.1 L379.3,417.2 L380.2,417.2 L381.1,417.2 L382.1,417.2 L383.0,417.3 L383.9,417.3 L384.9,417.4 L385.8,417.4 L386.7,417.4 L387.6,417.5 L388.6,417.5 L389.5,417.5 L390.4,417.6 L391.4,417.6 L392.3,417.6 L393.2,417.7 L394.1,417.7 L395.1,417.8 L396.0,417.8 L396.9,417.9 L397.9,417.9 L398.8,418.0 L399.7,418.0 L400.7,418.1 L401.6,418.1 L402.5,418.2 L403.0,418.2" fill="none" stroke="#ff0000" stroke-width="1.6" stroke-linejoin="round"/>
</g>
<path d="M250.0,363.5 H402.5 V478.8 H250.0 Z" fill="none" stroke="#666" stroke-width="1"/>
<line x1="246.7" y1="368.80" x2="250.0" y2="368.80" stroke="#333" stroke-width="0.8"/>
<text x="242.4" y="372.30" font-family="'Liberation Sans', sans-serif" font-size="9.9" fill="#333" text-anchor="end" textLength="10.35" lengthAdjust="spacingAndGlyphs">10</text>
<line x1="246.7" y1="395.00" x2="250.0" y2="395.00" stroke="#333" stroke-width="0.8"/>
<text x="242.4" y="398.50" font-family="'Liberation Sans', sans-serif" font-size="9.9" fill="#333" text-anchor="end" textLength="5.18" lengthAdjust="spacingAndGlyphs">5</text>
<line x1="246.7" y1="421.20" x2="250.0" y2="421.20" stroke="#333" stroke-width="0.8"/>
<text x="242.4" y="424.70" font-family="'Liberation Sans', sans-serif" font-size="9.9" fill="#333" text-anchor="end" textLength="5.18" lengthAdjust="spacingAndGlyphs">0</text>
<line x1="246.7" y1="447.40" x2="250.0" y2="447.40" stroke="#333" stroke-width="0.8"/>
<text x="242.4" y="450.90" font-family="'Liberation Sans', sans-serif" font-size="9.9" fill="#333" text-anchor="end" textLength="10.61" lengthAdjust="spacingAndGlyphs">−5</text>
<line x1="246.7" y1="473.60" x2="250.0" y2="473.60" stroke="#333" stroke-width="0.8"/>
<text x="242.4" y="477.10" font-family="'Liberation Sans', sans-serif" font-size="9.9" fill="#333" text-anchor="end" textLength="15.79" lengthAdjust="spacingAndGlyphs">−10</text>
<line x1="250.00" y1="478.8" x2="250.00" y2="482.1" stroke="#333" stroke-width="0.8"/>
<text x="250.00" y="493.8" font-family="'Liberation Sans', sans-serif" font-size="9.9" fill="#333" text-anchor="middle" textLength="20.70" lengthAdjust="spacingAndGlyphs">1850</text>
<line x1="296.50" y1="478.8" x2="296.50" y2="482.1" stroke="#333" stroke-width="0.8"/>
<text x="296.50" y="493.8" font-family="'Liberation Sans', sans-serif" font-size="9.9" fill="#333" text-anchor="middle" textLength="20.70" lengthAdjust="spacingAndGlyphs">1900</text>
<line x1="343.00" y1="478.8" x2="343.00" y2="482.1" stroke="#333" stroke-width="0.8"/>
<text x="343.00" y="493.8" font-family="'Liberation Sans', sans-serif" font-size="9.9" fill="#333" text-anchor="middle" textLength="20.70" lengthAdjust="spacingAndGlyphs">1950</text>
<line x1="389.50" y1="478.8" x2="389.50" y2="482.1" stroke="#333" stroke-width="0.8"/>
<text x="389.50" y="493.8" font-family="'Liberation Sans', sans-serif" font-size="9.9" fill="#333" text-anchor="middle" textLength="20.70" lengthAdjust="spacingAndGlyphs">2000</text>
<text x="326.25" y="509.9" font-family="'Liberation Sans', sans-serif" font-size="10.4" fill="#222" text-anchor="middle">Year</text>
<text transform="translate(217.8,421.15) rotate(-90)" font-family="'Liberation Sans', sans-serif" font-size="10.4" fill="#222" text-anchor="middle">PgC</text>
<text x="5.3" y="530.6" font-family="'Liberation Sans', sans-serif" font-weight="bold" font-size="16" fill="#000" stroke="#000" stroke-width="0.35">d</text>
<text x="26.9" y="530.5" font-family="'Liberation Sans', sans-serif" font-size="10.8" fill="#1a1a1a" textLength="257.6" lengthAdjust="spacingAndGlyphs">Future ssp2-4.5, cumulative heat and carbon uptake</text>
<clipPath id="cpdL"><rect x="40.5" y="537.0" width="153.0" height="115.5"/></clipPath>
<g clip-path="url(#cpdL)">
<path d="M40.5,647.2 L42.3,646.2 L44.1,645.2 L45.9,644.2 L47.7,643.1 L49.5,642.1 L51.3,641.1 L53.1,640.0 L54.9,639.0 L56.7,637.9 L58.5,636.9 L60.3,635.8 L62.1,634.7 L63.9,633.7 L65.7,632.6 L67.5,631.5 L69.3,630.4 L71.1,629.3 L72.9,628.2 L74.7,627.1 L76.5,626.0 L78.3,624.9 L80.1,623.7 L81.9,622.6 L83.7,621.5 L85.5,620.4 L87.3,619.2 L89.1,618.1 L90.9,616.9 L92.7,615.8 L94.5,614.6 L96.3,613.4 L98.1,612.3 L99.9,611.1 L101.7,609.9 L103.5,608.7 L105.3,607.5 L107.1,606.3 L108.9,605.1 L110.7,603.9 L112.5,602.7 L114.3,601.5 L116.1,600.2 L117.9,599.0 L119.7,597.8 L121.5,596.5 L123.3,595.3 L125.1,594.0 L126.9,592.8 L128.7,591.5 L130.5,590.2 L132.3,589.0 L134.1,587.7 L135.9,586.4 L137.7,585.1 L139.5,583.8 L141.3,582.5 L143.1,581.2 L144.9,579.9 L146.7,578.6 L148.5,577.3 L150.3,576.0 L152.1,574.6 L153.9,573.3 L155.7,572.0 L157.5,570.6 L159.3,569.3 L161.1,567.9 L162.9,566.5 L164.7,565.2 L166.5,563.8 L168.3,562.4 L170.1,561.0 L171.9,559.7 L173.7,558.3 L175.5,556.9 L177.3,555.5 L179.1,554.0 L180.9,552.6 L182.7,551.2 L184.5,549.8 L186.3,548.4 L188.1,546.9 L189.9,545.5 L191.7,544.0 L193.5,542.6 L195.3,541.1 L197.1,539.7 L198.0,538.9 L198.0,574.4 L197.1,574.9 L195.3,576.0 L193.5,577.1 L191.7,578.1 L189.9,579.2 L188.1,580.2 L186.3,581.2 L184.5,582.3 L182.7,583.3 L180.9,584.3 L179.1,585.3 L177.3,586.3 L175.5,587.3 L173.7,588.3 L171.9,589.3 L170.1,590.3 L168.3,591.3 L166.5,592.3 L164.7,593.2 L162.9,594.2 L161.1,595.2 L159.3,596.1 L157.5,597.1 L155.7,598.0 L153.9,599.0 L152.1,599.9 L150.3,600.8 L148.5,601.8 L146.7,602.7 L144.9,603.6 L143.1,604.5 L141.3,605.4 L139.5,606.3 L137.7,607.2 L135.9,608.1 L134.1,609.0 L132.3,609.8 L130.5,610.7 L128.7,611.6 L126.9,612.5 L125.1,613.3 L123.3,614.2 L121.5,615.0 L119.7,615.8 L117.9,616.7 L116.1,617.5 L114.3,618.3 L112.5,619.2 L110.7,620.0 L108.9,620.8 L107.1,621.6 L105.3,622.4 L103.5,623.2 L101.7,624.0 L99.9,624.8 L98.1,625.5 L96.3,626.3 L94.5,627.1 L92.7,627.8 L90.9,628.6 L89.1,629.4 L87.3,630.1 L85.5,630.8 L83.7,631.6 L81.9,632.3 L80.1,633.0 L78.3,633.8 L76.5,634.5 L74.7,635.2 L72.9,635.9 L71.1,636.6 L69.3,637.3 L67.5,638.0 L65.7,638.7 L63.9,639.3 L62.1,640.0 L60.3,640.7 L58.5,641.4 L56.7,642.0 L54.9,642.7 L53.1,643.3 L51.3,644.0 L49.5,644.6 L47.7,645.2 L45.9,645.9 L44.1,646.5 L42.3,647.1 L40.5,647.7 Z" fill="#000000" fill-opacity="0.2"/>
<path d="M40.5,647.0 L42.3,646.5 L44.1,645.9 L45.9,645.4 L47.7,644.8 L49.5,644.3 L51.3,643.7 L53.1,643.2 L54.9,642.6 L56.7,642.1 L58.5,641.5 L60.3,640.9 L62.1,640.4 L63.9,639.8 L65.7,639.3 L67.5,638.7 L69.3,638.1 L71.1,637.5 L72.9,637.0 L74.7,636.4 L76.5,635.8 L78.3,635.2 L80.1,634.7 L81.9,634.1 L83.7,633.5 L85.5,632.9 L87.3,632.3 L89.1,631.7 L90.9,631.1 L92.7,630.5 L94.5,629.9 L96.3,629.3 L98.1,628.7 L99.9,628.1 L101.7,627.5 L103.5,626.9 L105.3,626.3 L107.1,625.7 L108.9,625.1 L110.7,624.5 L112.5,623.8 L114.3,623.2 L116.1,622.6 L117.9,622.0 L119.7,621.4 L121.5,620.7 L123.3,620.1 L125.1,619.5 L126.9,618.8 L128.7,618.2 L130.5,617.6 L132.3,616.9 L134.1,616.3 L135.9,615.6 L137.7,615.0 L139.5,614.3 L141.3,613.7 L143.1,613.0 L144.9,612.4 L146.7,611.7 L148.5,611.1 L150.3,610.4 L152.1,609.8 L153.9,609.1 L155.7,608.4 L157.5,607.8 L159.3,607.1 L161.1,606.4 L162.9,605.8 L164.7,605.1 L166.5,604.4 L168.3,603.7 L170.1,603.0 L171.9,602.4 L173.7,601.7 L175.5,601.0 L177.3,600.3 L179.1,599.6 L180.9,598.9 L182.7,598.2 L184.5,597.5 L186.3,596.8 L188.1,596.1 L189.9,595.4 L191.7,594.7 L193.5,594.0 L195.3,593.3 L197.1,592.6 L198.0,592.2 L198.0,608.4 L197.1,608.7 L195.3,609.2 L193.5,609.8 L191.7,610.3 L189.9,610.8 L188.1,611.3 L186.3,611.8 L184.5,612.4 L182.7,612.9 L180.9,613.4 L179.1,613.9 L177.3,614.4 L175.5,614.9 L173.7,615.4 L171.9,615.9 L170.1,616.5 L168.3,617.0 L166.5,617.5 L164.7,617.9 L162.9,618.4 L161.1,618.9 L159.3,619.4 L157.5,619.9 L155.7,620.4 L153.9,620.9 L152.1,621.4 L150.3,621.9 L148.5,622.3 L146.7,622.8 L144.9,623.3 L143.1,623.8 L141.3,624.2 L139.5,624.7 L137.7,625.2 L135.9,625.6 L134.1,626.1 L132.3,626.6 L130.5,627.0 L128.7,627.5 L126.9,627.9 L125.1,628.4 L123.3,628.8 L121.5,629.3 L119.7,629.7 L117.9,630.2 L116.1,630.6 L114.3,631.1 L112.5,631.5 L110.7,632.0 L108.9,632.4 L107.1,632.8 L105.3,633.3 L103.5,633.7 L101.7,634.1 L99.9,634.5 L98.1,635.0 L96.3,635.4 L94.5,635.8 L92.7,636.2 L90.9,636.6 L89.1,637.1 L87.3,637.5 L85.5,637.9 L83.7,638.3 L81.9,638.7 L80.1,639.1 L78.3,639.5 L76.5,639.9 L74.7,640.3 L72.9,640.7 L71.1,641.1 L69.3,641.5 L67.5,641.9 L65.7,642.3 L63.9,642.7 L62.1,643.0 L60.3,643.4 L58.5,643.8 L56.7,644.2 L54.9,644.6 L53.1,644.9 L51.3,645.3 L49.5,645.7 L47.7,646.0 L45.9,646.4 L44.1,646.8 L42.3,647.1 L40.5,647.5 Z" fill="#0000ff" fill-opacity="0.2"/>
<path d="M40.5,646.8 L42.3,646.5 L44.1,646.2 L45.9,645.9 L47.7,645.6 L49.5,645.3 L51.3,645.0 L53.1,644.6 L54.9,644.3 L56.7,644.0 L58.5,643.7 L60.3,643.3 L62.1,643.0 L63.9,642.7 L65.7,642.3 L67.5,642.0 L69.3,641.6 L71.1,641.2 L72.9,640.9 L74.7,640.5 L76.5,640.1 L78.3,639.8 L80.1,639.4 L81.9,639.0 L83.7,638.6 L85.5,638.2 L87.3,637.8 L89.1,637.4 L90.9,637.0 L92.7,636.6 L94.5,636.2 L96.3,635.7 L98.1,635.3 L99.9,634.9 L101.7,634.5 L103.5,634.0 L105.3,633.6 L107.1,633.1 L108.9,632.7 L110.7,632.2 L112.5,631.8 L114.3,631.3 L116.1,630.8 L117.9,630.3 L119.7,629.9 L121.5,629.4 L123.3,628.9 L125.1,628.4 L126.9,627.9 L128.7,627.4 L130.5,626.9 L132.3,626.4 L134.1,625.9 L135.9,625.4 L137.7,624.8 L139.5,624.3 L141.3,623.8 L143.1,623.2 L144.9,622.7 L146.7,622.1 L148.5,621.6 L150.3,621.0 L152.1,620.5 L153.9,619.9 L155.7,619.4 L157.5,618.8 L159.3,618.2 L161.1,617.6 L162.9,617.0 L164.7,616.5 L166.5,615.9 L168.3,615.3 L170.1,614.7 L171.9,614.0 L173.7,613.4 L175.5,612.8 L177.3,612.2 L179.1,611.6 L180.9,610.9 L182.7,610.3 L184.5,609.7 L186.3,609.0 L188.1,608.4 L189.9,607.7 L191.7,607.1 L193.5,606.4 L195.3,605.8 L197.1,605.1 L198.0,604.7 L198.0,622.7 L197.1,623.0 L195.3,623.4 L193.5,623.9 L191.7,624.4 L189.9,624.8 L188.1,625.3 L186.3,625.7 L184.5,626.2 L182.7,626.6 L180.9,627.0 L179.1,627.5 L177.3,627.9 L175.5,628.3 L173.7,628.7 L171.9,629.1 L170.1,629.5 L168.3,629.9 L166.5,630.3 L164.7,630.7 L162.9,631.1 L161.1,631.5 L159.3,631.9 L157.5,632.3 L155.7,632.6 L153.9,633.0 L152.1,633.4 L150.3,633.7 L148.5,634.1 L146.7,634.4 L144.9,634.8 L143.1,635.1 L141.3,635.5 L139.5,635.8 L137.7,636.1 L135.9,636.4 L134.1,636.8 L132.3,637.1 L130.5,637.4 L128.7,637.7 L126.9,638.0 L125.1,638.3 L123.3,638.6 L121.5,638.9 L119.7,639.2 L117.9,639.4 L116.1,639.7 L114.3,640.0 L112.5,640.2 L110.7,640.5 L108.9,640.8 L107.1,641.0 L105.3,641.3 L103.5,641.5 L101.7,641.7 L99.9,642.0 L98.1,642.2 L96.3,642.4 L94.5,642.7 L92.7,642.9 L90.9,643.1 L89.1,643.3 L87.3,643.5 L85.5,643.7 L83.7,643.9 L81.9,644.1 L80.1,644.3 L78.3,644.5 L76.5,644.6 L74.7,644.8 L72.9,645.0 L71.1,645.1 L69.3,645.3 L67.5,645.5 L65.7,645.6 L63.9,645.8 L62.1,645.9 L60.3,646.0 L58.5,646.2 L56.7,646.3 L54.9,646.4 L53.1,646.5 L51.3,646.7 L49.5,646.8 L47.7,646.9 L45.9,647.0 L44.1,647.1 L42.3,647.2 L40.5,647.3 Z" fill="#ff0000" fill-opacity="0.2"/>
<path d="M40.5,647.5 L42.3,646.6 L44.1,645.8 L45.9,645.0 L47.7,644.2 L49.5,643.3 L51.3,642.5 L53.1,641.7 L54.9,640.8 L56.7,640.0 L58.5,639.1 L60.3,638.2 L62.1,637.4 L63.9,636.5 L65.7,635.6 L67.5,634.7 L69.3,633.8 L71.1,632.9 L72.9,632.0 L74.7,631.1 L76.5,630.2 L78.3,629.3 L80.1,628.4 L81.9,627.5 L83.7,626.5 L85.5,625.6 L87.3,624.7 L89.1,623.7 L90.9,622.8 L92.7,621.8 L94.5,620.8 L96.3,619.9 L98.1,618.9 L99.9,617.9 L101.7,616.9 L103.5,615.9 L105.3,614.9 L107.1,614.0 L108.9,612.9 L110.7,611.9 L112.5,610.9 L114.3,609.9 L116.1,608.9 L117.9,607.8 L119.7,606.8 L121.5,605.8 L123.3,604.7 L125.1,603.7 L126.9,602.6 L128.7,601.5 L130.5,600.5 L132.3,599.4 L134.1,598.3 L135.9,597.2 L137.7,596.2 L139.5,595.1 L141.3,594.0 L143.1,592.9 L144.9,591.8 L146.7,590.6 L148.5,589.5 L150.3,588.4 L152.1,587.3 L153.9,586.1 L155.7,585.0 L157.5,583.8 L159.3,582.7 L161.1,581.5 L162.9,580.4 L164.7,579.2 L166.5,578.0 L168.3,576.9 L170.1,575.7 L171.9,574.5 L173.7,573.3 L175.5,572.1 L177.3,570.9 L179.1,569.7 L180.9,568.5 L182.7,567.3 L184.5,566.0 L186.3,564.8 L188.1,563.6 L189.9,562.3 L191.7,561.1 L193.5,559.8 L195.3,558.6 L197.1,557.3 L198.0,556.7" fill="none" stroke="#000000" stroke-width="1.6" stroke-linejoin="round"/>
<path d="M40.5,647.2 L42.3,646.8 L44.1,646.4 L45.9,645.9 L47.7,645.5 L49.5,645.0 L51.3,644.6 L53.1,644.1 L54.9,643.6 L56.7,643.2 L58.5,642.7 L60.3,642.3 L62.1,641.8 L63.9,641.3 L65.7,640.9 L67.5,640.4 L69.3,639.9 L71.1,639.4 L72.9,639.0 L74.7,638.5 L76.5,638.0 L78.3,637.5 L80.1,637.0 L81.9,636.6 L83.7,636.1 L85.5,635.6 L87.3,635.1 L89.1,634.6 L90.9,634.1 L92.7,633.6 L94.5,633.1 L96.3,632.6 L98.1,632.1 L99.9,631.6 L101.7,631.1 L103.5,630.6 L105.3,630.0 L107.1,629.5 L108.9,629.0 L110.7,628.5 L112.5,628.0 L114.3,627.5 L116.1,626.9 L117.9,626.4 L119.7,625.9 L121.5,625.3 L123.3,624.8 L125.1,624.3 L126.9,623.7 L128.7,623.2 L130.5,622.7 L132.3,622.1 L134.1,621.6 L135.9,621.0 L137.7,620.5 L139.5,619.9 L141.3,619.4 L143.1,618.8 L144.9,618.3 L146.7,617.7 L148.5,617.2 L150.3,616.6 L152.1,616.0 L153.9,615.5 L155.7,614.9 L157.5,614.3 L159.3,613.8 L161.1,613.2 L162.9,612.6 L164.7,612.0 L166.5,611.4 L168.3,610.9 L170.1,610.3 L171.9,609.7 L173.7,609.1 L175.5,608.5 L177.3,607.9 L179.1,607.3 L180.9,606.7 L182.7,606.1 L184.5,605.5 L186.3,604.9 L188.1,604.3 L189.9,603.7 L191.7,603.1 L193.5,602.5 L195.3,601.9 L197.1,601.3 L198.0,601.0" fill="none" stroke="#0000ff" stroke-width="1.6" stroke-linejoin="round"/>
<path d="M40.5,647.0 L42.3,646.8 L44.1,646.6 L45.9,646.4 L47.7,646.2 L49.5,645.9 L51.3,645.7 L53.1,645.5 L54.9,645.3 L56.7,645.0 L58.5,644.8 L60.3,644.5 L62.1,644.3 L63.9,644.0 L65.7,643.8 L67.5,643.5 L69.3,643.2 L71.1,642.9 L72.9,642.7 L74.7,642.4 L76.5,642.1 L78.3,641.8 L80.1,641.5 L81.9,641.2 L83.7,640.9 L85.5,640.6 L87.3,640.3 L89.1,640.0 L90.9,639.6 L92.7,639.3 L94.5,639.0 L96.3,638.6 L98.1,638.3 L99.9,638.0 L101.7,637.6 L103.5,637.2 L105.3,636.9 L107.1,636.5 L108.9,636.2 L110.7,635.8 L112.5,635.4 L114.3,635.0 L116.1,634.6 L117.9,634.3 L119.7,633.9 L121.5,633.5 L123.3,633.1 L125.1,632.7 L126.9,632.2 L128.7,631.8 L130.5,631.4 L132.3,631.0 L134.1,630.6 L135.9,630.1 L137.7,629.7 L139.5,629.2 L141.3,628.8 L143.1,628.3 L144.9,627.9 L146.7,627.4 L148.5,627.0 L150.3,626.5 L152.1,626.0 L153.9,625.5 L155.7,625.1 L157.5,624.6 L159.3,624.1 L161.1,623.6 L162.9,623.1 L164.7,622.6 L166.5,622.1 L168.3,621.6 L170.1,621.0 L171.9,620.5 L173.7,620.0 L175.5,619.5 L177.3,618.9 L179.1,618.4 L180.9,617.8 L182.7,617.3 L184.5,616.7 L186.3,616.2 L188.1,615.6 L189.9,615.1 L191.7,614.5 L193.5,613.9 L195.3,613.3 L197.1,612.7 L198.0,612.5" fill="none" stroke="#ff0000" stroke-width="1.6" stroke-linejoin="round"/>
</g>
<path d="M40.5,537.0 H193.5 V652.5 H40.5 Z" fill="none" stroke="#666" stroke-width="1"/>
<line x1="37.2" y1="647.30" x2="40.5" y2="647.30" stroke="#333" stroke-width="0.8"/>
<text x="32.9" y="650.80" font-family="'Liberation Sans', sans-serif" font-size="9.9" fill="#333" text-anchor="end" textLength="5.18" lengthAdjust="spacingAndGlyphs">0</text>
<line x1="37.2" y1="622.32" x2="40.5" y2="622.32" stroke="#333" stroke-width="0.8"/>
<text x="32.9" y="625.82" font-family="'Liberation Sans', sans-serif" font-size="9.9" fill="#333" text-anchor="end" textLength="5.18" lengthAdjust="spacingAndGlyphs">5</text>
<line x1="37.2" y1="597.35" x2="40.5" y2="597.35" stroke="#333" stroke-width="0.8"/>
<text x="32.9" y="600.85" font-family="'Liberation Sans', sans-serif" font-size="9.9" fill="#333" text-anchor="end" textLength="10.35" lengthAdjust="spacingAndGlyphs">10</text>
<line x1="37.2" y1="572.38" x2="40.5" y2="572.38" stroke="#333" stroke-width="0.8"/>
<text x="32.9" y="575.88" font-family="'Liberation Sans', sans-serif" font-size="9.9" fill="#333" text-anchor="end" textLength="10.35" lengthAdjust="spacingAndGlyphs">15</text>
<line x1="37.2" y1="547.40" x2="40.5" y2="547.40" stroke="#333" stroke-width="0.8"/>
<text x="32.9" y="550.90" font-family="'Liberation Sans', sans-serif" font-size="9.9" fill="#333" text-anchor="end" textLength="10.35" lengthAdjust="spacingAndGlyphs">20</text>
<line x1="49.50" y1="652.5" x2="49.50" y2="655.8" stroke="#333" stroke-width="0.8"/>
<text x="49.50" y="667.6" font-family="'Liberation Sans', sans-serif" font-size="9.9" fill="#333" text-anchor="middle" textLength="20.70" lengthAdjust="spacingAndGlyphs">2020</text>
<line x1="85.50" y1="652.5" x2="85.50" y2="655.8" stroke="#333" stroke-width="0.8"/>
<text x="85.50" y="667.6" font-family="'Liberation Sans', sans-serif" font-size="9.9" fill="#333" text-anchor="middle" textLength="20.70" lengthAdjust="spacingAndGlyphs">2040</text>
<line x1="121.50" y1="652.5" x2="121.50" y2="655.8" stroke="#333" stroke-width="0.8"/>
<text x="121.50" y="667.6" font-family="'Liberation Sans', sans-serif" font-size="9.9" fill="#333" text-anchor="middle" textLength="20.70" lengthAdjust="spacingAndGlyphs">2060</text>
<line x1="157.50" y1="652.5" x2="157.50" y2="655.8" stroke="#333" stroke-width="0.8"/>
<text x="157.50" y="667.6" font-family="'Liberation Sans', sans-serif" font-size="9.9" fill="#333" text-anchor="middle" textLength="20.70" lengthAdjust="spacingAndGlyphs">2080</text>
<line x1="193.50" y1="652.5" x2="193.50" y2="655.8" stroke="#333" stroke-width="0.8"/>
<text x="193.50" y="667.6" font-family="'Liberation Sans', sans-serif" font-size="9.9" fill="#333" text-anchor="middle" textLength="20.70" lengthAdjust="spacingAndGlyphs">2100</text>
<text x="117.0" y="682.4" font-family="'Liberation Sans', sans-serif" font-size="10.4" fill="#222" text-anchor="middle">Year</text>
<text transform="translate(13.8,595.15) rotate(-90)" font-family="'Liberation Sans', sans-serif" font-size="10.4" fill="#222" text-anchor="middle">10<tspan font-size="8.3" dy="-4.9">23</tspan><tspan dy="4.9" dx="0.3">J</tspan></text>
<clipPath id="cpdR"><rect x="250.0" y="537.0" width="152.5" height="115.5"/></clipPath>
<g clip-path="url(#cpdR)">
<path d="M250.0,651.5 L251.8,650.2 L253.6,649.0 L255.4,647.7 L257.2,646.4 L259.0,645.1 L260.8,643.7 L262.6,642.4 L264.4,641.1 L266.1,639.7 L267.9,638.4 L269.7,637.0 L271.5,635.7 L273.3,634.3 L275.1,632.9 L276.9,631.5 L278.7,630.1 L280.5,628.7 L282.3,627.3 L284.1,625.9 L285.9,624.5 L287.7,623.1 L289.5,621.7 L291.3,620.3 L293.1,618.9 L294.9,617.4 L296.6,616.0 L298.4,614.6 L300.2,613.1 L302.0,611.7 L303.8,610.3 L305.6,608.8 L307.4,607.4 L309.2,606.0 L311.0,604.6 L312.8,603.1 L314.6,601.7 L316.4,600.3 L318.2,598.8 L320.0,597.4 L321.8,596.0 L323.6,594.6 L325.3,593.2 L327.1,591.8 L328.9,590.3 L330.7,588.9 L332.5,587.5 L334.3,586.2 L336.1,584.8 L337.9,583.4 L339.7,582.0 L341.5,580.7 L343.3,579.3 L345.1,577.9 L346.9,576.6 L348.7,575.3 L350.5,573.9 L352.3,572.6 L354.1,571.3 L355.8,570.0 L357.6,568.7 L359.4,567.4 L361.2,566.1 L363.0,564.9 L364.8,563.6 L366.6,562.4 L368.4,561.2 L370.2,560.0 L372.0,558.8 L373.8,557.6 L375.6,556.4 L377.4,555.2 L379.2,554.1 L381.0,552.9 L382.8,551.8 L384.6,550.7 L386.3,549.6 L388.1,548.5 L389.9,547.5 L391.7,546.4 L393.5,545.4 L395.3,544.4 L397.1,543.4 L398.9,542.4 L400.7,541.5 L402.5,540.6 L404.3,539.6 L406.1,538.7 L407.0,538.3 L407.0,553.4 L406.1,553.8 L404.3,554.5 L402.5,555.3 L400.7,556.0 L398.9,556.8 L397.1,557.6 L395.3,558.5 L393.5,559.3 L391.7,560.2 L389.9,561.0 L388.1,561.9 L386.3,562.8 L384.6,563.8 L382.8,564.7 L381.0,565.6 L379.2,566.6 L377.4,567.6 L375.6,568.6 L373.8,569.6 L372.0,570.6 L370.2,571.6 L368.4,572.7 L366.6,573.8 L364.8,574.8 L363.0,575.9 L361.2,577.0 L359.4,578.1 L357.6,579.2 L355.8,580.3 L354.1,581.5 L352.3,582.6 L350.5,583.8 L348.7,584.9 L346.9,586.1 L345.1,587.3 L343.3,588.5 L341.5,589.6 L339.7,590.8 L337.9,592.1 L336.1,593.3 L334.3,594.5 L332.5,595.7 L330.7,596.9 L328.9,598.2 L327.1,599.4 L325.3,600.6 L323.6,601.9 L321.8,603.1 L320.0,604.4 L318.2,605.6 L316.4,606.9 L314.6,608.2 L312.8,609.4 L311.0,610.7 L309.2,611.9 L307.4,613.2 L305.6,614.5 L303.8,615.7 L302.0,617.0 L300.2,618.3 L298.4,619.5 L296.6,620.8 L294.9,622.0 L293.1,623.3 L291.3,624.6 L289.5,625.8 L287.7,627.1 L285.9,628.3 L284.1,629.5 L282.3,630.8 L280.5,632.0 L278.7,633.2 L276.9,634.5 L275.1,635.7 L273.3,636.9 L271.5,638.1 L269.7,639.3 L267.9,640.5 L266.1,641.7 L264.4,642.8 L262.6,644.0 L260.8,645.2 L259.0,646.3 L257.2,647.4 L255.4,648.6 L253.6,649.7 L251.8,650.8 L250.0,651.9 Z" fill="#000000" fill-opacity="0.2"/>
<path d="M250.0,652.0 L251.8,651.3 L253.6,650.7 L255.4,650.0 L257.2,649.3 L259.0,648.6 L260.8,648.0 L262.6,647.3 L264.4,646.6 L266.1,646.0 L267.9,645.3 L269.7,644.6 L271.5,643.9 L273.3,643.3 L275.1,642.6 L276.9,641.9 L278.7,641.3 L280.5,640.6 L282.3,639.9 L284.1,639.3 L285.9,638.6 L287.7,638.0 L289.5,637.3 L291.3,636.6 L293.1,636.0 L294.9,635.3 L296.6,634.7 L298.4,634.0 L300.2,633.3 L302.0,632.7 L303.8,632.0 L305.6,631.4 L307.4,630.7 L309.2,630.0 L311.0,629.4 L312.8,628.7 L314.6,628.1 L316.4,627.4 L318.2,626.8 L320.0,626.1 L321.8,625.5 L323.6,624.8 L325.3,624.2 L327.1,623.5 L328.9,622.9 L330.7,622.2 L332.5,621.6 L334.3,620.9 L336.1,620.3 L337.9,619.6 L339.7,619.0 L341.5,618.3 L343.3,617.7 L345.1,617.0 L346.9,616.4 L348.7,615.8 L350.5,615.1 L352.3,614.5 L354.1,613.8 L355.8,613.2 L357.6,612.6 L359.4,611.9 L361.2,611.3 L363.0,610.6 L364.8,610.0 L366.6,609.4 L368.4,608.7 L370.2,608.1 L372.0,607.5 L373.8,606.8 L375.6,606.2 L377.4,605.6 L379.2,604.9 L381.0,604.3 L382.8,603.7 L384.6,603.0 L386.3,602.4 L388.1,601.8 L389.9,601.1 L391.7,600.5 L393.5,599.9 L395.3,599.3 L397.1,598.6 L398.9,598.0 L400.7,597.4 L402.5,596.8 L404.3,596.1 L406.1,595.5 L407.0,595.2 L407.0,606.6 L406.1,606.8 L404.3,607.3 L402.5,607.8 L400.7,608.3 L398.9,608.8 L397.1,609.3 L395.3,609.8 L393.5,610.3 L391.7,610.8 L389.9,611.3 L388.1,611.8 L386.3,612.3 L384.6,612.8 L382.8,613.3 L381.0,613.8 L379.2,614.3 L377.4,614.8 L375.6,615.4 L373.8,615.9 L372.0,616.4 L370.2,616.9 L368.4,617.4 L366.6,617.9 L364.8,618.4 L363.0,618.9 L361.2,619.4 L359.4,620.0 L357.6,620.5 L355.8,621.0 L354.1,621.5 L352.3,622.0 L350.5,622.5 L348.7,623.1 L346.9,623.6 L345.1,624.1 L343.3,624.6 L341.5,625.1 L339.7,625.6 L337.9,626.2 L336.1,626.7 L334.3,627.2 L332.5,627.7 L330.7,628.3 L328.9,628.8 L327.1,629.3 L325.3,629.8 L323.6,630.4 L321.8,630.9 L320.0,631.4 L318.2,631.9 L316.4,632.5 L314.6,633.0 L312.8,633.5 L311.0,634.1 L309.2,634.6 L307.4,635.1 L305.6,635.6 L303.8,636.2 L302.0,636.7 L300.2,637.2 L298.4,637.8 L296.6,638.3 L294.9,638.8 L293.1,639.4 L291.3,639.9 L289.5,640.5 L287.7,641.0 L285.9,641.5 L284.1,642.1 L282.3,642.6 L280.5,643.2 L278.7,643.7 L276.9,644.2 L275.1,644.8 L273.3,645.3 L271.5,645.9 L269.7,646.4 L267.9,646.9 L266.1,647.5 L264.4,648.0 L262.6,648.6 L260.8,649.1 L259.0,649.7 L257.2,650.2 L255.4,650.8 L253.6,651.3 L251.8,651.9 L250.0,652.4 Z" fill="#0000ff" fill-opacity="0.2"/>
<path d="M250.0,651.7 L251.8,651.5 L253.6,651.2 L255.4,650.9 L257.2,650.6 L259.0,650.3 L260.8,650.0 L262.6,649.8 L264.4,649.5 L266.1,649.2 L267.9,648.9 L269.7,648.6 L271.5,648.4 L273.3,648.1 L275.1,647.8 L276.9,647.6 L278.7,647.3 L280.5,647.0 L282.3,646.7 L284.1,646.5 L285.9,646.2 L287.7,645.9 L289.5,645.7 L291.3,645.4 L293.1,645.2 L294.9,644.9 L296.6,644.6 L298.4,644.4 L300.2,644.1 L302.0,643.9 L303.8,643.6 L305.6,643.3 L307.4,643.1 L309.2,642.8 L311.0,642.6 L312.8,642.3 L314.6,642.1 L316.4,641.8 L318.2,641.6 L320.0,641.3 L321.8,641.1 L323.6,640.9 L325.3,640.6 L327.1,640.4 L328.9,640.1 L330.7,639.9 L332.5,639.7 L334.3,639.4 L336.1,639.2 L337.9,638.9 L339.7,638.7 L341.5,638.5 L343.3,638.2 L345.1,638.0 L346.9,637.8 L348.7,637.6 L350.5,637.3 L352.3,637.1 L354.1,636.9 L355.8,636.6 L357.6,636.4 L359.4,636.2 L361.2,636.0 L363.0,635.8 L364.8,635.5 L366.6,635.3 L368.4,635.1 L370.2,634.9 L372.0,634.7 L373.8,634.5 L375.6,634.2 L377.4,634.0 L379.2,633.8 L381.0,633.6 L382.8,633.4 L384.6,633.2 L386.3,633.0 L388.1,632.8 L389.9,632.6 L391.7,632.4 L393.5,632.2 L395.3,632.0 L397.1,631.8 L398.9,631.6 L400.7,631.4 L402.5,631.2 L404.3,631.0 L406.1,630.8 L407.0,630.7 L407.0,637.0 L406.1,637.0 L404.3,637.2 L402.5,637.3 L400.7,637.4 L398.9,637.6 L397.1,637.7 L395.3,637.8 L393.5,638.0 L391.7,638.1 L389.9,638.2 L388.1,638.4 L386.3,638.5 L384.6,638.7 L382.8,638.8 L381.0,638.9 L379.2,639.1 L377.4,639.2 L375.6,639.4 L373.8,639.5 L372.0,639.7 L370.2,639.8 L368.4,640.0 L366.6,640.1 L364.8,640.3 L363.0,640.4 L361.2,640.6 L359.4,640.7 L357.6,640.9 L355.8,641.0 L354.1,641.2 L352.3,641.3 L350.5,641.5 L348.7,641.7 L346.9,641.8 L345.1,642.0 L343.3,642.2 L341.5,642.3 L339.7,642.5 L337.9,642.7 L336.1,642.8 L334.3,643.0 L332.5,643.2 L330.7,643.3 L328.9,643.5 L327.1,643.7 L325.3,643.9 L323.6,644.0 L321.8,644.2 L320.0,644.4 L318.2,644.6 L316.4,644.7 L314.6,644.9 L312.8,645.1 L311.0,645.3 L309.2,645.5 L307.4,645.7 L305.6,645.8 L303.8,646.0 L302.0,646.2 L300.2,646.4 L298.4,646.6 L296.6,646.8 L294.9,647.0 L293.1,647.2 L291.3,647.4 L289.5,647.6 L287.7,647.8 L285.9,648.0 L284.1,648.2 L282.3,648.4 L280.5,648.6 L278.7,648.8 L276.9,649.0 L275.1,649.2 L273.3,649.4 L271.5,649.6 L269.7,649.8 L267.9,650.0 L266.1,650.2 L264.4,650.4 L262.6,650.6 L260.8,650.8 L259.0,651.1 L257.2,651.3 L255.4,651.5 L253.6,651.7 L251.8,651.9 L250.0,652.1 Z" fill="#ff0000" fill-opacity="0.2"/>
<path d="M250.0,651.7 L251.8,650.5 L253.6,649.3 L255.4,648.1 L257.2,646.9 L259.0,645.7 L260.8,644.4 L262.6,643.2 L264.4,641.9 L266.1,640.6 L267.9,639.4 L269.7,638.1 L271.5,636.8 L273.3,635.5 L275.1,634.2 L276.9,632.9 L278.7,631.6 L280.5,630.3 L282.3,629.0 L284.1,627.6 L285.9,626.3 L287.7,625.0 L289.5,623.6 L291.3,622.3 L293.1,621.0 L294.9,619.6 L296.6,618.3 L298.4,616.9 L300.2,615.6 L302.0,614.2 L303.8,612.9 L305.6,611.5 L307.4,610.2 L309.2,608.8 L311.0,607.5 L312.8,606.1 L314.6,604.8 L316.4,603.4 L318.2,602.1 L320.0,600.7 L321.8,599.4 L323.6,598.0 L325.3,596.7 L327.1,595.4 L328.9,594.0 L330.7,592.7 L332.5,591.4 L334.3,590.1 L336.1,588.8 L337.9,587.5 L339.7,586.2 L341.5,584.9 L343.3,583.6 L345.1,582.4 L346.9,581.1 L348.7,579.8 L350.5,578.6 L352.3,577.3 L354.1,576.1 L355.8,574.9 L357.6,573.7 L359.4,572.5 L361.2,571.3 L363.0,570.1 L364.8,568.9 L366.6,567.8 L368.4,566.6 L370.2,565.5 L372.0,564.4 L373.8,563.2 L375.6,562.1 L377.4,561.1 L379.2,560.0 L381.0,558.9 L382.8,557.9 L384.6,556.9 L386.3,555.9 L388.1,554.9 L389.9,553.9 L391.7,552.9 L393.5,552.0 L395.3,551.0 L397.1,550.1 L398.9,549.2 L400.7,548.4 L402.5,547.5 L404.3,546.7 L406.1,545.9 L407.0,545.4" fill="none" stroke="#000000" stroke-width="1.6" stroke-linejoin="round"/>
<path d="M250.0,652.2 L251.8,651.6 L253.6,651.0 L255.4,650.4 L257.2,649.8 L259.0,649.2 L260.8,648.6 L262.6,647.9 L264.4,647.3 L266.1,646.7 L267.9,646.1 L269.7,645.5 L271.5,644.9 L273.3,644.3 L275.1,643.7 L276.9,643.1 L278.7,642.5 L280.5,641.9 L282.3,641.3 L284.1,640.7 L285.9,640.1 L287.7,639.5 L289.5,638.9 L291.3,638.3 L293.1,637.7 L294.9,637.1 L296.6,636.5 L298.4,635.9 L300.2,635.3 L302.0,634.7 L303.8,634.1 L305.6,633.5 L307.4,632.9 L309.2,632.3 L311.0,631.7 L312.8,631.1 L314.6,630.5 L316.4,629.9 L318.2,629.4 L320.0,628.8 L321.8,628.2 L323.6,627.6 L325.3,627.0 L327.1,626.4 L328.9,625.8 L330.7,625.2 L332.5,624.7 L334.3,624.1 L336.1,623.5 L337.9,622.9 L339.7,622.3 L341.5,621.7 L343.3,621.1 L345.1,620.6 L346.9,620.0 L348.7,619.4 L350.5,618.8 L352.3,618.2 L354.1,617.7 L355.8,617.1 L357.6,616.5 L359.4,615.9 L361.2,615.4 L363.0,614.8 L364.8,614.2 L366.6,613.6 L368.4,613.1 L370.2,612.5 L372.0,611.9 L373.8,611.3 L375.6,610.8 L377.4,610.2 L379.2,609.6 L381.0,609.1 L382.8,608.5 L384.6,607.9 L386.3,607.4 L388.1,606.8 L389.9,606.2 L391.7,605.7 L393.5,605.1 L395.3,604.5 L397.1,604.0 L398.9,603.4 L400.7,602.8 L402.5,602.3 L404.3,601.7 L406.1,601.2 L407.0,600.9" fill="none" stroke="#0000ff" stroke-width="1.6" stroke-linejoin="round"/>
<path d="M250.0,651.9 L251.8,651.7 L253.6,651.4 L255.4,651.2 L257.2,650.9 L259.0,650.7 L260.8,650.4 L262.6,650.2 L264.4,650.0 L266.1,649.7 L267.9,649.5 L269.7,649.2 L271.5,649.0 L273.3,648.7 L275.1,648.5 L276.9,648.3 L278.7,648.0 L280.5,647.8 L282.3,647.6 L284.1,647.3 L285.9,647.1 L287.7,646.9 L289.5,646.6 L291.3,646.4 L293.1,646.2 L294.9,645.9 L296.6,645.7 L298.4,645.5 L300.2,645.3 L302.0,645.0 L303.8,644.8 L305.6,644.6 L307.4,644.4 L309.2,644.2 L311.0,643.9 L312.8,643.7 L314.6,643.5 L316.4,643.3 L318.2,643.1 L320.0,642.9 L321.8,642.7 L323.6,642.4 L325.3,642.2 L327.1,642.0 L328.9,641.8 L330.7,641.6 L332.5,641.4 L334.3,641.2 L336.1,641.0 L337.9,640.8 L339.7,640.6 L341.5,640.4 L343.3,640.2 L345.1,640.0 L346.9,639.8 L348.7,639.6 L350.5,639.4 L352.3,639.2 L354.1,639.0 L355.8,638.8 L357.6,638.6 L359.4,638.5 L361.2,638.3 L363.0,638.1 L364.8,637.9 L366.6,637.7 L368.4,637.5 L370.2,637.3 L372.0,637.2 L373.8,637.0 L375.6,636.8 L377.4,636.6 L379.2,636.4 L381.0,636.3 L382.8,636.1 L384.6,635.9 L386.3,635.7 L388.1,635.6 L389.9,635.4 L391.7,635.2 L393.5,635.1 L395.3,634.9 L397.1,634.7 L398.9,634.6 L400.7,634.4 L402.5,634.2 L404.3,634.1 L406.1,633.9 L407.0,633.8" fill="none" stroke="#ff0000" stroke-width="1.6" stroke-linejoin="round"/>
</g>
<path d="M250.0,537.0 H402.5 V652.5 H250.0 Z" fill="none" stroke="#666" stroke-width="1"/>
<line x1="246.7" y1="652.10" x2="250.0" y2="652.10" stroke="#333" stroke-width="0.8"/>
<text x="242.4" y="655.60" font-family="'Liberation Sans', sans-serif" font-size="9.9" fill="#333" text-anchor="end" textLength="5.18" lengthAdjust="spacingAndGlyphs">0</text>
<line x1="246.7" y1="631.65" x2="250.0" y2="631.65" stroke="#333" stroke-width="0.8"/>
<text x="242.4" y="635.15" font-family="'Liberation Sans', sans-serif" font-size="9.9" fill="#333" text-anchor="end" textLength="10.35" lengthAdjust="spacingAndGlyphs">50</text>
<line x1="246.7" y1="611.20" x2="250.0" y2="611.20" stroke="#333" stroke-width="0.8"/>
<text x="242.4" y="614.70" font-family="'Liberation Sans', sans-serif" font-size="9.9" fill="#333" text-anchor="end" textLength="15.53" lengthAdjust="spacingAndGlyphs">100</text>
<line x1="246.7" y1="590.75" x2="250.0" y2="590.75" stroke="#333" stroke-width="0.8"/>
<text x="242.4" y="594.25" font-family="'Liberation Sans', sans-serif" font-size="9.9" fill="#333" text-anchor="end" textLength="15.53" lengthAdjust="spacingAndGlyphs">150</text>
<line x1="246.7" y1="570.30" x2="250.0" y2="570.30" stroke="#333" stroke-width="0.8"/>
<text x="242.4" y="573.80" font-family="'Liberation Sans', sans-serif" font-size="9.9" fill="#333" text-anchor="end" textLength="15.53" lengthAdjust="spacingAndGlyphs">200</text>
<line x1="246.7" y1="549.85" x2="250.0" y2="549.85" stroke="#333" stroke-width="0.8"/>
<text x="242.4" y="553.35" font-family="'Liberation Sans', sans-serif" font-size="9.9" fill="#333" text-anchor="end" textLength="15.53" lengthAdjust="spacingAndGlyphs">250</text>
<line x1="258.97" y1="652.5" x2="258.97" y2="655.8" stroke="#333" stroke-width="0.8"/>
<text x="258.97" y="667.6" font-family="'Liberation Sans', sans-serif" font-size="9.9" fill="#333" text-anchor="middle" textLength="20.70" lengthAdjust="spacingAndGlyphs">2020</text>
<line x1="294.85" y1="652.5" x2="294.85" y2="655.8" stroke="#333" stroke-width="0.8"/>
<text x="294.85" y="667.6" font-family="'Liberation Sans', sans-serif" font-size="9.9" fill="#333" text-anchor="middle" textLength="20.70" lengthAdjust="spacingAndGlyphs">2040</text>
<line x1="330.73" y1="652.5" x2="330.73" y2="655.8" stroke="#333" stroke-width="0.8"/>
<text x="330.73" y="667.6" font-family="'Liberation Sans', sans-serif" font-size="9.9" fill="#333" text-anchor="middle" textLength="20.70" lengthAdjust="spacingAndGlyphs">2060</text>
<line x1="366.61" y1="652.5" x2="366.61" y2="655.8" stroke="#333" stroke-width="0.8"/>
<text x="366.61" y="667.6" font-family="'Liberation Sans', sans-serif" font-size="9.9" fill="#333" text-anchor="middle" textLength="20.70" lengthAdjust="spacingAndGlyphs">2080</text>
<line x1="402.49" y1="652.5" x2="402.49" y2="655.8" stroke="#333" stroke-width="0.8"/>
<text x="402.49" y="667.6" font-family="'Liberation Sans', sans-serif" font-size="9.9" fill="#333" text-anchor="middle" textLength="20.70" lengthAdjust="spacingAndGlyphs">2100</text>
<text x="326.25" y="682.4" font-family="'Liberation Sans', sans-serif" font-size="10.4" fill="#222" text-anchor="middle">Year</text>
<text transform="translate(217.8,594.75) rotate(-90)" font-family="'Liberation Sans', sans-serif" font-size="10.4" fill="#222" text-anchor="middle">PgC</text>
<line x1="52" y1="29.6" x2="61.7" y2="29.6" stroke="#444" stroke-width="1.5"/>
<text x="66.8" y="32.9" font-family="'Liberation Sans', sans-serif" font-size="9.4" fill="#222">Global ocean</text>
<line x1="52" y1="40.6" x2="61.7" y2="40.6" stroke="#2222ff" stroke-width="1.3"/>
<text x="66.8" y="43.9" font-family="'Liberation Sans', sans-serif" font-size="9.4" fill="#222">Southern Ocean</text>
<line x1="52" y1="50.9" x2="61.7" y2="50.9" stroke="#ff7070" stroke-width="1.8"/>
<text x="66.8" y="54.199999999999996" font-family="'Liberation Sans', sans-serif" font-size="9.4" fill="#222">Northern oceans</text>
</svg>
</body></html>
